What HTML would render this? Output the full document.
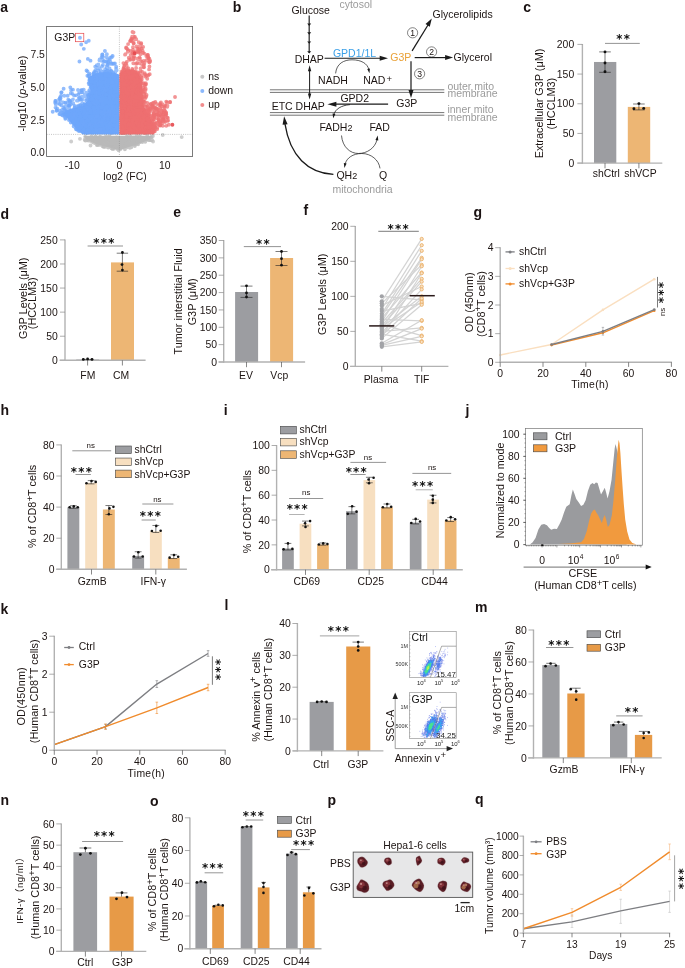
<!DOCTYPE html>
<html><head><meta charset="utf-8"><title>Figure</title>
<style>
html,body{margin:0;padding:0;background:#fff;}
svg{display:block;fill:#1c1412;font-family:"Liberation Sans",sans-serif;}
</style></head><body>
<svg width="685" height="968" viewBox="0 0 685 968">
<rect width="685" height="968" fill="#fff"/>
<text x="0.3" y="12" font-size="14" font-weight="bold" fill="#1a1212">a</text>
<polygon points="83.48,135.68 152.9,135.68 147.63,140.6 137.08,144.46 129.17,146.92 119.33,150.26 108.08,147.28 95.78,144.11 86.47,139.72" fill="#B9B9B9" stroke="none" stroke-width="0.5"/>
<path d="M95.55 136.46h0M100.12 136.75h0M109.56 136.44h0M127.06 136.15h0M130.5 136.58h0M136.37 136.29h0M139.54 136.08h0M147.24 135.9h0M151.67 136.74h0M152.84 136.07h0M150.09 137.8h0M149.74 140.14h0M148.4 140.08h0M145.24 141.78h0M142.26 142.05h0M140.5 142h0M138.13 144.33h0M136.19 143.86h0M134.84 145.97h0M132.12 145.57h0M131.27 147.23h0M129.94 147.8h0M126.67 147.39h0M124.9 149.18h0M124.37 148.09h0M120.52 148.95h0M118.69 150.23h0M117.3 149.1h0M113.64 148.87h0M112.27 148.63h0M111.42 148.33h0M108.12 147.56h0M106.46 145.68h0M104.94 146.89h0M102.83 146.41h0M99.62 144.92h0M96.88 144.96h0M94.73 143.07h0M93.22 142.42h0M91.67 141.28h0M88.99 140.64h0M87.37 140.27h0M85.33 140.62h0M85.25 136.85h0" fill="none" stroke="#B9B9B9" stroke-width="3.9" stroke-linecap="round" stroke-opacity="0.8"/>
<path d="M98.59 141.27h0M116.5 137.46h0M105.58 140.07h0M91.57 136.54h0M119.94 138.34h0M132.92 140.01h0M120.27 147.57h0M136.3 139.51h0M106.58 136.63h0M100.69 139.98h0M96.13 139.51h0M116.16 145.73h0M137.09 143.18h0M140.11 141.05h0M135.13 138.68h0M141.45 138.34h0M106.18 144.21h0M129.32 143.89h0M112.63 148.92h0M95.41 139.88h0M97.69 144.76h0M111.49 138.12h0M106.44 142.89h0M120.21 143.84h0M113.12 138.87h0M140.88 138.72h0M135.16 144.32h0M119.17 144.31h0M98.3 140.24h0M118.35 144.4h0M126.45 143.58h0M132.65 142.8h0M151.94 139.99h0M89.69 137.98h0M84.7 139.71h0M148.45 138.46h0M130.14 138.29h0M143.46 138.56h0M118.96 141.15h0M103.72 146.74h0M121.93 142.63h0M104.72 145.31h0M87.19 140.08h0M139.32 140.15h0M142.42 139.98h0M133.25 137.51h0M132.3 142.41h0M141.07 137.43h0M114.18 141.15h0M150.74 140.11h0M119.83 139.68h0M91.57 136.94h0M103.21 140.65h0M101.51 143.5h0M105.92 136.47h0M121.7 138.97h0M151.36 137.75h0M112.51 143.42h0M109.48 143.59h0M128.27 142.11h0" fill="none" stroke="#B9B9B9" stroke-width="3.9" stroke-linecap="round" stroke-opacity="0.75"/>
<path d="M71.18 141.48h0M162.72 134.97h0M181.7 137.08h0M90.51 145.52h0M153.06 141.48h0M147.79 138.84h0M79.96 138.84h0" fill="none" stroke="#B9B9B9" stroke-width="3.9" stroke-linecap="round" stroke-opacity="0.7"/>
<polygon points="119.33,134.45 82.6,134.45 76.45,129.17 71.18,123.02 66.78,117.75 61.51,114.24 66.78,110.72 75.57,107.56 82.6,105.45 87.87,100.18 90.51,91.39 88.75,82.6 88.22,77.33 94.9,73.46 105.45,71.7 114.24,72.41 119.33,74.69" fill="#6EA6FB" stroke="none" stroke-width="0.5"/>
<polygon points="119.31,134.45 153.94,134.45 156.05,130.4 153.06,123.02 147.79,114.24 143.74,105.45 142.69,91.39 141.63,79.09 136.71,71.18 129.33,68.89 122.3,70.65 119.31,73.46" fill="#EE6F70" stroke="none" stroke-width="0.5"/>
<path d="M79.08 131.16h0M77.87 130.08h0M76.72 129.27h0M75.49 127.63h0M73.63 126.29h0M70.82 122.47h0M71.26 120.14h0M68.97 119.97h0M65.32 118.82h0M65.4 116.4h0M62.26 115.23h0M62.99 112.55h0M66.8 111.79h0M69.96 110.97h0M71.45 110.4h0M73.96 108.97h0M74.71 106.06h0M76.74 106.41h0M78.99 107.23h0M82.79 105.86h0M84.76 104.27h0M86.08 100.34h0M88.83 100.97h0M88.54 98.09h0M89.7 94.39h0M90.61 92.79h0M89.15 90.64h0M90.8 88.25h0M90.4 88.52h0M89.17 84.42h0M88.69 83.19h0M89.34 80.34h0M88.68 75.98h0M89.32 75.25h0M93.46 74.13h0M95.12 71.9h0M96.13 72.28h0M100.73 73.2h0M103.37 71.47h0M105.5 71.59h0M107.54 70.66h0M111.1 71.09h0M113.57 73.63h0M112.69 72.28h0M117.74 94.58h0M117.74 104.27h0" fill="none" stroke="#6EA6FB" stroke-width="3.9" stroke-linecap="round" stroke-opacity="0.8"/>
<path d="M124.63 133h0M130.17 133h0M154.83 131.27h0M155.06 129.09h0M154.54 126.64h0M153.22 124.71h0M153.28 124.26h0M152.54 120.55h0M150.15 118.71h0M148.71 115.91h0M146.38 113.52h0M148.27 110.84h0M145.78 110.26h0M145.92 106.74h0M143.01 104.64h0M143.25 102.93h0M144.84 101.88h0M144.41 96.89h0M141.54 96.75h0M144.13 93.65h0M142.97 89.79h0M142.13 90.29h0M143.31 87.6h0M143.57 83.2h0M140.59 80.44h0M141.71 79.67h0M141.82 77.82h0M139.65 75.98h0M137.81 73.32h0M135.24 72.08h0M133.4 71.76h0M132.26 69.03h0M128.14 68.1h0M127.43 70.11h0M123.4 68.69h0M122.38 70.92h0" fill="none" stroke="#EE6F70" stroke-width="3.9" stroke-linecap="round" stroke-opacity="0.8"/>
<path d="M112.17 124.36h0M102.26 54.46h0M107.17 119.31h0M77.9 127.31h0M77.35 125.47h0M80.39 118.47h0M70.36 113.18h0M116.05 102.48h0M100.33 77.82h0M113.36 103.88h0M84.59 130.37h0M81.64 92.35h0M65.53 117.72h0M107.25 115.27h0M77.2 116.05h0M66.47 113.64h0M89.63 78.58h0M111.21 132.92h0M86.1 110.1h0M94.05 107.17h0M108.83 106.38h0M108.43 75.96h0M77.92 112.42h0M91.31 78.63h0M106.31 105.47h0M107.01 120.83h0M117.04 99.71h0M77.87 122.93h0M70.55 115.68h0M60.5 100.77h0M70.22 101.04h0M74.94 107.52h0M105.46 96.83h0M89.47 104.31h0M64.28 108.92h0M115.75 77.48h0M66.46 111.6h0M81.23 119.18h0M111.17 89.67h0M95.38 126.52h0M94.17 82.28h0M87.58 127.8h0M85.59 117.9h0M115.09 131.91h0M78.89 126.06h0M107.37 65h0M108.79 119.9h0M100.87 125.49h0M90.27 114.01h0M108.26 61.51h0M89.47 103.31h0M80.99 99.66h0M96.56 88.52h0M55.13 102.64h0M68.94 114.51h0M101.43 115.67h0M78.24 129.89h0M106.74 67.74h0M85.67 130.36h0M64.37 116.55h0M102.91 64.88h0M71.53 118.79h0M86.35 127.35h0M70.74 93.38h0M97.92 125.34h0M104.78 61.29h0M95.09 81.37h0M89.8 99.45h0M94.67 84.2h0M91.25 81.41h0M102.09 55.81h0M70.14 104.31h0M91.8 106.32h0M63.34 102.41h0M87.03 125.35h0M68.42 105.45h0M68.22 99.74h0M66.92 103.05h0M59.85 104.23h0M104.6 84.84h0M90.27 80.6h0M82.54 128.76h0M114.95 63.52h0M93.25 93.45h0M106.64 66.18h0M111.59 116.11h0M102.19 90.03h0M102.48 108.9h0M100.01 73.68h0M82.03 116.56h0M70.9 104.54h0M69 112.9h0M102.25 78.67h0M112.78 103.61h0M96.98 132.2h0M108.35 109.1h0M82.11 111.32h0M112.99 63.71h0M98.76 103.87h0M101.64 57.24h0M77.3 118.95h0M111.72 57.26h0M113.22 129.35h0M106.55 103.89h0M94.78 75.43h0M59.98 114.01h0M72.03 110.59h0M86.45 121.72h0M82.06 115.29h0M99.55 95.99h0M109.82 59.3h0M66.78 114.4h0M85.65 117.24h0M107.84 73.23h0M99.21 92.74h0M104.98 109.06h0M94.55 81.03h0M79.33 124.92h0M112.36 92.98h0M111.24 71.02h0M88.26 113.77h0" fill="none" stroke="#6EA6FB" stroke-width="3.9" stroke-linecap="round" stroke-opacity="0.72"/>
<path d="M137.43 48.41h0M154.41 107.8h0M143.11 110.98h0M127.28 79.46h0M132.94 52.08h0M156.49 118.09h0M128.79 57.75h0M137.5 51.85h0M140.34 132.28h0M130.83 97.27h0M131.35 72h0M141.09 112.76h0M146.23 96.7h0M128.07 93.8h0M158.4 124.61h0M149.95 108.52h0M132.47 105.8h0M160.07 103.56h0M143.87 64.38h0M125.85 75.16h0M133.55 75.57h0M155.07 126.85h0M154.02 111.46h0M145.69 131.35h0M153.25 116.61h0M141.67 128.65h0M142.08 75.26h0M138.72 59.53h0M147.57 54.85h0M140.74 54.15h0M160.2 114.64h0M144.64 89.59h0M153.23 115.57h0M144.59 62.49h0M127.23 117.09h0M139.94 58.36h0M133.3 63.24h0M142.58 97.2h0M139.24 126.7h0M123.78 116.5h0M133.55 42.97h0M132.72 111.27h0M128.62 124.21h0M129.4 122.9h0M166.14 112.47h0M130.89 102.82h0M134.28 56.39h0M145.77 83.12h0M142.09 129.93h0M122.34 94.41h0M145.43 123.55h0M138.03 119.92h0M144.91 85.89h0M131.56 76.74h0M148.94 116.38h0M146.39 60.19h0M136.95 62.98h0M153.03 112.08h0M157.47 122.34h0M123.41 63.1h0M130.51 125.97h0M154.2 112.56h0M152.62 103.19h0M160.1 125.22h0M139.57 115.96h0M149.35 58.81h0M142.24 64.93h0M153.38 127.22h0M126.91 114.72h0M121.61 71.88h0M144.96 74.44h0M121.14 101.91h0M121.8 105.51h0M123.43 111.04h0M164.2 106.56h0M152.71 104.48h0M153.83 115.43h0M136.64 106.53h0M123.92 69.9h0M143.1 101.21h0M142.05 71.74h0M149.59 62.29h0M136.52 76.07h0M139.96 102.01h0M166.25 114.43h0M142.28 92.07h0M163.07 114.86h0M149.84 60.41h0M125.2 88.74h0M131.04 108.63h0M132.74 94.13h0M144.45 53.6h0M158.92 112.83h0M125.34 114.34h0M132.68 91.36h0M145.02 92.35h0M130.63 50.98h0M139.26 89.83h0M126.27 96.74h0M128.8 93.14h0M122.6 132.95h0M145.51 90.11h0M133.75 36.52h0M130.04 41.16h0M149.11 120.83h0M168.84 124.8h0M126.97 129.8h0M140.79 78.07h0M132.12 36.6h0M138.71 124.07h0M160.7 104.52h0M128.23 109.11h0M150.83 109.41h0M137.29 58.71h0M132.97 47.18h0M121.53 105.29h0M122.72 126.6h0M168.17 120.43h0M127.97 77.96h0M167.91 117.95h0M143.79 67.08h0M145.07 96.28h0M132.12 38.43h0M141.74 48.45h0M129.39 82.39h0M131.58 81.02h0M133.94 53.1h0M135.55 123.41h0M130.3 76.75h0M131.94 90.53h0M130.01 110.68h0M130.85 40.71h0M134.76 53.55h0M156.72 114.85h0" fill="none" stroke="#EE6F70" stroke-width="3.9" stroke-linecap="round" stroke-opacity="0.72"/>
<path d="M101.38 85.34h0M75.46 120.94h0M112.95 90.96h0M107.83 81.97h0M77.8 100.67h0M100.2 118.86h0M74.53 110.22h0M102.59 56.87h0M115.81 92.46h0M88.19 95.95h0M116.68 70.21h0M106.88 54.31h0M99.18 67.86h0M92.68 99.16h0M99.42 60.29h0M61.63 92.36h0M92.19 122.52h0M90.95 113.12h0M107.46 128.8h0M81.02 120.76h0M79.4 129.1h0M117.58 117.86h0M106.75 121.41h0M87.34 130.46h0M94.86 81.76h0M104.24 128.74h0M106.37 124.43h0M55.84 104.5h0M97.84 74.29h0M113.87 102.83h0M115.6 75.44h0M92.35 130.31h0M71.1 90.13h0M89.22 120.77h0M90.78 105.22h0M99.92 89.67h0M93.56 90.34h0M76.6 122.58h0M89.9 92.18h0M110.41 87.96h0M101.55 60.81h0M116.15 112.47h0M97.64 102.43h0M107.15 94.34h0M102.07 114.2h0M104.78 110h0M91.8 92.71h0M90.9 86.14h0M110.51 101.69h0M100.75 75.89h0M89.81 83.4h0M104.92 121.57h0M91.12 99.58h0M113.6 78.43h0M108.25 130.53h0M81.41 126.58h0M86.03 127.38h0M87.33 108.08h0M76.93 100.66h0M115.41 107.37h0M79.74 97.92h0M110.97 131h0M82.3 103.11h0M75.99 95.36h0M117.4 119.64h0M98.58 119.19h0M111.51 86.39h0M72.51 93.83h0M94.69 101.35h0M80.43 116.49h0M73.45 120.96h0M97.16 67.99h0M89.68 73.68h0M63.82 114.18h0M87.67 119.4h0M106.19 56.94h0M103.85 78.34h0M112.54 99.63h0M91.59 130.6h0M94.04 72.31h0M114.29 122h0M112.21 118.81h0M92.89 130.64h0M115.53 71.78h0M100.45 70.02h0M110.67 91.6h0M116.95 75.7h0M61.09 95.65h0M96.91 79.87h0M99.63 59.45h0M108.05 62.33h0M108.13 117.91h0M76.61 111.14h0M116.09 68.92h0M86.52 70.5h0M62.14 109.83h0M112.26 100.07h0M69.66 101.76h0M110.48 61.92h0M88.98 74.04h0M78.69 105.81h0M109.09 78.19h0M60.71 97.97h0M100.33 75.02h0M112.87 115.45h0M109.76 62.69h0M55.53 107.62h0M96.58 109.24h0M108.81 80.74h0M113.11 112.09h0M95.22 66.59h0M90.78 110.66h0M81.96 108.01h0M104.23 75.35h0M109.3 101.7h0M105.21 69.09h0M102.47 58.91h0M79.27 113.2h0M115.31 86.64h0M98.7 112.47h0M94.56 89.01h0" fill="none" stroke="#6EA6FB" stroke-width="3.9" stroke-linecap="round" stroke-opacity="0.72"/>
<path d="M146.81 126.64h0M156.47 114.25h0M148.55 130.82h0M148.43 57.97h0M139.01 74.36h0M136.61 46.51h0M133.13 84.86h0M136.05 122.25h0M149.41 66.46h0M148.65 109.68h0M144.24 110.25h0M126.69 61.98h0M131.34 38.8h0M130.87 103.71h0M126.62 65.54h0M139.27 49.71h0M121.44 133.12h0M125.15 105.29h0M145.64 76.65h0M152.67 127.36h0M133.62 57.59h0M122.3 111.09h0M135.89 51.49h0M129.42 112.12h0M130.24 116.24h0M139.55 88.48h0M122.98 90.07h0M162.39 104.11h0M136.06 91.52h0M143.33 130.86h0M122.92 77.18h0M163.45 119.27h0M142.43 61.36h0M146.94 75.33h0M143.1 100.12h0M135.87 77.55h0M138.52 52.47h0M137.28 79.3h0M166.89 120.3h0M135.93 90.5h0M145.23 98.22h0M138.28 122.29h0M130.45 101.39h0M125.21 99.55h0M140.96 44.25h0M126.58 119.97h0M125.7 86.42h0M145.66 88.77h0M124.96 73.99h0M143.14 120.1h0M157.07 109.31h0M126.06 116.73h0M129.56 129.87h0M132.89 70.38h0M136.08 104.3h0M167.34 120.84h0M139.78 107.32h0M148.68 113.98h0M133.78 52.24h0M126.49 113.74h0M148.95 62.05h0M140.17 47.29h0M128.54 83.48h0M130.12 115.53h0M140.77 80.85h0M124.74 66.02h0M139.17 80.04h0M140.53 68.49h0M121.93 79.19h0M134.73 83.3h0M122.62 89.44h0M165.05 111.07h0M135.15 113.2h0M136.28 109.96h0M138.63 88.44h0M123.96 66.83h0M139.49 57.33h0M138.57 46.42h0M143.45 90.26h0M136.16 63.92h0M148.8 127.59h0M138.96 111.09h0M145.42 123.71h0M129.23 59.82h0M131.95 73.14h0M151.41 120.16h0M130.85 106.98h0M161.87 121.32h0M127.81 51.74h0M137.43 108.54h0M141.41 101.42h0M123.8 74.63h0M133.91 79.6h0M151.97 105.99h0M128.12 110.35h0M156.91 109.96h0M136.55 110.9h0M143.83 60.86h0M121.35 80.85h0M123.94 83.49h0M130.1 127.82h0M128.45 50.65h0M122.37 111.46h0M137.29 124.15h0M133.65 59.24h0M132.61 53.26h0M164.58 120.68h0M158.94 115.98h0M137.68 81.84h0M129.08 101.81h0M143.83 91.32h0M131.52 122.13h0M160.37 120.09h0M126.54 131.32h0M129.44 101.81h0M138.08 125.67h0M160.99 102.48h0M146.45 56.14h0M142.58 50.81h0M128.38 107.42h0M126.58 68.48h0M131.79 130.63h0M129.87 59.48h0M123.08 84.19h0M149.07 69.4h0M165.14 105.35h0M137.01 75.12h0M140.49 71.7h0M151.66 126.46h0M133.08 52.78h0M163.57 112.05h0M123.4 102.96h0M136.87 131.05h0M158.67 119.09h0" fill="none" stroke="#EE6F70" stroke-width="3.9" stroke-linecap="round" stroke-opacity="0.72"/>
<path d="M94.65 112.85h0M100.04 84.14h0M93.56 107.43h0M94.61 96.42h0M93.54 73.59h0M84.46 111.07h0M88.08 94.85h0M106.64 71.43h0M107.19 89.62h0M107.55 125.22h0M107.86 118.96h0M105.97 94.63h0M84.79 117.36h0M63.38 107.67h0M87.55 71.35h0M65.24 110.79h0M107.99 59.34h0M109.6 68.4h0M105.26 102.56h0M77.54 110.33h0M80.2 105.04h0M91.34 127.75h0M116.94 110.27h0M97 78.88h0M102.9 82.98h0M85.98 125.82h0M83.76 89.78h0M80.65 90.72h0M82.28 92.17h0M107.37 106.87h0M97.93 97.3h0M103.8 61.54h0M102.72 98.17h0M98 110.2h0M57.17 108.56h0M110.45 63.79h0M109.6 97.45h0M73.46 122.98h0M109.46 72.95h0M77.98 89.95h0M91.67 81.86h0M74.09 95.6h0M90.44 78.4h0M105.51 75.77h0M105.93 100.44h0M114.56 88.36h0M109.85 57.75h0M90.19 117.56h0M97.54 107.24h0M115.6 85.88h0M98.33 64.55h0M108.12 75.95h0M91.55 78h0M74.75 120.89h0M105.72 132.29h0M95.38 70.18h0M101.09 87.13h0M102.53 92.6h0M109.94 100.91h0M108.73 70.49h0M55.72 100.99h0M76.05 129.36h0M102.01 66.52h0M89.57 116.52h0M91.29 80.81h0M96.84 65.3h0M114.99 79.06h0M110.55 91.26h0M61.24 92.56h0M64.3 95.79h0M110.43 93.03h0M85.45 116.77h0M98.52 70.66h0M87.39 75.81h0M59.1 99.33h0M92.42 116.19h0M92.67 132.52h0M93.91 108.63h0M75.91 118.37h0M114.91 85.66h0M101.45 107.56h0M86.03 115.8h0M102.6 104.08h0M94.36 121.26h0M59.63 110.73h0M97.47 113.04h0M107.62 128.76h0M102.18 120.17h0M92.1 87.57h0M104.75 123.32h0M116.26 95.48h0M104.95 72.53h0M85.72 126.38h0M99.92 84.02h0M105.35 107.89h0M107.44 85.19h0M96.15 120.48h0M92.39 120.48h0M106.57 86.21h0M108.67 102.67h0M99.32 88.12h0M106.23 61.75h0M116.05 81.59h0M111.62 101.93h0M79.32 92.86h0M86.64 132.98h0M107.76 65.16h0M115.22 89.15h0M60.18 97.21h0M114.15 125.2h0M58.55 103.06h0M116.06 81.54h0M94.81 82.69h0M97.72 126.3h0M98.17 97.59h0M102.57 124.98h0M102.49 54.73h0M111.72 63.71h0M79.18 113.19h0" fill="none" stroke="#6EA6FB" stroke-width="3.9" stroke-linecap="round" stroke-opacity="0.72"/>
<path d="M135.11 109.87h0M148.45 75.28h0M153.74 114.17h0M140.15 130.18h0M129.09 90.91h0M127.98 84.92h0M129.1 107.43h0M135.96 71.46h0M136.56 128.22h0M137.14 77.06h0M134.07 72.57h0M131.22 124.68h0M128.59 109.33h0M139.26 125.57h0M135.49 96.48h0M138.8 127.84h0M133.21 39.76h0M141.79 114.46h0M136.43 97.96h0M138.19 72.43h0M138.6 51.49h0M154.78 123.95h0M141.81 83.52h0M141.33 90.77h0M163.66 112.51h0M128.55 100.67h0M146.23 123.63h0M158.5 115.8h0M156.53 103.93h0M134.82 39.5h0M131.68 55.35h0M121.07 96.39h0M134.82 38.67h0M148.98 114.42h0M132.26 96.41h0M137.65 90.23h0M163.38 114.56h0M122.44 111.46h0M146.44 75.6h0M152.78 106.03h0M141.15 84.53h0M132.35 120.52h0M137.57 132.53h0M143.87 101.8h0M143.91 67.28h0M141.29 61.29h0M143.1 52.7h0M130.85 59.58h0M167.46 105.83h0M121.55 120.11h0M138.88 49.25h0M138.88 123.69h0M126.3 48.27h0M144.75 132.96h0M126.41 89.72h0M131.49 58.19h0M166.9 104.58h0M161.99 117.86h0M121.36 116.74h0M124.49 65.42h0M133.22 124.38h0M126.16 92.54h0M131.01 78.89h0M153.11 104.26h0M124.32 106.03h0M144.72 73.2h0M153.77 102.74h0M128.07 124.71h0M140.75 112.46h0M152.98 107.76h0M125.64 131.5h0M133.07 126.9h0M154.9 126.87h0M130.36 114.39h0M160.73 122.75h0M121.01 118.88h0M123.64 87.91h0M162.89 114.84h0M127.08 98.49h0M138.74 42.21h0M163.91 118.56h0M139.5 63.33h0M128.38 94.08h0M147.22 78.81h0M167.28 106.86h0M167.1 117.44h0M122.45 101.61h0M142.7 121.58h0M136.11 67.97h0M125.69 77.52h0M154 127.06h0M133.54 74.44h0M132.58 122.41h0M137.53 110.68h0M165.93 113.13h0M126.2 116.25h0M148.09 130.44h0M148.15 127.64h0M167.15 102.52h0M125.43 54.19h0M134.07 105.15h0M129.82 77.03h0M155.85 108.21h0M133.47 58.72h0M134.03 130.31h0M136.28 39.16h0M128.1 44.11h0M169.97 102.29h0M125.96 63.38h0M164.17 113.96h0M130.51 124.29h0M132.2 39.25h0M139.43 85.64h0M133.46 113.26h0M140.17 110.11h0M130.71 54.86h0M139.39 97.62h0M154.49 117.36h0M122.38 77.06h0M144.18 104.72h0M126.86 81.23h0M132.58 77.26h0M124.33 69.25h0M133.03 49.96h0M131.65 41.1h0M143.83 64.86h0M126.96 132.32h0M122.13 80.3h0M148.08 56.39h0M128.24 114.04h0M158.37 119.48h0M132.38 93.22h0M125.05 54.65h0M143.12 46.91h0M145.04 84.48h0" fill="none" stroke="#EE6F70" stroke-width="3.9" stroke-linecap="round" stroke-opacity="0.72"/>
<path d="M158.14 109.88h0M154.46 110.18h0M151.45 115.64h0M152.62 108.24h0M150.03 117.07h0M160.16 107.5h0M146.96 132.37h0M147.33 119.12h0M149.5 108.4h0M154.37 115.7h0M165.3 115.66h0M144.66 112.09h0M153.65 119.34h0M162.28 123.09h0M146.87 110.71h0M157.36 127.55h0M157 108.83h0M149.98 110.49h0M155.96 123.82h0M160.82 122.21h0M159.4 124.77h0M161.81 110.38h0M164.36 110.37h0M152.3 123.39h0M147.12 110.07h0M150.21 104.42h0M153.34 116.06h0M157.15 114.09h0M154.03 108.64h0M147.86 114.51h0M158.6 122.52h0M161.37 112.43h0M162.61 121.51h0M163.8 121.14h0M160.47 111.57h0M149.4 111.35h0M146.82 131.59h0M147.59 113.48h0M151.42 115.96h0M150.04 105h0M147.9 106.1h0M159.82 111.29h0M160.54 113.67h0M148.48 131.42h0M159.73 114.98h0" fill="none" stroke="#EE6F70" stroke-width="3.9" stroke-linecap="round" stroke-opacity="0.72"/>
<path d="M149.39 127.44h0M148.54 124.73h0M161.93 110.33h0M159.08 120.42h0M148.57 120.95h0M158.42 110.62h0M153.72 119.46h0M149.2 112.13h0M159.7 121.92h0M148.84 112.74h0M150.09 108.1h0M162 112.7h0M160.37 105.02h0M155.74 107.91h0M163.85 117.3h0M146.94 118.66h0M152.37 124.99h0M161.58 106.55h0M152.91 117.96h0M159.19 110.05h0M154.91 124.87h0M152.57 116.85h0M165.12 122.04h0M154.44 122.59h0M154.67 122.06h0M161.47 116.56h0M153.06 106.18h0M145.41 112.05h0M147.28 106.56h0M147.93 119.42h0M148.05 108.59h0M153.77 113.56h0M146.88 111.19h0M157.75 112.07h0M160.25 125.53h0" fill="none" stroke="#EE6F70" stroke-width="3.9" stroke-linecap="round" stroke-opacity="0.72"/>
<path d="M61.12 114.12h0M82.36 99.43h0M88.43 94.91h0M80 99.49h0M68.82 110.88h0M80.64 105.78h0M87.11 99.15h0M82.55 97.7h0M62.27 112.97h0M80.38 97.19h0M82.34 97.4h0M67.53 111.31h0M72.96 99.37h0M66.31 111.41h0M84.6 94.69h0M84.3 104.38h0M66.11 109.96h0M84.29 96.47h0M81.78 96.78h0M68.25 110.43h0M65.1 106.39h0M79.63 98.78h0M72.25 102.87h0M78.33 94.35h0M69.3 108.41h0M61.99 112.34h0M69.34 100.42h0M86.35 96.17h0M65.76 108.76h0M73.22 103.26h0M59.39 114.09h0M60.76 112.98h0M69.01 105.67h0M72.07 102.5h0M61.4 105.28h0M78.83 97.85h0M86.19 92.64h0M56.87 110.29h0M66 109.58h0M68.54 106.06h0" fill="none" stroke="#6EA6FB" stroke-width="3.9" stroke-linecap="round" stroke-opacity="0.72"/>
<path d="M79.96 37.79h0M88.75 40.77h0M86.12 42.18h0M81.2 44.46h0M83.83 48.86h0M104.92 50.97h0M79.44 61.51h0M87.87 58.88h0M90.51 60.63h0M112.48 55.89h0M112.64 55.89h0M113.87 63.62h0M116.15 66.78h0M63.62 88.75h0M70.3 87.35h0M72.93 89.63h0M55.36 101.05h0M59.75 98.42h0M52.72 111.78h0M56.59 110.72h0M81.72 89.98h0M67.66 95.78h0M65.38 102.81h0M69.42 105.45h0" fill="none" stroke="#6EA6FB" stroke-width="3.9" stroke-linecap="round" stroke-opacity="0.75"/>
<path d="M132.5 31.99h0M133.55 32.34h0M134.96 36.91h0M130.74 40.42h0M141.28 43.23h0M133.73 43.59h0M126.17 47.45h0M127.57 49.21h0M140.23 51.32h0M147.79 54.83h0M150.07 61.16h0M148.31 58h0M175.03 97.01h0M170.11 101.93h0M166.24 101.58h0M155.34 101.93h0M150.77 104.04h0M147.26 102.99h0M159.21 105.1h0M164.48 107.56h0M165.89 113.88h0M162.72 119.51h0M166.24 125.83h0M162.72 125.83h0M157.1 129.17h0M149.72 74.17h0M146.03 84.36h0M146.56 94.9h0" fill="none" stroke="#EE6F70" stroke-width="3.9" stroke-linecap="round" stroke-opacity="0.75"/>
<path d="M172.39 124.78h0M134.6 53.25h0" fill="none" stroke="#E5484C" stroke-width="3.9" stroke-linecap="round" stroke-opacity="0.9"/>
<line x1="119.4" y1="26.4" x2="119.4" y2="156.4" stroke="#888" stroke-width="0.5" stroke-dasharray="1 1.2"/>
<line x1="46.6" y1="134.4" x2="192.6" y2="134.4" stroke="#888" stroke-width="0.5" stroke-dasharray="1 1.2"/>
<rect x="46.6" y="26.4" width="146" height="130" fill="none" stroke="#5a5a5a" stroke-width="0.8"/>
<text x="54.3" y="41.2" font-size="10.4">G3P</text>
<rect x="75.4" y="33.3" width="8.4" height="8.4" fill="none" stroke="#E5484C" stroke-width="0.7"/>
<text x="44.9" y="58.25" font-size="10.4" text-anchor="end">7.5</text>
<text x="44.9" y="91.05" font-size="10.4" text-anchor="end">5.0</text>
<text x="44.9" y="123.75" font-size="10.4" text-anchor="end">2.5</text>
<text x="44.9" y="156.25" font-size="10.4" text-anchor="end">0.0</text>
<text x="72.3" y="168.5" font-size="10.4" text-anchor="middle">-10</text>
<text x="119.4" y="168.5" font-size="10.4" text-anchor="middle">0</text>
<text x="164.8" y="168.5" font-size="10.4" text-anchor="middle">10</text>
<text x="125" y="179.6" font-size="10.4" text-anchor="middle">log2 (FC)</text>
<text x="26.3" y="93.6" font-size="10.85" text-anchor="middle" transform="rotate(-90 26.3 93.6)">-log10 (<tspan font-style="italic">p</tspan>-value)</text>
<circle cx="202.3" cy="76.8" r="2" fill="#B9B9B9" opacity="0.8"/>
<text x="208.2" y="80.1" font-size="10.4">ns</text>
<circle cx="202.3" cy="90.9" r="2" fill="#6EA6FB" opacity="0.8"/>
<text x="208.2" y="94.2" font-size="10.4">down</text>
<circle cx="202.3" cy="105.1" r="2" fill="#EE6F70" opacity="0.8"/>
<text x="208.2" y="108.4" font-size="10.4">up</text>
<text x="232.7" y="12" font-size="14" font-weight="bold" fill="#1a1212">b</text>
<text x="310.7" y="13.6" font-size="10.5" text-anchor="middle">Glucose</text>
<text x="355.8" y="8.3" font-size="10.5" text-anchor="middle" fill="#9b9b9b">cytosol</text>
<text x="309.3" y="62.8" font-size="10.5" text-anchor="middle">DHAP</text>
<text x="354.5" y="56.5" font-size="10.5" text-anchor="middle" fill="#3BA0E8">GPD1/1L</text>
<text x="400.8" y="60.7" font-size="10.5" text-anchor="middle" fill="#E9A137">G3P</text>
<text x="462.6" y="17.5" font-size="10.5" text-anchor="middle">Glycerolipids</text>
<text x="472.8" y="60.7" font-size="10.5" text-anchor="middle">Glycerol</text>
<text x="333" y="84.3" font-size="10.5" text-anchor="middle">NADH</text>
<text x="374.3" y="84.3" font-size="10.5" text-anchor="middle">NAD</text>
<text x="389.3" y="81.6" font-size="9.5" text-anchor="middle">+</text>
<text x="298.2" y="109.7" font-size="10.5" text-anchor="middle">ETC DHAP</text>
<text x="354.7" y="102" font-size="10.5" text-anchor="middle">GPD2</text>
<text x="406.8" y="107.3" font-size="10.5" text-anchor="middle">G3P</text>
<text x="319.4" y="130.9" font-size="10.5">FADH<tspan font-size="9">2</tspan></text>
<text x="379.6" y="130.9" font-size="10.5" text-anchor="middle">FAD</text>
<text x="336.4" y="178.7" font-size="10.5">QH<tspan font-size="9">2</tspan></text>
<text x="383.2" y="178.7" font-size="10.5" text-anchor="middle">Q</text>
<text x="362.6" y="192.9" font-size="10.5" text-anchor="middle" fill="#9b9b9b">mitochondria</text>
<text x="447.4" y="89.8" font-size="10.5" fill="#9b9b9b">outer mito</text>
<text x="447.4" y="97.4" font-size="10.5" fill="#9b9b9b">membrane</text>
<text x="447.4" y="113.2" font-size="10.5" fill="#9b9b9b">inner mito</text>
<text x="447.4" y="120.8" font-size="10.5" fill="#9b9b9b">membrane</text>
<line x1="269.9" y1="89.8" x2="444.3" y2="89.8" stroke="#3a3a3a" stroke-width="0.7"/>
<line x1="269.9" y1="92.4" x2="444.3" y2="92.4" stroke="#3a3a3a" stroke-width="0.7"/>
<line x1="269.9" y1="112.6" x2="444.3" y2="112.6" stroke="#3a3a3a" stroke-width="0.7"/>
<line x1="269.9" y1="115.2" x2="444.3" y2="115.2" stroke="#3a3a3a" stroke-width="0.7"/>
<line x1="309.2" y1="15.6" x2="309.2" y2="52.4" stroke="#333" stroke-width="1.3"/>
<polygon points="309.2,25.9 307.2,23.5 311.2,23.5" fill="#1a1a1a" stroke="none" stroke-width="0.5"/>
<polygon points="309.2,34.7 307.2,32.3 311.2,32.3" fill="#1a1a1a" stroke="none" stroke-width="0.5"/>
<polygon points="309.2,43.8 307.2,41.4 311.2,41.4" fill="#1a1a1a" stroke="none" stroke-width="0.5"/>
<polygon points="309.2,53.6 307.2,51.2 311.2,51.2" fill="#1a1a1a" stroke="none" stroke-width="0.5"/>
<line x1="324.6" y1="58.2" x2="381" y2="58.2" stroke="#1a1a1a" stroke-width="1.1"/>
<polygon points="388,58.2 379.7,60.69 379.7,55.71" fill="#1a1a1a" stroke="none" stroke-width="0.5"/>
<path d="M335.6 73.4 C336.5 63.5,344 59.8,352 59.8 C361 59.8,367.5 63.5,368.8 69.5" fill="none" stroke="#1a1a1a" stroke-width="0.7"/>
<polygon points="369.4,73.2 367.24,68.91 369.96,68.43" fill="#1a1a1a" stroke="none" stroke-width="0.5"/>
<line x1="412.1" y1="50.8" x2="428.6" y2="24" stroke="#1a1a1a" stroke-width="1.25"/>
<polygon points="431.8,18.6 429.72,26.71 425.5,24.11" fill="#1a1a1a" stroke="none" stroke-width="0.5"/>
<line x1="414.7" y1="57.6" x2="446" y2="57.6" stroke="#1a1a1a" stroke-width="1.2"/>
<polygon points="453.1,57.6 445.1,60.08 445.1,55.12" fill="#1a1a1a" stroke="none" stroke-width="0.5"/>
<line x1="411" y1="61.3" x2="411" y2="91" stroke="#1a1a1a" stroke-width="1.2"/>
<polygon points="411,97.9 408.52,89.9 413.48,89.9" fill="#1a1a1a" stroke="none" stroke-width="0.5"/>
<circle cx="412.6" cy="32.8" r="5.1" fill="#fff" stroke="#333" stroke-width="0.6"/>
<text x="412.6" y="35.9" font-size="8.6" text-anchor="middle">1</text>
<circle cx="431.6" cy="51.9" r="5.1" fill="#fff" stroke="#333" stroke-width="0.6"/>
<text x="431.6" y="55" font-size="8.6" text-anchor="middle">2</text>
<circle cx="419.6" cy="73.8" r="5.1" fill="#fff" stroke="#333" stroke-width="0.6"/>
<text x="419.6" y="76.9" font-size="8.6" text-anchor="middle">3</text>
<line x1="309.6" y1="70" x2="309.6" y2="95" stroke="#1a1a1a" stroke-width="1"/>
<polygon points="309.6,65.3 311.28,71.3 307.92,71.3" fill="#1a1a1a" stroke="none" stroke-width="0.5"/>
<polygon points="309.6,99.4 307.92,93.4 311.28,93.4" fill="#1a1a1a" stroke="none" stroke-width="0.5"/>
<line x1="335" y1="104.2" x2="388.1" y2="104.2" stroke="#1a1a1a" stroke-width="1.2"/>
<polygon points="327.4,104.2 336.4,101.68 336.4,106.72" fill="#1a1a1a" stroke="none" stroke-width="0.5"/>
<path d="M350 104.6 C341 105.5,335.5 109,333.8 114.5" fill="none" stroke="#1a1a1a" stroke-width="0.8"/>
<polygon points="333.2,118.2 332.55,113.41 335.45,113.93" fill="#1a1a1a" stroke="none" stroke-width="0.5"/>
<path d="M341.5 135.5 C342.5 147,350 153.5,358.5 153.5 C367 153.5,375 148,376.9 140" fill="none" stroke="#1a1a1a" stroke-width="0.7"/>
<polygon points="377.7,135.6 378.28,140.58 375.45,140.08" fill="#1a1a1a" stroke="none" stroke-width="0.5"/>
<path d="M380 168.4 C379 160,371 153.5,361.8 153.5 C353 153.5,346.5 158,345.2 164" fill="none" stroke="#1a1a1a" stroke-width="0.7"/>
<polygon points="344.4,167.9 343.82,162.92 346.65,163.42" fill="#1a1a1a" stroke="none" stroke-width="0.5"/>
<path d="M333.4 174.3 C308 173,290 156,285 124" fill="none" stroke="#1a1a1a" stroke-width="1.35"/>
<polygon points="284.1,116.3 287.62,124.13 282.58,124.75" fill="#1a1a1a" stroke="none" stroke-width="0.5"/>
<text x="523.3" y="12" font-size="14" font-weight="bold" fill="#1a1212">c</text>
<rect x="594" y="61.97" width="22.3" height="101.13" fill="#9C9DA1"/>
<rect x="627.8" y="106.9" width="22.4" height="56.2" fill="#EDB674"/>
<line x1="582.4" y1="163.8" x2="582.4" y2="44" stroke="#b2b2b2" stroke-width="1.4"/>
<line x1="577.4" y1="44.4" x2="582.4" y2="44.4" stroke="#8a8a8a" stroke-width="0.7"/>
<text x="574.2" y="48.14" font-size="10.4" text-anchor="end">200</text>
<line x1="577.4" y1="74.07" x2="582.4" y2="74.07" stroke="#8a8a8a" stroke-width="0.7"/>
<text x="574.2" y="77.82" font-size="10.4" text-anchor="end">150</text>
<line x1="577.4" y1="103.75" x2="582.4" y2="103.75" stroke="#8a8a8a" stroke-width="0.7"/>
<text x="574.2" y="107.49" font-size="10.4" text-anchor="end">100</text>
<line x1="577.4" y1="133.43" x2="582.4" y2="133.43" stroke="#8a8a8a" stroke-width="0.7"/>
<text x="574.2" y="137.17" font-size="10.4" text-anchor="end">50</text>
<line x1="577.4" y1="163.1" x2="582.4" y2="163.1" stroke="#8a8a8a" stroke-width="0.7"/>
<text x="574.2" y="166.84" font-size="10.4" text-anchor="end">0</text>
<line x1="577.4" y1="163.1" x2="662.3" y2="163.1" stroke="#b2b2b2" stroke-width="1.4"/>
<line x1="605" y1="163.1" x2="605" y2="168.3" stroke="#555" stroke-width="0.7"/>
<line x1="638.9" y1="163.1" x2="638.9" y2="168.3" stroke="#555" stroke-width="0.7"/>
<line x1="605" y1="51.9" x2="605" y2="72.3" stroke="#222" stroke-width="0.6"/>
<line x1="599.2" y1="51.9" x2="610.8" y2="51.9" stroke="#222" stroke-width="0.6"/>
<line x1="599.2" y1="72.3" x2="610.8" y2="72.3" stroke="#222" stroke-width="0.6"/>
<line x1="638.9" y1="104" x2="638.9" y2="109.9" stroke="#222" stroke-width="0.6"/>
<line x1="633.1" y1="104" x2="644.7" y2="104" stroke="#222" stroke-width="0.6"/>
<line x1="633.1" y1="109.9" x2="644.7" y2="109.9" stroke="#222" stroke-width="0.6"/>
<circle cx="605" cy="51.9" r="1.45" fill="#111"/>
<circle cx="605" cy="63" r="1.45" fill="#111"/>
<circle cx="605" cy="71.8" r="1.45" fill="#111"/>
<circle cx="633.9" cy="108.8" r="1.45" fill="#111"/>
<circle cx="638.9" cy="103.6" r="1.45" fill="#111"/>
<circle cx="643.7" cy="108.4" r="1.45" fill="#111"/>
<line x1="605" y1="43.4" x2="639.8" y2="43.4" stroke="#666" stroke-width="0.7"/>
<text x="623.65" y="42.99" font-size="11.8" text-anchor="middle" font-family="DejaVu Sans, Liberation Sans, sans-serif" font-weight="bold" fill="#111" letter-spacing="1.3">**</text>
<text x="606.3" y="177.4" font-size="10.4" text-anchor="middle">shCtrl</text>
<text x="640.4" y="177.4" font-size="10.4" text-anchor="middle">shVCP</text>
<text x="543.4" y="103.5" font-size="10.85" text-anchor="middle" transform="rotate(-90 543.4 103.5)">Extracellular G3P (μM)</text>
<text x="555.4" y="103.7" font-size="10.85" text-anchor="middle" transform="rotate(-90 555.4 103.7)">(HCCLM3)</text>
<text x="0.5" y="219.3" font-size="14" font-weight="bold" fill="#1a1212">d</text>
<rect x="76.2" y="359.53" width="23" height="0.77" fill="#9C9DA1"/>
<rect x="111" y="262.4" width="23" height="97.9" fill="#EDB674"/>
<line x1="65" y1="361" x2="65" y2="239.5" stroke="#b2b2b2" stroke-width="1.4"/>
<line x1="60" y1="239.9" x2="65" y2="239.9" stroke="#8a8a8a" stroke-width="0.7"/>
<text x="57.7" y="243.64" font-size="10.4" text-anchor="end">250</text>
<line x1="60" y1="263.98" x2="65" y2="263.98" stroke="#8a8a8a" stroke-width="0.7"/>
<text x="57.7" y="267.72" font-size="10.4" text-anchor="end">200</text>
<line x1="60" y1="288.06" x2="65" y2="288.06" stroke="#8a8a8a" stroke-width="0.7"/>
<text x="57.7" y="291.8" font-size="10.4" text-anchor="end">150</text>
<line x1="60" y1="312.14" x2="65" y2="312.14" stroke="#8a8a8a" stroke-width="0.7"/>
<text x="57.7" y="315.88" font-size="10.4" text-anchor="end">100</text>
<line x1="60" y1="336.22" x2="65" y2="336.22" stroke="#8a8a8a" stroke-width="0.7"/>
<text x="57.7" y="339.96" font-size="10.4" text-anchor="end">50</text>
<line x1="60" y1="360.3" x2="65" y2="360.3" stroke="#8a8a8a" stroke-width="0.7"/>
<text x="57.7" y="364.04" font-size="10.4" text-anchor="end">0</text>
<line x1="59.6" y1="360.3" x2="145.6" y2="360.3" stroke="#b2b2b2" stroke-width="1.4"/>
<line x1="87.6" y1="360.3" x2="87.6" y2="365.5" stroke="#555" stroke-width="0.7"/>
<line x1="122.4" y1="360.3" x2="122.4" y2="365.5" stroke="#555" stroke-width="0.7"/>
<line x1="122.4" y1="253.2" x2="122.4" y2="271.2" stroke="#222" stroke-width="0.6"/>
<line x1="116.7" y1="253.2" x2="128.1" y2="253.2" stroke="#222" stroke-width="0.6"/>
<line x1="116.7" y1="271.2" x2="128.1" y2="271.2" stroke="#222" stroke-width="0.6"/>
<line x1="82" y1="359.4" x2="93.4" y2="359.4" stroke="#222" stroke-width="0.6"/>
<circle cx="122.4" cy="252.5" r="1.4" fill="#111"/>
<circle cx="122" cy="264.6" r="1.4" fill="#111"/>
<circle cx="122.4" cy="270.1" r="1.4" fill="#111"/>
<circle cx="83.3" cy="359.4" r="1.4" fill="#111"/>
<circle cx="87.6" cy="359" r="1.4" fill="#111"/>
<circle cx="92" cy="359.4" r="1.4" fill="#111"/>
<line x1="87.6" y1="246" x2="123" y2="246" stroke="#666" stroke-width="0.7"/>
<text x="104.45" y="246.69" font-size="11.8" text-anchor="middle" font-family="DejaVu Sans, Liberation Sans, sans-serif" font-weight="bold" fill="#111" letter-spacing="1.3">***</text>
<text x="87.8" y="378.5" font-size="10.4" text-anchor="middle">FM</text>
<text x="121.2" y="378.5" font-size="10.4" text-anchor="middle">CM</text>
<text x="26.6" y="298.2" font-size="10.85" text-anchor="middle" transform="rotate(-90 26.6 298.2)">G3P Levels (μM)</text>
<text x="36.2" y="303.3" font-size="10.85" text-anchor="middle" transform="rotate(-90 36.2 303.3)">(HCCLM3)</text>
<text x="173.2" y="217.1" font-size="14" font-weight="bold" fill="#1a1212">e</text>
<rect x="235.1" y="292" width="23" height="70" fill="#9C9DA1"/>
<rect x="270.1" y="258" width="23" height="104" fill="#EDB674"/>
<line x1="223.7" y1="362.7" x2="223.7" y2="240.1" stroke="#b2b2b2" stroke-width="1.4"/>
<line x1="218.7" y1="240.5" x2="223.7" y2="240.5" stroke="#8a8a8a" stroke-width="0.7"/>
<text x="217" y="244.24" font-size="10.4" text-anchor="end">350</text>
<line x1="218.7" y1="257.86" x2="223.7" y2="257.86" stroke="#8a8a8a" stroke-width="0.7"/>
<text x="217" y="261.6" font-size="10.4" text-anchor="end">300</text>
<line x1="218.7" y1="275.21" x2="223.7" y2="275.21" stroke="#8a8a8a" stroke-width="0.7"/>
<text x="217" y="278.96" font-size="10.4" text-anchor="end">250</text>
<line x1="218.7" y1="292.57" x2="223.7" y2="292.57" stroke="#8a8a8a" stroke-width="0.7"/>
<text x="217" y="296.32" font-size="10.4" text-anchor="end">200</text>
<line x1="218.7" y1="309.93" x2="223.7" y2="309.93" stroke="#8a8a8a" stroke-width="0.7"/>
<text x="217" y="313.67" font-size="10.4" text-anchor="end">150</text>
<line x1="218.7" y1="327.29" x2="223.7" y2="327.29" stroke="#8a8a8a" stroke-width="0.7"/>
<text x="217" y="331.03" font-size="10.4" text-anchor="end">100</text>
<line x1="218.7" y1="344.64" x2="223.7" y2="344.64" stroke="#8a8a8a" stroke-width="0.7"/>
<text x="217" y="348.39" font-size="10.4" text-anchor="end">50</text>
<line x1="218.7" y1="362" x2="223.7" y2="362" stroke="#8a8a8a" stroke-width="0.7"/>
<text x="217" y="365.74" font-size="10.4" text-anchor="end">0</text>
<line x1="218.6" y1="362" x2="305.1" y2="362" stroke="#b2b2b2" stroke-width="1.4"/>
<line x1="246.5" y1="362" x2="246.5" y2="367.2" stroke="#555" stroke-width="0.7"/>
<line x1="281.5" y1="362" x2="281.5" y2="367.2" stroke="#555" stroke-width="0.7"/>
<line x1="246.5" y1="286.1" x2="246.5" y2="297.4" stroke="#222" stroke-width="0.6"/>
<line x1="240.5" y1="286.1" x2="252.5" y2="286.1" stroke="#222" stroke-width="0.6"/>
<line x1="240.5" y1="297.4" x2="252.5" y2="297.4" stroke="#222" stroke-width="0.6"/>
<line x1="281.5" y1="251.5" x2="281.5" y2="265.5" stroke="#222" stroke-width="0.6"/>
<line x1="275.5" y1="251.5" x2="287.5" y2="251.5" stroke="#222" stroke-width="0.6"/>
<line x1="275.5" y1="265.5" x2="287.5" y2="265.5" stroke="#222" stroke-width="0.6"/>
<circle cx="246.5" cy="285.8" r="1.4" fill="#111"/>
<circle cx="246.5" cy="293" r="1.4" fill="#111"/>
<circle cx="246.5" cy="297" r="1.4" fill="#111"/>
<circle cx="281.5" cy="251.5" r="1.4" fill="#111"/>
<circle cx="281.5" cy="258.7" r="1.4" fill="#111"/>
<circle cx="281.5" cy="265.2" r="1.4" fill="#111"/>
<line x1="243.8" y1="246.6" x2="281" y2="246.6" stroke="#666" stroke-width="0.7"/>
<text x="263.55" y="247.79" font-size="11.8" text-anchor="middle" font-family="DejaVu Sans, Liberation Sans, sans-serif" font-weight="bold" fill="#111" letter-spacing="1.3">**</text>
<text x="246" y="378.5" font-size="10.4" text-anchor="middle">EV</text>
<text x="279.3" y="378.5" font-size="10.4" text-anchor="middle">Vcp</text>
<text x="182.3" y="301.3" font-size="10.85" text-anchor="middle" transform="rotate(-90 182.3 301.3)">Tumor interstitial Fluid</text>
<text x="196" y="301.8" font-size="10.85" text-anchor="middle" transform="rotate(-90 196 301.8)">G3P (μM)</text>
<text x="303.4" y="214.9" font-size="14" font-weight="bold" fill="#1a1212">f</text>
<line x1="381.8" y1="296.35" x2="421.7" y2="299.85" stroke="#D3D3D3" stroke-width="1.25"/>
<line x1="381.8" y1="301.25" x2="421.7" y2="238.91" stroke="#D3D3D3" stroke-width="1.25"/>
<line x1="381.8" y1="303.36" x2="421.7" y2="264.83" stroke="#D3D3D3" stroke-width="1.25"/>
<line x1="381.8" y1="305.46" x2="421.7" y2="286.54" stroke="#D3D3D3" stroke-width="1.25"/>
<line x1="381.8" y1="308.96" x2="421.7" y2="245.21" stroke="#D3D3D3" stroke-width="1.25"/>
<line x1="381.8" y1="311.06" x2="421.7" y2="303.36" stroke="#D3D3D3" stroke-width="1.25"/>
<line x1="381.8" y1="313.86" x2="421.7" y2="250.82" stroke="#D3D3D3" stroke-width="1.25"/>
<line x1="381.8" y1="315.96" x2="421.7" y2="257.82" stroke="#D3D3D3" stroke-width="1.25"/>
<line x1="381.8" y1="318.07" x2="421.7" y2="272.53" stroke="#D3D3D3" stroke-width="1.25"/>
<line x1="381.8" y1="319.47" x2="421.7" y2="320.87" stroke="#D3D3D3" stroke-width="1.25"/>
<line x1="381.8" y1="321.57" x2="421.7" y2="259.22" stroke="#D3D3D3" stroke-width="1.25"/>
<line x1="381.8" y1="322.97" x2="421.7" y2="278.84" stroke="#D3D3D3" stroke-width="1.25"/>
<line x1="381.8" y1="324.37" x2="421.7" y2="335.58" stroke="#D3D3D3" stroke-width="1.25"/>
<line x1="381.8" y1="325.77" x2="421.7" y2="281.64" stroke="#D3D3D3" stroke-width="1.25"/>
<line x1="381.8" y1="327.17" x2="421.7" y2="296.35" stroke="#D3D3D3" stroke-width="1.25"/>
<line x1="381.8" y1="328.57" x2="421.7" y2="301.95" stroke="#D3D3D3" stroke-width="1.25"/>
<line x1="381.8" y1="329.97" x2="421.7" y2="266.23" stroke="#D3D3D3" stroke-width="1.25"/>
<line x1="381.8" y1="331.38" x2="421.7" y2="327.87" stroke="#D3D3D3" stroke-width="1.25"/>
<line x1="381.8" y1="332.78" x2="421.7" y2="289.35" stroke="#D3D3D3" stroke-width="1.25"/>
<line x1="381.8" y1="334.18" x2="421.7" y2="341.18" stroke="#D3D3D3" stroke-width="1.25"/>
<line x1="381.8" y1="335.58" x2="421.7" y2="298.45" stroke="#D3D3D3" stroke-width="1.25"/>
<line x1="381.8" y1="336.98" x2="421.7" y2="273.23" stroke="#D3D3D3" stroke-width="1.25"/>
<line x1="381.8" y1="338.38" x2="421.7" y2="304.76" stroke="#D3D3D3" stroke-width="1.25"/>
<line x1="381.8" y1="343.28" x2="421.7" y2="320.17" stroke="#D3D3D3" stroke-width="1.25"/>
<line x1="381.8" y1="344.68" x2="421.7" y2="328.57" stroke="#D3D3D3" stroke-width="1.25"/>
<line x1="381.8" y1="345.38" x2="421.7" y2="336.28" stroke="#D3D3D3" stroke-width="1.25"/>
<line x1="381.8" y1="346.79" x2="421.7" y2="341.88" stroke="#D3D3D3" stroke-width="1.25"/>
<circle cx="381.8" cy="296.35" r="2.1" fill="#A2A3A7"/>
<circle cx="381.8" cy="301.25" r="2.1" fill="#A2A3A7"/>
<circle cx="381.8" cy="303.36" r="2.1" fill="#A2A3A7"/>
<circle cx="381.8" cy="305.46" r="2.1" fill="#A2A3A7"/>
<circle cx="381.8" cy="308.96" r="2.1" fill="#A2A3A7"/>
<circle cx="381.8" cy="311.06" r="2.1" fill="#A2A3A7"/>
<circle cx="381.8" cy="313.86" r="2.1" fill="#A2A3A7"/>
<circle cx="381.8" cy="315.96" r="2.1" fill="#A2A3A7"/>
<circle cx="381.8" cy="318.07" r="2.1" fill="#A2A3A7"/>
<circle cx="381.8" cy="319.47" r="2.1" fill="#A2A3A7"/>
<circle cx="381.8" cy="321.57" r="2.1" fill="#A2A3A7"/>
<circle cx="381.8" cy="322.97" r="2.1" fill="#A2A3A7"/>
<circle cx="381.8" cy="324.37" r="2.1" fill="#A2A3A7"/>
<circle cx="381.8" cy="325.77" r="2.1" fill="#A2A3A7"/>
<circle cx="381.8" cy="327.17" r="2.1" fill="#A2A3A7"/>
<circle cx="381.8" cy="328.57" r="2.1" fill="#A2A3A7"/>
<circle cx="381.8" cy="329.97" r="2.1" fill="#A2A3A7"/>
<circle cx="381.8" cy="331.38" r="2.1" fill="#A2A3A7"/>
<circle cx="381.8" cy="332.78" r="2.1" fill="#A2A3A7"/>
<circle cx="381.8" cy="334.18" r="2.1" fill="#A2A3A7"/>
<circle cx="381.8" cy="335.58" r="2.1" fill="#A2A3A7"/>
<circle cx="381.8" cy="336.98" r="2.1" fill="#A2A3A7"/>
<circle cx="381.8" cy="338.38" r="2.1" fill="#A2A3A7"/>
<circle cx="381.8" cy="343.28" r="2.1" fill="#A2A3A7"/>
<circle cx="381.8" cy="344.68" r="2.1" fill="#A2A3A7"/>
<circle cx="381.8" cy="345.38" r="2.1" fill="#A2A3A7"/>
<circle cx="381.8" cy="346.79" r="2.1" fill="#A2A3A7"/>
<circle cx="421.7" cy="299.85" r="1.6" fill="#F9E2C4" stroke="#EDB674" stroke-width="1"/>
<circle cx="421.7" cy="238.91" r="1.6" fill="#F9E2C4" stroke="#EDB674" stroke-width="1"/>
<circle cx="421.7" cy="264.83" r="1.6" fill="#F9E2C4" stroke="#EDB674" stroke-width="1"/>
<circle cx="421.7" cy="286.54" r="1.6" fill="#F9E2C4" stroke="#EDB674" stroke-width="1"/>
<circle cx="421.7" cy="245.21" r="1.6" fill="#F9E2C4" stroke="#EDB674" stroke-width="1"/>
<circle cx="421.7" cy="303.36" r="1.6" fill="#F9E2C4" stroke="#EDB674" stroke-width="1"/>
<circle cx="421.7" cy="250.82" r="1.6" fill="#F9E2C4" stroke="#EDB674" stroke-width="1"/>
<circle cx="421.7" cy="257.82" r="1.6" fill="#F9E2C4" stroke="#EDB674" stroke-width="1"/>
<circle cx="421.7" cy="272.53" r="1.6" fill="#F9E2C4" stroke="#EDB674" stroke-width="1"/>
<circle cx="421.7" cy="320.87" r="1.6" fill="#F9E2C4" stroke="#EDB674" stroke-width="1"/>
<circle cx="421.7" cy="259.22" r="1.6" fill="#F9E2C4" stroke="#EDB674" stroke-width="1"/>
<circle cx="421.7" cy="278.84" r="1.6" fill="#F9E2C4" stroke="#EDB674" stroke-width="1"/>
<circle cx="421.7" cy="335.58" r="1.6" fill="#F9E2C4" stroke="#EDB674" stroke-width="1"/>
<circle cx="421.7" cy="281.64" r="1.6" fill="#F9E2C4" stroke="#EDB674" stroke-width="1"/>
<circle cx="421.7" cy="296.35" r="1.6" fill="#F9E2C4" stroke="#EDB674" stroke-width="1"/>
<circle cx="421.7" cy="301.95" r="1.6" fill="#F9E2C4" stroke="#EDB674" stroke-width="1"/>
<circle cx="421.7" cy="266.23" r="1.6" fill="#F9E2C4" stroke="#EDB674" stroke-width="1"/>
<circle cx="421.7" cy="327.87" r="1.6" fill="#F9E2C4" stroke="#EDB674" stroke-width="1"/>
<circle cx="421.7" cy="289.35" r="1.6" fill="#F9E2C4" stroke="#EDB674" stroke-width="1"/>
<circle cx="421.7" cy="341.18" r="1.6" fill="#F9E2C4" stroke="#EDB674" stroke-width="1"/>
<circle cx="421.7" cy="298.45" r="1.6" fill="#F9E2C4" stroke="#EDB674" stroke-width="1"/>
<circle cx="421.7" cy="273.23" r="1.6" fill="#F9E2C4" stroke="#EDB674" stroke-width="1"/>
<circle cx="421.7" cy="304.76" r="1.6" fill="#F9E2C4" stroke="#EDB674" stroke-width="1"/>
<circle cx="421.7" cy="320.17" r="1.6" fill="#F9E2C4" stroke="#EDB674" stroke-width="1"/>
<circle cx="421.7" cy="328.57" r="1.6" fill="#F9E2C4" stroke="#EDB674" stroke-width="1"/>
<circle cx="421.7" cy="336.28" r="1.6" fill="#F9E2C4" stroke="#EDB674" stroke-width="1"/>
<circle cx="421.7" cy="341.88" r="1.6" fill="#F9E2C4" stroke="#EDB674" stroke-width="1"/>
<line x1="355.3" y1="367.1" x2="355.3" y2="225.9" stroke="#b2b2b2" stroke-width="1.4"/>
<line x1="350.3" y1="226.3" x2="355.3" y2="226.3" stroke="#8a8a8a" stroke-width="0.7"/>
<text x="348.6" y="230.04" font-size="10.4" text-anchor="end">200</text>
<line x1="350.3" y1="261.32" x2="355.3" y2="261.32" stroke="#8a8a8a" stroke-width="0.7"/>
<text x="348.6" y="265.07" font-size="10.4" text-anchor="end">150</text>
<line x1="350.3" y1="296.35" x2="355.3" y2="296.35" stroke="#8a8a8a" stroke-width="0.7"/>
<text x="348.6" y="300.09" font-size="10.4" text-anchor="end">100</text>
<line x1="350.3" y1="331.38" x2="355.3" y2="331.38" stroke="#8a8a8a" stroke-width="0.7"/>
<text x="348.6" y="335.12" font-size="10.4" text-anchor="end">50</text>
<line x1="350.3" y1="366.4" x2="355.3" y2="366.4" stroke="#8a8a8a" stroke-width="0.7"/>
<text x="348.6" y="370.14" font-size="10.4" text-anchor="end">0</text>
<line x1="350.1" y1="366.4" x2="448.4" y2="366.4" stroke="#b2b2b2" stroke-width="1.4"/>
<line x1="381.8" y1="366.4" x2="381.8" y2="371.6" stroke="#555" stroke-width="0.7"/>
<line x1="421.7" y1="366.4" x2="421.7" y2="371.6" stroke="#555" stroke-width="0.7"/>
<line x1="369.1" y1="325.9" x2="394.3" y2="325.9" stroke="#2a1a1a" stroke-width="1.5"/>
<line x1="409.6" y1="295.7" x2="434.8" y2="295.7" stroke="#2a1a1a" stroke-width="1.5"/>
<line x1="378.3" y1="231.3" x2="418.8" y2="231.3" stroke="#444" stroke-width="0.7"/>
<text x="398.65" y="233.39" font-size="11.8" text-anchor="middle" font-family="DejaVu Sans, Liberation Sans, sans-serif" font-weight="bold" fill="#111" letter-spacing="1.3">***</text>
<text x="381" y="382.8" font-size="10.4" text-anchor="middle">Plasma</text>
<text x="421.7" y="382.8" font-size="10.4" text-anchor="middle">TIF</text>
<text x="325.8" y="294.2" font-size="10.85" text-anchor="middle" transform="rotate(-90 325.8 294.2)">G3P Levels (μM)</text>
<text x="473.6" y="217.1" font-size="14" font-weight="bold" fill="#1a1212">g</text>
<path d="M500.2 354.99 L551.56 344.54 L602.92 309.87 L654.28 279.22" fill="none" stroke="#FADFC0" stroke-width="1.4" stroke-linejoin="round"/>
<circle cx="500.2" cy="354.99" r="1.3" fill="#FADFC0"/>
<circle cx="551.56" cy="344.54" r="1.3" fill="#FADFC0"/>
<circle cx="602.92" cy="309.87" r="1.3" fill="#FADFC0"/>
<circle cx="654.28" cy="279.22" r="1.3" fill="#FADFC0"/>
<path d="M551.56 345.11 L602.92 332.79 L654.28 310.73" fill="none" stroke="#F08B2C" stroke-width="1.4" stroke-linejoin="round"/>
<circle cx="551.56" cy="345.11" r="1.3" fill="#F08B2C"/>
<circle cx="602.92" cy="332.79" r="1.3" fill="#F08B2C"/>
<circle cx="654.28" cy="310.73" r="1.3" fill="#F08B2C"/>
<path d="M551.56 344.54 L602.92 331.36 L654.28 309.58" fill="none" stroke="#7D7E82" stroke-width="1.4" stroke-linejoin="round"/>
<circle cx="551.56" cy="344.54" r="1.3" fill="#7D7E82"/>
<circle cx="602.92" cy="331.36" r="1.3" fill="#7D7E82"/>
<circle cx="654.28" cy="309.58" r="1.3" fill="#7D7E82"/>
<line x1="602.92" y1="327.35" x2="602.92" y2="335.08" stroke="#7D7E82" stroke-width="0.5"/>
<line x1="601.72" y1="327.35" x2="604.12" y2="327.35" stroke="#7D7E82" stroke-width="0.5"/>
<line x1="601.72" y1="335.08" x2="604.12" y2="335.08" stroke="#7D7E82" stroke-width="0.5"/>
<line x1="500.2" y1="363" x2="500.2" y2="247.3" stroke="#b2b2b2" stroke-width="1.4"/>
<line x1="495.2" y1="247.7" x2="500.2" y2="247.7" stroke="#8a8a8a" stroke-width="0.7"/>
<text x="493.5" y="251.44" font-size="10.4" text-anchor="end">4</text>
<line x1="495.2" y1="276.35" x2="500.2" y2="276.35" stroke="#8a8a8a" stroke-width="0.7"/>
<text x="493.5" y="280.09" font-size="10.4" text-anchor="end">3</text>
<line x1="495.2" y1="305" x2="500.2" y2="305" stroke="#8a8a8a" stroke-width="0.7"/>
<text x="493.5" y="308.74" font-size="10.4" text-anchor="end">2</text>
<line x1="495.2" y1="333.65" x2="500.2" y2="333.65" stroke="#8a8a8a" stroke-width="0.7"/>
<text x="493.5" y="337.39" font-size="10.4" text-anchor="end">1</text>
<line x1="495.2" y1="362.3" x2="500.2" y2="362.3" stroke="#8a8a8a" stroke-width="0.7"/>
<text x="493.5" y="366.04" font-size="10.4" text-anchor="end">0</text>
<line x1="499.5" y1="362.3" x2="671.9" y2="362.3" stroke="#b2b2b2" stroke-width="1.4"/>
<line x1="500.2" y1="362.3" x2="500.2" y2="366.9" stroke="#555" stroke-width="0.7"/>
<text x="500.2" y="376.8" font-size="10.4" text-anchor="middle">0</text>
<line x1="543" y1="362.3" x2="543" y2="366.9" stroke="#555" stroke-width="0.7"/>
<text x="543" y="376.8" font-size="10.4" text-anchor="middle">20</text>
<line x1="585.8" y1="362.3" x2="585.8" y2="366.9" stroke="#555" stroke-width="0.7"/>
<text x="585.8" y="376.8" font-size="10.4" text-anchor="middle">40</text>
<line x1="628.6" y1="362.3" x2="628.6" y2="366.9" stroke="#555" stroke-width="0.7"/>
<text x="628.6" y="376.8" font-size="10.4" text-anchor="middle">60</text>
<line x1="671.4" y1="362.3" x2="671.4" y2="366.9" stroke="#555" stroke-width="0.7"/>
<text x="671.4" y="376.8" font-size="10.4" text-anchor="middle">80</text>
<text x="590" y="388.2" font-size="10.4" text-anchor="middle" letter-spacing="0.3">Time(h)</text>
<line x1="505.5" y1="251.9" x2="514.7" y2="251.9" stroke="#7D7E82" stroke-width="1.3"/>
<circle cx="510.1" cy="251.9" r="1.5" fill="#7D7E82"/>
<text x="519.1" y="254.9" font-size="10.4">shCtrl</text>
<line x1="505.5" y1="268.5" x2="514.7" y2="268.5" stroke="#FADFC0" stroke-width="1.3"/>
<circle cx="510.1" cy="268.5" r="1.5" fill="#FADFC0"/>
<text x="519.1" y="271.5" font-size="10.4">shVcp</text>
<line x1="505.5" y1="283.9" x2="514.7" y2="283.9" stroke="#F08B2C" stroke-width="1.3"/>
<circle cx="510.1" cy="283.9" r="1.5" fill="#F08B2C"/>
<text x="519.1" y="286.9" font-size="10.4">shVcp+G3P</text>
<line x1="657.5" y1="276.9" x2="657.5" y2="307.5" stroke="#444" stroke-width="0.7"/>
<g transform="translate(661.6 292.6) rotate(90)"><text x="0.65" y="6.2" font-size="11.8" text-anchor="middle" letter-spacing="1.3" font-family="DejaVu Sans, Liberation Sans, sans-serif" font-weight="bold" fill="#111">***</text></g>
<text x="664.6" y="311.9" font-size="7.9" text-anchor="middle" transform="rotate(-90 664.6 311.9)">ns</text>
<text x="472.9" y="302.3" font-size="10.85" text-anchor="middle" transform="rotate(-90 472.9 302.3)">OD (450nm)</text>
<text x="484.6" y="304" font-size="10.85" text-anchor="middle" transform="rotate(-90 484.6 304)">(CD8<tspan font-size="9.77" dy="-3.25">+</tspan><tspan dy="3.25">T cells)</tspan></text>
<text x="0.5" y="415.3" font-size="14" font-weight="bold" fill="#1a1212">h</text>
<rect x="67.4" y="507.3" width="11.9" height="62" fill="#9C9DA1"/>
<rect x="85.2" y="482.8" width="11.9" height="86.5" fill="#F7DFC0"/>
<rect x="102.9" y="509.5" width="11.9" height="59.8" fill="#EDB674"/>
<rect x="132.2" y="555.9" width="11.9" height="13.4" fill="#9C9DA1"/>
<rect x="149.9" y="531.4" width="11.9" height="37.9" fill="#F7DFC0"/>
<rect x="167.8" y="558.1" width="11.9" height="11.2" fill="#EDB674"/>
<line x1="73.35" y1="505.76" x2="73.35" y2="508.39" stroke="#222" stroke-width="0.6"/>
<line x1="69.95" y1="505.76" x2="76.75" y2="505.76" stroke="#222" stroke-width="0.6"/>
<line x1="69.95" y1="508.39" x2="76.75" y2="508.39" stroke="#222" stroke-width="0.6"/>
<circle cx="69.63" cy="507.29" r="1.3" fill="#111"/>
<circle cx="73.79" cy="506.42" r="1.3" fill="#111"/>
<circle cx="77.73" cy="507.29" r="1.3" fill="#111"/>
<line x1="91.15" y1="480.58" x2="91.15" y2="483.86" stroke="#222" stroke-width="0.6"/>
<line x1="87.75" y1="480.58" x2="94.55" y2="480.58" stroke="#222" stroke-width="0.6"/>
<line x1="87.75" y1="483.86" x2="94.55" y2="483.86" stroke="#222" stroke-width="0.6"/>
<circle cx="86.49" cy="483.21" r="1.3" fill="#111"/>
<circle cx="91.53" cy="481.02" r="1.3" fill="#111"/>
<circle cx="95.69" cy="481.89" r="1.3" fill="#111"/>
<line x1="108.85" y1="505.54" x2="108.85" y2="514.52" stroke="#222" stroke-width="0.6"/>
<line x1="105.45" y1="505.54" x2="112.25" y2="505.54" stroke="#222" stroke-width="0.6"/>
<line x1="105.45" y1="514.52" x2="112.25" y2="514.52" stroke="#222" stroke-width="0.6"/>
<circle cx="108.82" cy="514.3" r="1.3" fill="#111"/>
<circle cx="109.48" cy="508.39" r="1.3" fill="#111"/>
<circle cx="113.42" cy="506.85" r="1.3" fill="#111"/>
<line x1="138.15" y1="551.74" x2="138.15" y2="558.09" stroke="#222" stroke-width="0.6"/>
<line x1="134.75" y1="551.74" x2="141.55" y2="551.74" stroke="#222" stroke-width="0.6"/>
<line x1="134.75" y1="558.09" x2="141.55" y2="558.09" stroke="#222" stroke-width="0.6"/>
<circle cx="133.94" cy="556.56" r="1.3" fill="#111"/>
<circle cx="138.32" cy="552.18" r="1.3" fill="#111"/>
<circle cx="142.7" cy="556.56" r="1.3" fill="#111"/>
<line x1="155.85" y1="525.47" x2="155.85" y2="532.47" stroke="#222" stroke-width="0.6"/>
<line x1="152.45" y1="525.47" x2="159.25" y2="525.47" stroke="#222" stroke-width="0.6"/>
<line x1="152.45" y1="532.47" x2="159.25" y2="532.47" stroke="#222" stroke-width="0.6"/>
<circle cx="151.89" cy="530.94" r="1.3" fill="#111"/>
<circle cx="156.27" cy="525.9" r="1.3" fill="#111"/>
<circle cx="160.65" cy="530.72" r="1.3" fill="#111"/>
<line x1="173.75" y1="554.81" x2="173.75" y2="558.53" stroke="#222" stroke-width="0.6"/>
<line x1="170.35" y1="554.81" x2="177.15" y2="554.81" stroke="#222" stroke-width="0.6"/>
<line x1="170.35" y1="558.53" x2="177.15" y2="558.53" stroke="#222" stroke-width="0.6"/>
<circle cx="169.63" cy="557.65" r="1.3" fill="#111"/>
<circle cx="174.01" cy="555.03" r="1.3" fill="#111"/>
<circle cx="178.17" cy="556.78" r="1.3" fill="#111"/>
<line x1="61.3" y1="570" x2="61.3" y2="444.5" stroke="#b2b2b2" stroke-width="1.4"/>
<line x1="56.3" y1="444.9" x2="61.3" y2="444.9" stroke="#8a8a8a" stroke-width="0.7"/>
<text x="54.6" y="448.64" font-size="10.4" text-anchor="end">80</text>
<line x1="56.3" y1="476" x2="61.3" y2="476" stroke="#8a8a8a" stroke-width="0.7"/>
<text x="54.6" y="479.74" font-size="10.4" text-anchor="end">60</text>
<line x1="56.3" y1="507.1" x2="61.3" y2="507.1" stroke="#8a8a8a" stroke-width="0.7"/>
<text x="54.6" y="510.84" font-size="10.4" text-anchor="end">40</text>
<line x1="56.3" y1="538.2" x2="61.3" y2="538.2" stroke="#8a8a8a" stroke-width="0.7"/>
<text x="54.6" y="541.94" font-size="10.4" text-anchor="end">20</text>
<line x1="56.3" y1="569.3" x2="61.3" y2="569.3" stroke="#8a8a8a" stroke-width="0.7"/>
<text x="54.6" y="573.04" font-size="10.4" text-anchor="end">0</text>
<line x1="56.3" y1="569.3" x2="186.9" y2="569.3" stroke="#b2b2b2" stroke-width="1.4"/>
<line x1="91.5" y1="569.3" x2="91.5" y2="574.5" stroke="#555" stroke-width="0.7"/>
<line x1="155.8" y1="569.3" x2="155.8" y2="574.5" stroke="#555" stroke-width="0.7"/>
<rect x="115.4" y="446" width="15.9" height="7.6" fill="#9C9DA1" stroke="#444" stroke-width="0.6"/>
<text x="134.6" y="452.6" font-size="10.4">shCtrl</text>
<rect x="115.4" y="458.05" width="15.9" height="7.6" fill="#F7DFC0" stroke="#444" stroke-width="0.6"/>
<text x="134.6" y="464.6" font-size="10.4">shVcp</text>
<rect x="115.4" y="470.1" width="15.9" height="7.6" fill="#EDB674" stroke="#444" stroke-width="0.6"/>
<text x="134.6" y="477.7" font-size="10.4">shVcp+G3P</text>
<line x1="72.3" y1="450.8" x2="111.2" y2="450.8" stroke="#8a8a8a" stroke-width="0.9"/>
<text x="90.7" y="447.5" font-size="7.9" text-anchor="middle">ns</text>
<line x1="75.5" y1="474.5" x2="90.9" y2="474.5" stroke="#8a8a8a" stroke-width="0.9"/>
<text x="81.95" y="475.8" font-size="11.8" text-anchor="middle" font-family="DejaVu Sans, Liberation Sans, sans-serif" font-weight="bold" fill="#111" letter-spacing="1.3">***</text>
<line x1="142.3" y1="504" x2="173.4" y2="504" stroke="#8a8a8a" stroke-width="0.9"/>
<text x="157.4" y="501.8" font-size="7.9" text-anchor="middle">ns</text>
<line x1="141.6" y1="520" x2="155.8" y2="520" stroke="#8a8a8a" stroke-width="0.9"/>
<text x="151.05" y="520.1" font-size="11.8" text-anchor="middle" font-family="DejaVu Sans, Liberation Sans, sans-serif" font-weight="bold" fill="#111" letter-spacing="1.3">***</text>
<text x="92.2" y="584.6" font-size="10.4" text-anchor="middle">GzmB</text>
<text x="153.3" y="584.6" font-size="10.4" text-anchor="middle">IFN-γ</text>
<text x="36.5" y="506.4" font-size="10.85" text-anchor="middle" transform="rotate(-90 36.5 506.4)">% of CD8<tspan font-size="9.77" dy="-3.25">+</tspan><tspan dy="3.25">T cells</tspan></text>
<text x="223.8" y="415.3" font-size="14" font-weight="bold" fill="#1a1212">i</text>
<rect x="282.1" y="548.5" width="11.7" height="21.2" fill="#9C9DA1"/>
<rect x="299.6" y="523.7" width="11.7" height="46" fill="#F7DFC0"/>
<rect x="317.1" y="544.5" width="11.7" height="25.2" fill="#EDB674"/>
<rect x="346" y="511.2" width="11.7" height="58.5" fill="#9C9DA1"/>
<rect x="363.5" y="480.1" width="11.7" height="89.6" fill="#F7DFC0"/>
<rect x="381.1" y="507.3" width="11.7" height="62.4" fill="#EDB674"/>
<rect x="409.8" y="522.6" width="11.7" height="47.1" fill="#9C9DA1"/>
<rect x="427.2" y="499.6" width="11.7" height="70.1" fill="#F7DFC0"/>
<rect x="444.8" y="520.4" width="11.7" height="49.3" fill="#EDB674"/>
<line x1="287.95" y1="543.42" x2="287.95" y2="549.99" stroke="#222" stroke-width="0.6"/>
<line x1="284.55" y1="543.42" x2="291.35" y2="543.42" stroke="#222" stroke-width="0.6"/>
<line x1="284.55" y1="549.99" x2="291.35" y2="549.99" stroke="#222" stroke-width="0.6"/>
<circle cx="283.61" cy="549.33" r="1.3" fill="#111"/>
<circle cx="287.99" cy="543.42" r="1.3" fill="#111"/>
<circle cx="292.37" cy="548.89" r="1.3" fill="#111"/>
<line x1="305.45" y1="521.09" x2="305.45" y2="525.9" stroke="#222" stroke-width="0.6"/>
<line x1="302.05" y1="521.09" x2="308.85" y2="521.09" stroke="#222" stroke-width="0.6"/>
<line x1="302.05" y1="525.9" x2="308.85" y2="525.9" stroke="#222" stroke-width="0.6"/>
<circle cx="305.51" cy="527" r="1.3" fill="#111"/>
<circle cx="305.07" cy="523.28" r="1.3" fill="#111"/>
<circle cx="310.1" cy="521.09" r="1.3" fill="#111"/>
<line x1="322.95" y1="542.98" x2="322.95" y2="545.17" stroke="#222" stroke-width="0.6"/>
<line x1="319.55" y1="542.98" x2="326.35" y2="542.98" stroke="#222" stroke-width="0.6"/>
<line x1="319.55" y1="545.17" x2="326.35" y2="545.17" stroke="#222" stroke-width="0.6"/>
<circle cx="318.86" cy="544.51" r="1.3" fill="#111"/>
<circle cx="323.24" cy="543.42" r="1.3" fill="#111"/>
<circle cx="327.4" cy="544.08" r="1.3" fill="#111"/>
<line x1="351.85" y1="506.63" x2="351.85" y2="513.86" stroke="#222" stroke-width="0.6"/>
<line x1="348.45" y1="506.63" x2="355.25" y2="506.63" stroke="#222" stroke-width="0.6"/>
<line x1="348.45" y1="513.86" x2="355.25" y2="513.86" stroke="#222" stroke-width="0.6"/>
<circle cx="347.77" cy="513.86" r="1.3" fill="#111"/>
<circle cx="352.14" cy="506.2" r="1.3" fill="#111"/>
<circle cx="356.52" cy="511.67" r="1.3" fill="#111"/>
<line x1="369.35" y1="477.29" x2="369.35" y2="482.77" stroke="#222" stroke-width="0.6"/>
<line x1="365.95" y1="477.29" x2="372.75" y2="477.29" stroke="#222" stroke-width="0.6"/>
<line x1="365.95" y1="482.77" x2="372.75" y2="482.77" stroke="#222" stroke-width="0.6"/>
<circle cx="369" cy="483.21" r="1.3" fill="#111"/>
<circle cx="368.57" cy="479.48" r="1.3" fill="#111"/>
<circle cx="373.6" cy="477.73" r="1.3" fill="#111"/>
<line x1="386.95" y1="504.01" x2="386.95" y2="507.95" stroke="#222" stroke-width="0.6"/>
<line x1="383.55" y1="504.01" x2="390.35" y2="504.01" stroke="#222" stroke-width="0.6"/>
<line x1="383.55" y1="507.95" x2="390.35" y2="507.95" stroke="#222" stroke-width="0.6"/>
<circle cx="382.84" cy="507.29" r="1.3" fill="#111"/>
<circle cx="387.22" cy="504.01" r="1.3" fill="#111"/>
<circle cx="391.16" cy="506.85" r="1.3" fill="#111"/>
<line x1="415.65" y1="519.33" x2="415.65" y2="523.93" stroke="#222" stroke-width="0.6"/>
<line x1="412.25" y1="519.33" x2="419.05" y2="519.33" stroke="#222" stroke-width="0.6"/>
<line x1="412.25" y1="523.93" x2="419.05" y2="523.93" stroke="#222" stroke-width="0.6"/>
<circle cx="411.31" cy="523.06" r="1.3" fill="#111"/>
<circle cx="415.69" cy="518.9" r="1.3" fill="#111"/>
<circle cx="420.07" cy="521.52" r="1.3" fill="#111"/>
<line x1="433.05" y1="495.25" x2="433.05" y2="502.91" stroke="#222" stroke-width="0.6"/>
<line x1="429.65" y1="495.25" x2="436.45" y2="495.25" stroke="#222" stroke-width="0.6"/>
<line x1="429.65" y1="502.91" x2="436.45" y2="502.91" stroke="#222" stroke-width="0.6"/>
<circle cx="432.77" cy="495.69" r="1.3" fill="#111"/>
<circle cx="432.77" cy="499.63" r="1.3" fill="#111"/>
<circle cx="432.77" cy="502.91" r="1.3" fill="#111"/>
<line x1="450.65" y1="517.58" x2="450.65" y2="521.52" stroke="#222" stroke-width="0.6"/>
<line x1="447.25" y1="517.58" x2="454.05" y2="517.58" stroke="#222" stroke-width="0.6"/>
<line x1="447.25" y1="521.52" x2="454.05" y2="521.52" stroke="#222" stroke-width="0.6"/>
<circle cx="446.34" cy="520.43" r="1.3" fill="#111"/>
<circle cx="450.72" cy="517.14" r="1.3" fill="#111"/>
<circle cx="455.1" cy="519.33" r="1.3" fill="#111"/>
<line x1="276.6" y1="570.4" x2="276.6" y2="445.1" stroke="#b2b2b2" stroke-width="1.4"/>
<line x1="271.6" y1="445.5" x2="276.6" y2="445.5" stroke="#8a8a8a" stroke-width="0.7"/>
<text x="269.9" y="449.24" font-size="10.4" text-anchor="end">100</text>
<line x1="271.6" y1="470.34" x2="276.6" y2="470.34" stroke="#8a8a8a" stroke-width="0.7"/>
<text x="269.9" y="474.08" font-size="10.4" text-anchor="end">80</text>
<line x1="271.6" y1="495.18" x2="276.6" y2="495.18" stroke="#8a8a8a" stroke-width="0.7"/>
<text x="269.9" y="498.92" font-size="10.4" text-anchor="end">60</text>
<line x1="271.6" y1="520.02" x2="276.6" y2="520.02" stroke="#8a8a8a" stroke-width="0.7"/>
<text x="269.9" y="523.76" font-size="10.4" text-anchor="end">40</text>
<line x1="271.6" y1="544.86" x2="276.6" y2="544.86" stroke="#8a8a8a" stroke-width="0.7"/>
<text x="269.9" y="548.6" font-size="10.4" text-anchor="end">20</text>
<line x1="271.6" y1="569.7" x2="276.6" y2="569.7" stroke="#8a8a8a" stroke-width="0.7"/>
<text x="269.9" y="573.44" font-size="10.4" text-anchor="end">0</text>
<line x1="271.1" y1="569.7" x2="462.8" y2="569.7" stroke="#b2b2b2" stroke-width="1.4"/>
<line x1="305.5" y1="569.7" x2="305.5" y2="574.9" stroke="#555" stroke-width="0.7"/>
<line x1="369.2" y1="569.7" x2="369.2" y2="574.9" stroke="#555" stroke-width="0.7"/>
<line x1="433.2" y1="569.7" x2="433.2" y2="574.9" stroke="#555" stroke-width="0.7"/>
<rect x="280.5" y="426.3" width="15.8" height="7.6" fill="#9C9DA1" stroke="#444" stroke-width="0.6"/>
<text x="299.6" y="432.8" font-size="10.4">shCtrl</text>
<rect x="280.5" y="438.3" width="15.8" height="7.6" fill="#F7DFC0" stroke="#444" stroke-width="0.6"/>
<text x="299.6" y="444.9" font-size="10.4">shVcp</text>
<rect x="280.5" y="450.8" width="15.8" height="7.6" fill="#EDB674" stroke="#444" stroke-width="0.6"/>
<text x="299.6" y="458" font-size="10.4">shVcp+G3P</text>
<line x1="289.1" y1="498.5" x2="323.2" y2="498.5" stroke="#8a8a8a" stroke-width="0.9"/>
<text x="306.2" y="495.2" font-size="7.9" text-anchor="middle">ns</text>
<line x1="289.1" y1="514.5" x2="304.6" y2="514.5" stroke="#aaa" stroke-width="0.9"/>
<text x="297.85" y="512.8" font-size="11.8" text-anchor="middle" font-family="DejaVu Sans, Liberation Sans, sans-serif" font-weight="bold" fill="#111" letter-spacing="1.3">***</text>
<line x1="350.4" y1="462.4" x2="386.1" y2="462.4" stroke="#8a8a8a" stroke-width="0.9"/>
<text x="368" y="459.6" font-size="7.9" text-anchor="middle">ns</text>
<line x1="350.4" y1="474.5" x2="365.7" y2="474.5" stroke="#8a8a8a" stroke-width="0.9"/>
<text x="356.85" y="475.8" font-size="11.8" text-anchor="middle" font-family="DejaVu Sans, Liberation Sans, sans-serif" font-weight="bold" fill="#111" letter-spacing="1.3">***</text>
<line x1="412.4" y1="473.4" x2="451.2" y2="473.4" stroke="#8a8a8a" stroke-width="0.9"/>
<text x="432.1" y="470" font-size="7.9" text-anchor="middle">ns</text>
<line x1="415.7" y1="489.8" x2="432.8" y2="489.8" stroke="#aaa" stroke-width="0.9"/>
<text x="423.15" y="489.8" font-size="11.8" text-anchor="middle" font-family="DejaVu Sans, Liberation Sans, sans-serif" font-weight="bold" fill="#111" letter-spacing="1.3">***</text>
<text x="306.7" y="584.6" font-size="10.4" text-anchor="middle">CD69</text>
<text x="370.8" y="584.6" font-size="10.4" text-anchor="middle">CD25</text>
<text x="434.5" y="584.6" font-size="10.4" text-anchor="middle">CD44</text>
<text x="250.7" y="511.7" font-size="10.85" text-anchor="middle" transform="rotate(-90 250.7 511.7)">% of CD8<tspan font-size="9.77" dy="-3.25">+</tspan><tspan dy="3.25">T cells</tspan></text>
<text x="465.4" y="415.3" font-size="14" font-weight="bold" fill="#1a1212">j</text>
<polygon points="529.85,544.61 532.7,542.33 535.55,538.06 538.39,529.52 541.24,524.68 544.08,524.11 546.93,525.25 549.21,528.1 551.2,529.8 554.05,528.66 556.89,528.95 559.74,523.83 561.73,519.56 564.01,512.44 566.29,506.75 569.7,504.18 571.41,495.36 572.84,489.38 574.54,493.94 576.25,499.06 578.81,502.48 581.09,505.89 583.37,504.75 585.64,500.2 587.92,491.09 590.2,484.83 592.48,483.12 594.18,484.26 595.89,482.55 597.6,483.12 599.31,488.81 601.02,494.51 603.01,491.09 604.72,487.67 606.14,492.51 607.56,498.49 609.56,491.09 611.55,479.7 613.26,462.62 614.68,448.39 615.53,444.12 616.96,449.81 618.66,456.93 623.79,513.86 626.64,544.61" fill="#9A9B9E" stroke="none" stroke-width="0.5"/>
<polygon points="558.32,544.04 569.7,543.47 581.09,542.33 583.94,538.91 586.78,530.94 589.06,520.98 591.05,513.86 593.05,510.45 594.75,509.59 596.46,512.72 598.17,515.29 600.16,519.56 601.87,522.97 603.29,518.13 604.72,515 606.14,519.56 607.85,526.96 609.56,524.68 611.83,515.29 613.54,499.63 615.25,479.7 616.67,459.78 617.81,446.97 618.66,439.85 619.52,443.27 620.37,452.66 621.51,471.16 622.65,488.24 623.79,503.9 625.21,519.56 627.2,531.51 629.48,539.48 632.33,542.9 636.6,544.61" fill="#F19A3E" stroke="none" stroke-width="0.5"/>
<rect x="525.6" y="428.5" width="116.7" height="116.7" fill="none" stroke="#777" stroke-width="0.7"/>
<path d="M526.44 545.2v1.2M528.14 545.2v1.2M529.85 545.2v1.2M531.56 545.2v1.2M533.27 545.2v1.2M534.98 545.2v1.2M536.68 545.2v1.2M538.39 545.2v1.2M540.1 545.2v1.2M541.81 545.2v1.2M543.52 545.2v1.2M545.22 545.2v1.2M546.93 545.2v1.2M548.64 545.2v1.2M550.35 545.2v1.2M552.06 545.2v1.2M553.76 545.2v1.2M555.47 545.2v1.2M564.58 545.2v1.2M568.57 545.2v1.2M571.41 545.2v1.2M573.69 545.2v1.2M575.4 545.2v1.2M576.82 545.2v1.2M578.24 545.2v1.2M586.21 545.2v1.2M590.2 545.2v1.2M593.05 545.2v1.2M595.04 545.2v1.2M596.75 545.2v1.2M598.17 545.2v1.2M599.31 545.2v1.2M607.28 545.2v1.2M611.26 545.2v1.2M614.11 545.2v1.2M616.39 545.2v1.2M617.81 545.2v1.2M619.23 545.2v1.2M620.37 545.2v1.2M628.34 545.2v1.2M632.33 545.2v1.2M635.18 545.2v1.2M637.45 545.2v1.2M639.16 545.2v1.2M542.09 545.2v2.2M556.89 545.2v2.2M579.67 545.2v2.2M600.45 545.2v2.2M621.51 545.2v2.2M640.87 545.2v2.2" fill="none" stroke="#222" stroke-width="0.45"/>
<path d="M541.2 545.2h2.2" fill="none" stroke="#111" stroke-width="1.8"/>
<line x1="523.2" y1="434.2" x2="525.6" y2="434.2" stroke="#333" stroke-width="0.7"/>
<text x="519.6" y="437.9" font-size="10.4" text-anchor="end">100</text>
<line x1="523.2" y1="456.4" x2="525.6" y2="456.4" stroke="#333" stroke-width="0.7"/>
<text x="519.6" y="460.1" font-size="10.4" text-anchor="end">80</text>
<line x1="523.2" y1="478.3" x2="525.6" y2="478.3" stroke="#333" stroke-width="0.7"/>
<text x="519.6" y="482" font-size="10.4" text-anchor="end">60</text>
<line x1="523.2" y1="500.2" x2="525.6" y2="500.2" stroke="#333" stroke-width="0.7"/>
<text x="519.6" y="503.9" font-size="10.4" text-anchor="end">40</text>
<line x1="523.2" y1="522.4" x2="525.6" y2="522.4" stroke="#333" stroke-width="0.7"/>
<text x="519.6" y="526.1" font-size="10.4" text-anchor="end">20</text>
<line x1="523.2" y1="544.6" x2="525.6" y2="544.6" stroke="#333" stroke-width="0.7"/>
<text x="519.6" y="548.3" font-size="10.4" text-anchor="end">0</text>
<path d="M525.6 544.6h-1.2M525.6 540.18h-1.2M525.6 535.77h-1.2M525.6 531.35h-1.2M525.6 526.94h-1.2M525.6 522.52h-1.2M525.6 518.1h-1.2M525.6 513.69h-1.2M525.6 509.27h-1.2M525.6 504.86h-1.2M525.6 500.44h-1.2M525.6 496.02h-1.2M525.6 491.61h-1.2M525.6 487.19h-1.2M525.6 482.78h-1.2M525.6 478.36h-1.2M525.6 473.94h-1.2M525.6 469.53h-1.2M525.6 465.11h-1.2M525.6 460.7h-1.2M525.6 456.28h-1.2M525.6 451.86h-1.2M525.6 447.45h-1.2M525.6 443.03h-1.2M525.6 438.62h-1.2M525.6 434.2h-1.2" fill="none" stroke="#333" stroke-width="0.4"/>
<line x1="523.6" y1="567.1" x2="646" y2="567.1" stroke="#333" stroke-width="0.7"/>
<polygon points="651.7,567.1 645.7,569.62 645.7,564.58" fill="#111" stroke="none" stroke-width="0.5"/>
<text x="542.1" y="563.7" font-size="10.4" text-anchor="middle">0</text>
<text x="573.6" y="563.7" font-size="10.4" text-anchor="middle">10</text>
<text x="581.6" y="558.8" font-size="6.5" text-anchor="middle">4</text>
<text x="609.6" y="563.7" font-size="10.4" text-anchor="middle">10</text>
<text x="617.6" y="558.8" font-size="6.5" text-anchor="middle">6</text>
<text x="582.8" y="576.5" font-size="10.8" text-anchor="middle">CFSE</text>
<text x="585.4" y="589.3" font-size="10.7" text-anchor="middle">(Human CD8<tspan font-size="9.63" dy="-3.21">+</tspan><tspan dy="3.21">T cells)</tspan></text>
<rect x="533.4" y="432.8" width="13.6" height="7" fill="#9A9B9E" stroke="#444" stroke-width="0.6"/>
<rect x="533.4" y="444.8" width="13.6" height="7" fill="#F19A3E" stroke="#444" stroke-width="0.6"/>
<text x="554.9" y="439.9" font-size="10.6">Ctrl</text>
<text x="554.9" y="451.8" font-size="10.6">G3P</text>
<text x="504.2" y="490.4" font-size="10.7" text-anchor="middle" transform="rotate(-90 504.2 490.4)">Normalized to mode</text>
<text x="0.5" y="613.6" font-size="14" font-weight="bold" fill="#1a1212">k</text>
<path d="M54.3 744.69 L105.56 726.64 L156.83 684.08 L208.09 653.49" fill="none" stroke="#7D7E82" stroke-width="1.4" stroke-linejoin="round"/>
<line x1="105.56" y1="724.36" x2="105.56" y2="728.92" stroke="#7D7E82" stroke-width="0.6"/>
<line x1="104.26" y1="724.36" x2="106.86" y2="724.36" stroke="#7D7E82" stroke-width="0.6"/>
<line x1="104.26" y1="728.92" x2="106.86" y2="728.92" stroke="#7D7E82" stroke-width="0.6"/>
<line x1="156.83" y1="680.66" x2="156.83" y2="687.5" stroke="#7D7E82" stroke-width="0.6"/>
<line x1="155.53" y1="680.66" x2="158.13" y2="680.66" stroke="#7D7E82" stroke-width="0.6"/>
<line x1="155.53" y1="687.5" x2="158.13" y2="687.5" stroke="#7D7E82" stroke-width="0.6"/>
<line x1="208.09" y1="650.64" x2="208.09" y2="656.34" stroke="#7D7E82" stroke-width="0.6"/>
<line x1="206.79" y1="650.64" x2="209.39" y2="650.64" stroke="#7D7E82" stroke-width="0.6"/>
<line x1="206.79" y1="656.34" x2="209.39" y2="656.34" stroke="#7D7E82" stroke-width="0.6"/>
<path d="M54.3 744.69 L105.56 726.64 L156.83 707.83 L208.09 687.5" fill="none" stroke="#F08B2C" stroke-width="1.4" stroke-linejoin="round"/>
<line x1="105.56" y1="723.98" x2="105.56" y2="729.3" stroke="#F08B2C" stroke-width="0.6"/>
<line x1="104.26" y1="723.98" x2="106.86" y2="723.98" stroke="#F08B2C" stroke-width="0.6"/>
<line x1="104.26" y1="729.3" x2="106.86" y2="729.3" stroke="#F08B2C" stroke-width="0.6"/>
<line x1="156.83" y1="702.13" x2="156.83" y2="713.53" stroke="#F08B2C" stroke-width="0.6"/>
<line x1="155.53" y1="702.13" x2="158.13" y2="702.13" stroke="#F08B2C" stroke-width="0.6"/>
<line x1="155.53" y1="713.53" x2="158.13" y2="713.53" stroke="#F08B2C" stroke-width="0.6"/>
<line x1="208.09" y1="684.27" x2="208.09" y2="690.73" stroke="#F08B2C" stroke-width="0.6"/>
<line x1="206.79" y1="684.27" x2="209.39" y2="684.27" stroke="#F08B2C" stroke-width="0.6"/>
<line x1="206.79" y1="690.73" x2="209.39" y2="690.73" stroke="#F08B2C" stroke-width="0.6"/>
<line x1="54.3" y1="750.9" x2="54.3" y2="635.8" stroke="#b2b2b2" stroke-width="1.4"/>
<line x1="49.3" y1="636.2" x2="54.3" y2="636.2" stroke="#8a8a8a" stroke-width="0.7"/>
<text x="47.6" y="639.94" font-size="10.4" text-anchor="end">3</text>
<line x1="49.3" y1="674.2" x2="54.3" y2="674.2" stroke="#8a8a8a" stroke-width="0.7"/>
<text x="47.6" y="677.94" font-size="10.4" text-anchor="end">2</text>
<line x1="49.3" y1="712.2" x2="54.3" y2="712.2" stroke="#8a8a8a" stroke-width="0.7"/>
<text x="47.6" y="715.94" font-size="10.4" text-anchor="end">1</text>
<line x1="49.3" y1="750.2" x2="54.3" y2="750.2" stroke="#8a8a8a" stroke-width="0.7"/>
<text x="47.6" y="753.94" font-size="10.4" text-anchor="end">0</text>
<line x1="53.6" y1="750.2" x2="225.68" y2="750.2" stroke="#b2b2b2" stroke-width="1.4"/>
<line x1="54.3" y1="750.2" x2="54.3" y2="754.8" stroke="#555" stroke-width="0.7"/>
<text x="54.3" y="764.7" font-size="10.4" text-anchor="middle">0</text>
<line x1="97.02" y1="750.2" x2="97.02" y2="754.8" stroke="#555" stroke-width="0.7"/>
<text x="97.02" y="764.7" font-size="10.4" text-anchor="middle">20</text>
<line x1="139.74" y1="750.2" x2="139.74" y2="754.8" stroke="#555" stroke-width="0.7"/>
<text x="139.74" y="764.7" font-size="10.4" text-anchor="middle">40</text>
<line x1="182.46" y1="750.2" x2="182.46" y2="754.8" stroke="#555" stroke-width="0.7"/>
<text x="182.46" y="764.7" font-size="10.4" text-anchor="middle">60</text>
<line x1="225.18" y1="750.2" x2="225.18" y2="754.8" stroke="#555" stroke-width="0.7"/>
<text x="225.18" y="764.7" font-size="10.4" text-anchor="middle">80</text>
<text x="146.3" y="777.2" font-size="10.4" text-anchor="middle" letter-spacing="0.3">Time(h)</text>
<line x1="64.2" y1="647.5" x2="73.8" y2="647.5" stroke="#7D7E82" stroke-width="1.3"/>
<circle cx="69" cy="647.5" r="1.4" fill="#7D7E82"/>
<text x="78.8" y="650.4" font-size="10.4">Ctrl</text>
<line x1="64.2" y1="664.6" x2="73.8" y2="664.6" stroke="#F08B2C" stroke-width="1.3"/>
<circle cx="69" cy="664.6" r="1.4" fill="#F08B2C"/>
<text x="78.8" y="668.4" font-size="10.4">G3P</text>
<line x1="212.4" y1="656.3" x2="212.4" y2="684.8" stroke="#444" stroke-width="0.7"/>
<g transform="translate(218.1 669.5) rotate(90)"><text x="0.65" y="6.2" font-size="11.8" text-anchor="middle" letter-spacing="1.3" font-family="DejaVu Sans, Liberation Sans, sans-serif" font-weight="bold" fill="#111">***</text></g>
<text x="25.2" y="696.3" font-size="10.85" text-anchor="middle" transform="rotate(-90 25.2 696.3)" letter-spacing="0.2">OD(450nm)</text>
<text x="37.6" y="691.3" font-size="10.85" text-anchor="middle" transform="rotate(-90 37.6 691.3)">(Human CD8<tspan font-size="9.77" dy="-3.25">+</tspan><tspan dy="3.25">T cells)</tspan></text>
<text x="224.5" y="609.9" font-size="14" font-weight="bold" fill="#1a1212">l</text>
<rect x="309.6" y="701.9" width="24.1" height="49" fill="#9C9DA1"/>
<rect x="346.2" y="646.5" width="24.1" height="104.4" fill="#E79A47"/>
<line x1="297.4" y1="751.6" x2="297.4" y2="623.1" stroke="#b2b2b2" stroke-width="1.4"/>
<line x1="292.4" y1="623.5" x2="297.4" y2="623.5" stroke="#8a8a8a" stroke-width="0.7"/>
<text x="290.7" y="627.24" font-size="10.4" text-anchor="end">40</text>
<line x1="292.4" y1="655.35" x2="297.4" y2="655.35" stroke="#8a8a8a" stroke-width="0.7"/>
<text x="290.7" y="659.09" font-size="10.4" text-anchor="end">30</text>
<line x1="292.4" y1="687.2" x2="297.4" y2="687.2" stroke="#8a8a8a" stroke-width="0.7"/>
<text x="290.7" y="690.94" font-size="10.4" text-anchor="end">20</text>
<line x1="292.4" y1="719.05" x2="297.4" y2="719.05" stroke="#8a8a8a" stroke-width="0.7"/>
<text x="290.7" y="722.79" font-size="10.4" text-anchor="end">10</text>
<line x1="292.4" y1="750.9" x2="297.4" y2="750.9" stroke="#8a8a8a" stroke-width="0.7"/>
<text x="290.7" y="754.64" font-size="10.4" text-anchor="end">0</text>
<line x1="292.6" y1="750.9" x2="383.4" y2="750.9" stroke="#b2b2b2" stroke-width="1.4"/>
<line x1="321.7" y1="750.9" x2="321.7" y2="756.1" stroke="#555" stroke-width="0.7"/>
<line x1="358.2" y1="750.9" x2="358.2" y2="756.1" stroke="#555" stroke-width="0.7"/>
<line x1="358.2" y1="642.1" x2="358.2" y2="646.5" stroke="#222" stroke-width="0.6"/>
<line x1="352.5" y1="642.1" x2="363.9" y2="642.1" stroke="#222" stroke-width="0.6"/>
<line x1="316" y1="701.7" x2="327.4" y2="701.7" stroke="#222" stroke-width="0.6"/>
<circle cx="317.1" cy="701.9" r="1.35" fill="#111"/>
<circle cx="321.7" cy="701.5" r="1.35" fill="#111"/>
<circle cx="326.5" cy="701.9" r="1.35" fill="#111"/>
<circle cx="358.2" cy="642.1" r="1.35" fill="#111"/>
<circle cx="358.2" cy="646.5" r="1.35" fill="#111"/>
<circle cx="358.2" cy="650.4" r="1.35" fill="#111"/>
<line x1="319.9" y1="635.9" x2="359.3" y2="635.9" stroke="#999" stroke-width="0.9"/>
<text x="338.95" y="635.1" font-size="11.8" text-anchor="middle" font-family="DejaVu Sans, Liberation Sans, sans-serif" font-weight="bold" fill="#111" letter-spacing="1.3">***</text>
<text x="321.1" y="768" font-size="10.4" text-anchor="middle">Ctrl</text>
<text x="357.9" y="768" font-size="10.4" text-anchor="middle">G3P</text>
<text x="259.6" y="696.8" font-size="10.85" text-anchor="middle" transform="rotate(-90 259.6 696.8)">% Annexin v<tspan font-size="9.77" dy="-3.25">+</tspan><tspan dy="3.25"> cells</tspan></text>
<text x="272.2" y="689.7" font-size="10.85" text-anchor="middle" transform="rotate(-90 272.2 689.7)">(Human CD8<tspan font-size="9.77" dy="-3.25">+</tspan><tspan dy="3.25">T cells)</tspan></text>
<path d="M430.56 668.49h0M426.87 674.88h0M426.71 669.44h0M434.25 655.9h0M429.19 668.92h0M431.48 660.71h0M428.08 663.35h0M426.05 669.98h0M421.08 675.25h0M426.88 668.83h0M425.8 666.37h0M428.18 668.72h0M428.83 662.41h0M423.09 668.8h0M422.44 669.3h0M428.46 665.61h0M430.4 665.51h0M430.87 661.06h0M425.04 671.28h0M424.82 674.32h0M427.47 674.01h0M421.21 672.29h0M429.61 653.62h0M426.16 669.36h0M429.61 655.58h0M430.04 660.45h0M426.3 668.41h0M427.95 662.87h0M428.39 668.82h0M429.42 654.02h0M434.51 659.01h0M427.03 671.39h0M429.52 672.46h0M428.27 666.46h0M426.92 669.29h0M425.85 668.36h0M431.01 653.05h0M428.21 669.27h0M427.09 669.19h0M430.8 666.71h0M425.92 670.56h0M435.06 655.97h0M429.11 676.4h0M429.37 662.48h0M424.85 675.83h0M423.47 672.43h0M423.01 675.9h0M430.69 660.48h0M429.74 668.32h0M431.47 660.11h0M427.46 668.89h0M425.65 675.9h0M432.63 659.31h0M426.78 669.3h0M424.09 672.32h0M425.21 669.84h0M423.77 669.42h0M429.19 665.79h0M420.21 673.39h0M429.98 669.03h0M424.82 672.3h0M427.4 672.24h0M426.91 674.77h0M428.72 670.77h0M427.68 667.59h0M428.37 670.27h0M427.51 665.81h0M431.08 666.23h0M426.74 668.57h0M428.23 671.25h0M428.01 663.71h0M428.31 665.16h0M427.89 673.94h0M429.27 662.07h0M429.16 667.93h0M425.77 672.01h0M426.85 662.12h0M430.37 666.54h0M427.15 663.57h0M427.44 665.18h0M430.89 664.86h0M427.29 665.93h0M427.69 672.56h0M426.07 674.23h0M429.1 664.46h0M435.65 652.63h0M431.09 652.39h0M429.43 663.63h0M424.38 666.66h0M424.15 671.14h0M428.91 670.21h0M428.84 667.99h0M425.02 672.11h0M427.84 667.03h0M430.39 659.08h0M432.16 654.95h0M429.93 660.49h0M433.43 657.5h0M430.6 666.09h0M424.12 671.17h0M424.74 671.96h0M431.51 669.96h0M427.72 671.02h0M433.47 663.96h0M431.47 656.96h0M427.97 667.55h0M421.07 675.59h0M430.82 663.34h0M429.75 669.99h0M425.81 674.92h0M427.92 667.88h0M429.86 665h0M429.32 666.52h0M433.53 655.24h0M432.28 662.02h0M428.34 670.96h0M427.41 674.55h0M424.57 672.78h0M430.52 666.65h0M432.47 662.94h0M425.62 668.49h0M430.27 664.72h0M426.77 675h0M426.89 665.87h0M426.99 663.99h0M425.97 674.01h0M426.05 672.85h0M431.81 662.3h0M430.12 661.92h0M430.53 657.93h0M429.75 669.53h0M434.44 660.69h0M421.34 673.48h0M426.64 664.21h0M425.27 667.71h0M432.79 661.87h0M429.78 664.43h0M427.6 667.44h0M429.66 665.75h0M428.67 664.66h0M434.48 656.02h0M434.79 660.19h0M422.18 672.17h0M431.25 659.56h0M427.79 667.24h0M426.26 666.11h0M426.84 668.25h0M423.72 666.03h0M431.18 663.01h0M429.24 668.36h0M430.51 669.22h0M426.26 666.97h0M427.22 673.01h0M427.6 672.69h0M432.27 661.95h0M430.88 661.29h0M426.9 667.54h0M423.25 670.55h0M424.31 670.63h0M428.81 664.77h0M434 660.02h0M430.19 660.73h0M430.28 666.66h0M431.59 666.43h0M428.3 670.45h0M421 671.73h0M429.32 672.19h0M425.14 672.02h0M428.52 667.91h0M425.17 674.39h0M430.91 665.88h0M428.44 674.23h0M438.37 657.85h0M427.66 663.41h0M428.54 663.25h0M422.6 667.45h0M426.04 672.69h0M431.35 668.42h0M420.33 673.36h0M428.35 664.56h0M430.2 666.79h0M432.5 665.4h0M429.23 657.82h0M431.43 670.17h0M428.47 671.48h0M427.06 667.99h0M434.86 658.72h0M428.88 670.37h0M422.56 675.82h0M430.91 662.22h0M425.48 675.24h0M431.36 667.02h0M430.51 661.59h0M426.23 671h0M429.93 670.77h0M435.45 658.97h0M428.75 665.34h0M430.21 661.87h0M425.72 665.01h0M429.28 672h0M422.07 673.3h0M430.51 670.53h0M431.91 658.33h0M426.3 670.98h0M425.14 674.03h0M424.38 668.63h0M425.71 671.51h0M423.27 672.56h0M434.28 663.84h0M426.33 669.47h0M429.16 664.56h0M428.06 674.27h0M423.4 674.06h0M424.31 671.5h0M428.29 670.04h0M433.73 659.3h0M425.84 666.67h0M426.1 667.56h0M429.47 669.49h0M428.26 666.5h0M425.59 672.83h0M426.67 666.47h0M428.01 672.04h0M430.83 664.56h0M429.76 665.7h0M426.04 664.72h0M429.89 666.86h0M427.34 662.36h0M425.96 670.77h0M427.05 671.74h0M423.58 676.03h0M430.02 667.19h0M427.71 667.47h0M426.56 661.79h0M430.38 661.71h0M423.29 675.68h0M425.56 669.42h0M428.7 662.49h0M422.19 675.5h0M433.44 656.97h0M424.28 671.06h0M424.25 674.93h0M431.43 666.26h0M432.09 660.85h0M424.37 671.49h0M428.71 664.99h0M426.71 664.44h0M431.35 662.48h0M428.86 668.08h0M428.47 675.38h0M426.51 668.73h0M428.77 661.57h0M431.2 658.21h0M426.15 667.57h0M426.6 660.88h0M428.69 662.82h0M426.07 666.66h0M429.06 666.69h0M430.42 664.48h0M431.76 664.86h0M424.64 669.46h0M428.72 671.35h0M426.31 666.81h0M434.36 663.88h0M425.73 668.34h0M426.95 674.24h0M425.43 671.41h0M430.17 663.6h0M427.38 666.78h0M426.29 672.26h0M429.56 667.53h0M427.06 671.52h0M429.65 665.01h0M431.62 665.22h0M428.76 666.79h0M425.55 674.54h0M427.14 668.33h0M426.45 673.82h0M436.82 651.9h0M429.06 667.83h0M426.31 671.9h0M424.76 671.7h0M429.15 666.71h0M426.21 668.02h0M426.86 665.34h0M429.8 662.72h0M429.42 668.69h0M427.4 663.27h0M427.88 669.93h0M420.23 672.88h0M427.69 668.42h0M429.49 665.32h0M428.85 667.37h0M433.2 659.57h0M428.99 664.16h0M431.19 660.6h0M426.5 661.38h0M428.6 666.33h0M428.88 672.1h0M429.02 665.27h0M429.75 673.04h0M431.54 663.77h0M427.97 674.06h0M429.27 664.17h0M424.73 667.24h0M428.07 662.84h0M429.85 662.19h0M426.72 672.32h0M426.62 665.65h0M428.86 669.01h0M424.78 668.43h0M425.5 668.71h0M426.27 671.75h0M427.46 668.15h0M426.64 668.93h0M431.97 668.7h0M421.06 674.86h0M428.96 662.41h0M430.29 658.79h0M427.99 671.84h0M431.65 662.54h0M429.19 664.97h0M426.25 670.65h0M433.25 660.48h0M428.63 668.16h0M432.73 663.72h0M427.44 668.78h0M433.73 668.17h0M431.04 667.57h0M421.66 676.05h0M425.76 671.93h0M429.22 667.17h0M427.91 666.18h0M436.8 651.75h0M433.72 665.5h0M432.06 662.32h0M432.37 667.57h0M422.91 674.07h0M424.79 665.28h0M427.6 673.96h0M426.86 671.09h0M428.07 662.56h0M427.72 665.72h0M424.1 674.74h0M427.11 668h0M427.66 673.05h0M432.59 661.13h0M425.8 667.7h0M423.46 672.27h0M430.29 667.46h0M430.79 662.16h0M427.12 670.61h0M429.45 667.74h0M431.36 657.99h0M430.74 652.81h0M424.39 674.34h0M433.18 654.2h0M430.79 660.64h0M426.64 666.14h0M435 653.48h0M430.17 673.91h0M429.31 667.21h0M426.06 668.2h0M433.78 658.06h0M429.36 670.04h0M427.57 675.15h0M426.46 667.38h0M431.04 664.12h0M427.32 670.38h0M433.57 662.99h0M420.64 671.1h0M433.9 654.71h0M427.47 671.04h0M428.54 671.64h0M423.76 675.77h0M429.2 670.54h0M430.17 658.1h0M428.6 670.04h0M427.91 667.56h0M432.26 663.43h0M425.91 671.66h0M430.4 664.05h0M426.43 666.11h0M433.05 656.59h0M428.77 666.26h0M428.47 667.72h0M426.08 673.66h0M432.47 660.67h0M431.13 663.8h0M431.36 669.39h0M426.57 672.69h0M431.73 661.69h0M422.77 673.77h0M431.15 657.17h0M429.01 668.42h0M425.1 665.85h0M425.12 672.71h0M428.58 667.56h0M420.81 675.07h0M429.8 661.44h0M420.75 673.75h0M427.41 663.47h0M425.86 675.24h0M429.97 666.54h0M418.89 673.59h0M424.38 674.05h0M427.53 673.02h0M427.25 664.77h0M429.5 664.25h0M428.51 672.09h0M427.7 659.21h0M427.11 669.08h0M423.42 674.76h0M425.58 673.26h0M422.39 669.7h0M433.35 661.13h0M426.97 674.12h0M431.52 653.66h0M425.78 670.18h0M429.2 664.16h0M428.31 670.71h0M433.82 652.64h0M428.36 671.45h0M428.61 669.14h0M433.06 670.5h0M430.62 664.22h0M429.1 667.53h0M428.16 662.15h0M427.96 667.64h0M430.92 673.51h0M430.85 663.69h0M425.69 673.13h0M426.9 669.84h0M433.23 668.78h0M435.31 660.88h0M437.44 661.64h0M423.6 671.11h0M429.13 666.88h0M426.99 667.21h0M433.3 665.09h0M428.3 666.36h0M431.22 660h0M427.48 670.55h0M428.62 669.12h0M429.75 666.31h0M430.37 664.54h0M435.62 646.56h0M430.17 663.11h0M428.09 668.69h0M427.54 675.25h0M426.51 665.21h0M424.7 676.05h0M425.16 675.84h0M428 665.34h0M428.22 665.2h0M433.07 655.6h0M430.46 666.11h0M428.88 667.65h0M430.94 661.33h0M428.44 665.47h0M434.64 655.2h0M425.26 659.94h0M424.45 670.11h0M427.34 667.33h0M424.23 674.49h0M432.53 663.66h0M428.27 672.34h0M427.21 672.5h0M427.22 674.43h0M434.8 652.75h0M429.25 658.79h0M430.86 674.41h0M428.72 668.86h0M427.75 674.09h0M430.98 673.66h0M425.18 675.32h0M431.65 660.04h0M431.8 662.24h0M428.56 660.33h0M435.04 656.85h0M427.48 671.45h0M425.62 668.65h0M428.88 671.39h0M426.59 673.52h0M421.28 674.14h0M425.96 670.87h0M430.28 667.67h0M426.05 670.33h0M431.19 663.44h0M428.28 668.54h0M427.79 660.7h0M429.88 661.56h0M426.51 668.94h0M429.02 662.83h0M428.68 669.52h0M427.7 663.05h0M428.87 666.78h0M427.95 668.56h0M427.99 665.48h0M429.31 669.83h0M424.52 674.77h0M422.89 673.6h0M427.01 670.84h0M432.41 658.03h0M431.92 662.46h0M422.61 664.81h0M428.5 667.23h0M424.97 674.81h0M430.55 657.48h0M428.04 672.09h0M430.66 666.93h0M433.19 660.83h0M435.95 653.49h0M423.59 676.15h0M430.64 664.3h0M425.14 672.94h0M432.3 658.43h0M425.7 672.16h0M429.68 673.96h0M432.25 663.48h0M424.69 671.83h0M424.86 664.42h0M428.9 660.28h0M428.93 667.65h0M426.16 673.4h0M433.64 665.18h0M432.53 667.07h0M429.12 664.82h0M429.76 661.99h0M429.61 667.57h0M432.09 660.88h0M428 666.64h0M426.51 673.72h0M430.29 666.45h0M430.37 670.19h0M427.92 670.04h0M430.55 667.65h0M425.3 672.18h0M426.12 668.81h0M423.76 671.15h0M433.06 664.48h0M426.31 674.99h0M422.92 674.69h0M427.22 670.15h0M425.93 663.38h0M424.02 676.53h0M431.07 671.47h0M425.94 669.22h0M426.95 657.89h0M426.16 672.08h0M425.8 668.42h0M425.16 667.78h0M432.39 662.52h0M428.46 662.84h0M425.24 675.43h0M429.17 667.55h0M425.99 666.31h0M429.46 674.19h0M429.44 661.25h0M433.71 655.66h0M426.46 667.33h0M432.91 658.41h0M426.05 667.74h0M424.28 676.42h0M430.81 669.36h0M424.45 673.54h0M432.55 662.39h0M428.5 673.67h0M431.08 665.76h0M430.82 666.67h0M426.28 670.52h0M432.1 661.38h0M431.17 666.71h0M429.44 666.88h0M428.96 661.96h0M427.47 670.1h0M429.1 669.68h0M429.14 664.84h0M430.72 660.73h0M426.33 672.88h0M429.69 663.85h0M423.67 674.48h0M429.92 667.17h0M433.24 656.51h0M423.4 667.55h0M433.63 660.62h0M426.71 667.35h0M428.25 674.39h0M432.68 664.28h0M429.69 669.98h0M425.73 667.2h0M424.96 669.75h0M427.49 665.69h0M423.33 675.9h0M427.62 669.69h0M432.44 664.67h0M432.24 666.84h0M428.53 660.85h0M427.74 669.53h0M429.28 663.9h0M437.06 660.25h0M425.68 667.48h0M426.84 667.76h0M425.87 670.72h0M432.79 663.05h0M428.62 665.05h0M429.34 665.34h0M426.93 665.73h0M425.21 671.41h0M427.83 668.07h0M429.79 671.31h0" fill="none" stroke="#5568E4" stroke-width="0.8" stroke-linecap="round" stroke-opacity="0.6"/>
<path d="M428.53 667.6h0M426.01 671.76h0M428.86 665.99h0M427.53 666.07h0M427.54 665.8h0M426.13 669.45h0M429.68 667.89h0M427.54 666.25h0M429.52 668.05h0M430.11 665.2h0M424.96 672.53h0M426 670.64h0M428.53 667.03h0M427.94 669.85h0M426.1 670.88h0M426.57 666.76h0M424.52 670.86h0M425.63 672.42h0M428.14 668.76h0M427.31 665.93h0M433.52 660.81h0M424.6 672.84h0M427.22 670.19h0M429.27 665.38h0M430.77 664.83h0M426.54 671.28h0M429.36 663.75h0M430.48 663.17h0M431.36 661.26h0M429.18 660.68h0M431.55 662.08h0M428.49 670.28h0M428.42 669.63h0M431.24 664.55h0M434.26 659.35h0M434.07 657.71h0M428.79 667.58h0M426.42 667.45h0M426.86 666.69h0M427.04 669.04h0M425.55 669.75h0M428.2 667.52h0M431.63 662.48h0M429.4 663.68h0M425.84 668.61h0M427.04 672.16h0M427.42 668.75h0M428.69 671.33h0M429.25 668.92h0M429.06 668.73h0M424.34 671.37h0M429.94 663.09h0M429.61 667.37h0M429.78 665.18h0M424.66 672.7h0M428.84 668.23h0M429.52 666.01h0M426.38 671.31h0M428.98 663.35h0M427.89 670.99h0M431.8 661.45h0M426.86 667.41h0M426.79 668.06h0M429.15 667.83h0M430.51 666.83h0M424.35 671.62h0M432.11 662.77h0M426.13 672.25h0M425.73 672.58h0M429.81 667.23h0M424.45 671.41h0M428.78 665.36h0M429.55 661.33h0M423.36 669.17h0M431.96 663.94h0M428.5 666.05h0M422.13 675.86h0M429.19 671.39h0M429.15 663.81h0M429.57 666.49h0M427.95 665.28h0M428.29 670.46h0M429.04 664.83h0M433.44 657.7h0M428.25 670.27h0M429.54 664.46h0M433.08 660.89h0M428.92 668.3h0M429.07 664.96h0M428.9 664.53h0M428.32 669.38h0M424.99 673.14h0M426.85 672.54h0M429.01 671.53h0M430.4 661h0M427.92 667.09h0M428.82 668.41h0M433.75 662.9h0M430.35 659.35h0M426.81 669.9h0M427.54 669.41h0M428.83 664.94h0M429.64 671.86h0M432.07 666.29h0M428.5 671.2h0M433.14 661.56h0M427.11 671.51h0M425.06 670.62h0M428.62 668.32h0M427.46 668.8h0M428.53 664.87h0M429.85 666.6h0M430.08 665.5h0M425.6 672.09h0M427.99 670.23h0M424.54 675.55h0M425.47 675.2h0M427.01 670.2h0M432.03 664.99h0M426.11 672.28h0M423.72 676.2h0M427.4 671.29h0M427.93 668.49h0M425.31 672.55h0M425.73 672.74h0M425.04 674.9h0M433.47 664.78h0M432.78 662.28h0M431.63 665.45h0M428.43 668.35h0M423.52 675.69h0M428.38 662.01h0M428.64 666.56h0M427.67 669.68h0M426.75 667.2h0M425.7 667.23h0M431.15 661.51h0M428.8 663.62h0M433.11 660.66h0M429.03 666.6h0M427.96 665.89h0M427.49 668.42h0M430.68 667.24h0M430.79 663.15h0M429.03 665.07h0M425.1 669.06h0M423.97 672.67h0M427.69 668.14h0M430.34 666.77h0M429.29 664.96h0M426.73 669.77h0M428.22 664.8h0M424.65 674.24h0M431.71 664.16h0M427 664.25h0M428.57 669.04h0M432.53 664.38h0M426.52 672.19h0M424.53 674.51h0M428.21 670.11h0M426.28 666.22h0M428.22 668.7h0M430.2 661.3h0M425.53 671.31h0M429.83 663.41h0M428.75 667.85h0M427.63 672.11h0M426.85 675.97h0M425.54 670.28h0M425.08 670.45h0M425.23 671.26h0M425.38 672.86h0M427.98 666.29h0M427.4 666.71h0M428.09 666.84h0M425.86 672.71h0M426.87 668.31h0M428.56 668.5h0M424.85 672.95h0M429.32 665.3h0M432.54 666.04h0M425.83 673.56h0M428.96 670.4h0M427.54 664.71h0M430.28 663.36h0M427.39 669.31h0M427.43 666.56h0M428.84 670.43h0M425.15 672h0M428.48 664.14h0M427.94 669.05h0M425.73 671.69h0M425.85 671.76h0M428.6 666.81h0M428.96 667.17h0M428.36 663.99h0M430.15 668.44h0M427.18 668.87h0M427.14 667.55h0M429.15 665.61h0M428.54 669.17h0M428.81 662h0M426.62 669.99h0M425.87 674.45h0M433.4 659.39h0M428.29 661.42h0M425.48 669.12h0M429.49 664.57h0M428.22 669.04h0M431.56 665.69h0M432 662.66h0M426.08 675.77h0M426.35 666.7h0M428.05 667.14h0M428.96 668.97h0M425.95 674.18h0M429.14 662.19h0M430.12 661.6h0M427.58 671.74h0M425.74 666.99h0M427.48 671.17h0M426.28 670.06h0M428.01 667.96h0M425.43 670.41h0M430.41 666.82h0M429.02 663.19h0M429.2 660.93h0M431.96 664.85h0M428 659.82h0M426.92 667.15h0M430.53 667.13h0M430.85 667.19h0M423.47 674.7h0M427.7 670.67h0M429.55 662.26h0M427.13 672.52h0M425.91 674.03h0M426.18 671.47h0M432.02 658.94h0M427.11 667.33h0M431.02 666.5h0M427.76 664.47h0M430.65 667.35h0M425.82 672.04h0M425.35 671.65h0M424.28 671.48h0M428.95 665.89h0M425.14 670.48h0M428.08 667.22h0M427.14 665.61h0M425.9 670.95h0M426.77 669.43h0M426.25 671.22h0M430.54 660.47h0M424.87 675.3h0M427.06 672.41h0M432.23 664.49h0M426.27 666.36h0M432.49 661.63h0M430.83 662.51h0M427.3 669.52h0M425.32 676.53h0M425.96 670.3h0M427.73 665.9h0M428.96 664.15h0M434.48 658.56h0M429.85 665.22h0M427.54 667.43h0M423.34 675.89h0M425.75 671.08h0M425.93 666.49h0M424.59 672.92h0M428.17 670.48h0M433.45 656.41h0M429.4 665.15h0M430.71 667.85h0M429.1 667.54h0M427.39 667.38h0M430.11 663.2h0M429.79 660.93h0M431.03 666.99h0M427.15 670.85h0M431.68 661.82h0M425.96 671.21h0M428 666.24h0M427.33 669.82h0M427.46 674.28h0M426.78 670.49h0M429.99 668.32h0M429.73 670.78h0M432.85 660.37h0M423.62 673.02h0M427.88 669.17h0M430.89 665.89h0M429.1 665.99h0M426.43 665.03h0M428.66 662.03h0M423.12 675.87h0M425.67 669.07h0M427.7 668.91h0M429.84 665.47h0M427.11 670.2h0M430.42 662.3h0M425.17 667.3h0M431.15 667.88h0M429.35 664.59h0M432.21 663.3h0M429.51 661.38h0M426.5 673.35h0" fill="none" stroke="#4A7BEA" stroke-width="0.8" stroke-linecap="round" stroke-opacity="1"/>
<path d="M429.28 666.46h0M426.49 672.91h0M432.09 662.37h0M432.45 659.99h0M429.87 668.32h0M427.58 663.76h0M425.91 672.94h0M428.86 670.35h0M431.65 663.48h0M427.36 668.86h0M428.97 665.29h0M429.37 665.91h0M429.36 665.53h0M424.28 669.1h0M424.66 671.58h0M427.81 665.18h0M427.57 670.02h0M430.01 666.24h0M430.12 667.21h0M428.19 670.3h0M425.56 672.09h0M429.23 666.91h0M427.03 668.55h0M424.08 670.89h0M426.44 674.91h0M423.8 673.04h0M425.21 673.1h0M427.05 668.6h0M425.85 672.08h0M426.09 672.67h0M429.45 662.84h0M427.87 667.11h0M426.17 668.71h0M428.08 667.78h0M432.11 665.01h0M427.32 671.93h0M426.21 670.43h0M426.59 671.98h0M429.8 664.06h0M427.6 666.97h0M426.32 668.45h0M426.04 667.38h0M432.65 661.3h0M426.64 669.67h0M427.41 669.44h0M430.03 668.11h0M425.52 668.69h0M428.75 667.38h0M427.4 671.04h0M426.96 668.29h0M426.66 667.76h0M428.87 670.08h0M430.38 664.47h0M428.42 667.76h0M426.29 671.87h0M426.3 670.06h0M429.77 662.67h0M428.16 667.86h0M429.31 664.73h0M429.1 666.6h0M427.18 668.35h0M427.34 671.79h0M427.69 671.27h0M430.09 662.43h0M425.6 670.63h0M428.38 670.23h0M425.83 670.03h0M425.52 673.31h0M430.04 667.25h0M428.38 667.14h0M430.54 669.39h0M431.29 663.32h0M427.32 668.97h0M427.79 668.23h0M428.15 666.13h0M430.05 661.58h0M429.71 666.23h0M430.72 665.53h0M428.7 667.07h0M431.45 663.91h0M428.81 668.33h0M426.53 671.96h0M425.92 675.1h0M427.91 670.35h0M428.24 666.22h0M430.85 665.97h0M428.41 671.52h0M427.88 666.29h0M428 668.9h0M428.48 665.27h0M427.94 669.31h0M430.26 667.9h0M430.17 665.66h0M425.91 670.35h0M426.43 671.18h0M430.57 666.65h0M428.89 664.41h0M429.93 669.03h0M428.8 667.68h0M424.76 671.62h0M427.14 669.28h0M428.82 666.14h0M427.65 674.31h0M427.24 665.91h0M431.48 662.89h0M427.89 668.41h0M426.87 665.25h0M429.91 664.81h0M428.67 665.46h0M428.59 670.51h0M428.5 663.46h0M427.16 668.28h0M426.14 669.08h0M426.14 672.13h0M428.21 668.99h0M428.81 665.21h0M432.83 661.92h0M425.6 672.69h0M427.96 669.16h0M428.02 671.68h0M429.43 669.99h0M428.68 671.13h0M429.59 666.95h0M428.97 666.94h0M426.42 670.93h0M426.81 670.08h0M428.22 669.39h0M428.29 666.85h0M426.26 673.8h0M426.63 670.04h0M428.73 666.48h0M428.31 667.68h0M425.82 674.13h0M428.46 668.87h0M427.84 667.45h0M430.41 663.43h0M430.18 664.99h0M430.24 665.83h0M428.22 665.55h0M428.92 669.25h0M427.55 668.19h0M428.96 668.23h0M426.74 670.52h0M426.78 669.05h0M428.72 665.34h0M428.46 667.95h0M429.2 666.67h0M428.57 665.27h0M425.13 675.9h0M430.26 662.57h0M428.88 668.21h0M426.79 670.43h0M427.89 669.5h0M429.62 668.43h0M426.08 670.45h0M426.12 672.4h0M427.69 668.19h0M428.13 665.65h0M427.75 673.28h0M427.23 667.47h0M429.78 664.72h0M426.93 671h0M430.33 664.94h0M429.43 668.89h0M426.6 670.53h0M427.91 665.99h0M429.44 665.97h0M429.85 664.98h0M429.93 661.13h0M427.06 668.85h0M428.67 668.15h0M427.38 671.59h0M429.92 664.44h0M426.56 672.44h0M427.92 666.14h0M426.59 669.81h0M426.26 672.48h0M430.1 664.57h0M427.01 670.01h0M429.68 668.76h0M427.88 669.44h0M428.65 669.34h0M427.34 670.61h0M428.08 669.25h0M425.88 672.26h0M430.38 664.73h0M428.79 672.23h0M428.58 666.36h0M426.76 668.59h0M431.58 663.62h0M429.42 662.92h0M423.35 672.81h0M425.37 672.24h0M424.8 670.89h0M428.22 666.04h0M429.59 667.49h0M426.34 670.28h0M428.59 663.41h0M426.25 669.02h0M427.11 668.43h0M427.85 667.2h0M429.07 664.01h0M428.4 668.63h0M426.02 670.58h0M427.39 668.29h0M428.49 665.3h0M426.19 673.08h0M426.09 670.4h0M428.5 669.41h0M429.3 665.68h0M427.96 667.07h0M431.46 663.17h0M427.45 671.11h0M425.17 671.93h0M428.28 670.94h0M431 661.87h0M428.37 670.19h0M428.55 670.42h0M427.35 671.48h0M428.26 671.31h0M427.59 667.36h0M426.02 666.66h0M428.66 668.12h0M430.64 660.16h0M430.95 664.8h0M428.8 665.62h0M427.51 667.13h0M427.39 666.62h0M427.29 669.65h0M425.49 670.27h0M428.14 668.37h0M429.38 666.12h0M430.51 662.76h0M429.14 663.38h0M429.67 666.23h0M430.33 661.86h0M430.76 662.11h0M425.9 668.59h0M428.93 664.88h0M429.47 665.4h0M429.29 665.51h0M426.57 669.96h0M428.41 668.18h0M427.66 670.8h0M423.74 673.81h0M429.36 665.95h0M432.11 662h0M425.52 670.66h0M427.98 667.88h0M428.68 665.44h0M426.26 669.9h0M427.21 667.7h0M428.46 668.74h0M426.76 668.08h0M429.5 666.68h0M426.29 670.61h0M424.58 672.63h0M425 671.02h0M428.67 670.93h0M429.37 664.19h0M428.7 666.7h0M426.36 666.84h0M426.66 668.09h0M427.15 669.47h0M429.76 667.38h0M428.28 664.78h0M427.86 669.64h0M425.59 667.8h0M428.5 665.39h0M426.28 667.4h0M427.22 672.28h0M427.61 669.79h0M430.48 662.92h0M427.74 667.86h0M429.55 665.58h0M430.04 667.35h0M429.85 666.99h0M426.38 670.66h0M428.26 665.56h0M425.62 672.62h0M427.51 669.83h0M430.03 662.74h0M425.97 671.41h0M426.54 669.72h0M430.23 664.68h0M428.33 666.72h0M429.38 664.91h0M430.63 662.57h0M428.46 668.6h0M429.68 660.48h0M427.58 666.04h0M424.99 673.12h0M427.77 664.62h0M428.93 670.21h0M429.6 663.88h0M429.03 665.98h0M426.29 669.57h0M429.29 663.75h0M427.24 668.33h0M425.38 672.81h0M429.92 661.63h0M428.89 668.84h0M428.61 666.61h0M429.12 666.31h0M427.06 667.94h0M425.63 668.78h0M427.92 667.56h0M425.48 669.42h0M425.4 669.02h0M427.76 665.65h0" fill="none" stroke="#37A9F2" stroke-width="0.9" stroke-linecap="round" stroke-opacity="1"/>
<path d="M428.28 666.12h0M428.89 666.89h0M428.58 666.29h0M426.29 672.01h0M426.44 668.93h0M427.01 670.35h0M428.73 666.93h0M429.22 666.96h0M427.6 668.73h0M427.52 668.51h0M427.92 668.38h0M427.52 669.1h0M428.65 666.18h0M427.97 666.74h0M428.08 670.2h0M428.48 668.68h0M424.69 671.35h0M427.74 668.1h0M426.11 672.82h0M428.14 666.65h0M428.84 667.08h0M427.68 667.78h0M428.31 666.67h0M426.67 668.73h0M428.72 668.21h0M427.16 668.92h0M426.53 670.62h0M428.63 666.4h0M429.1 667.21h0M426.73 669.68h0M428.35 666.79h0M426.89 670.19h0M428.91 667.59h0M427.27 669.89h0M426.81 666.39h0M428.58 666.62h0M427.35 671.79h0M428.48 667.32h0M430.77 663.71h0M426.96 670.07h0M430.28 665.01h0M429.42 665h0M428.68 665.66h0M428.1 668.62h0M428.12 668.51h0M427.92 668.47h0M430.27 664.11h0M428.19 665.52h0M427.86 669.51h0M426.12 671.19h0M428.24 669.08h0M425.94 671.42h0M427.99 668.11h0M427.02 671.66h0M429.3 667.09h0M428.83 667.11h0M427.5 668.56h0M426.99 670.59h0M427.38 670.8h0M428.07 666.92h0M427.19 667.33h0M426.53 669.95h0M426.2 670.74h0M427.32 668.37h0M426.42 669.47h0M426.3 672.18h0M428.16 669.29h0M426.51 670.26h0M429.32 667.19h0M429.33 666.42h0M426.85 671h0M428.49 663.86h0M429.46 668.04h0M427 670.34h0M430.1 664.39h0M428.54 668h0M428.14 668.67h0M428.25 668.61h0M427.01 669.76h0M426.81 667.19h0M428.62 666.17h0M426.55 668.9h0M427.3 668.04h0M429.43 667.26h0M427.08 668.8h0M427.64 668.28h0M427.28 666.56h0M428.41 667.03h0M426.5 668.8h0M429.41 666.59h0M428.61 667.67h0M428.84 666.47h0M428.15 666.19h0M427.34 665.81h0M429.94 666.22h0M428.61 665.52h0M428 668.75h0M427.34 669.85h0M428.73 668.59h0M427.19 668.84h0M429.1 667.2h0M426.87 668.32h0M425.8 670.2h0M427.46 667.61h0M427.15 667.68h0M427.97 668.78h0M427.52 670.53h0M427.54 667.76h0M427.58 668.72h0M426.8 669.57h0M427.13 667.04h0M430.8 663.43h0M430.41 666.23h0M428.64 666.6h0M428.16 668.43h0M428.86 664.98h0M429.48 664.43h0M427.69 670.5h0M427.86 669.27h0M427.06 670.9h0M428.15 669.33h0M426.05 670.97h0M427.13 670.06h0M426.79 669.94h0M427.69 667.98h0M428.26 667.83h0M426.97 671.52h0M426.44 670.03h0M429.22 664.47h0M428.2 668.55h0M427.24 669.33h0M427.55 668.59h0M427.38 670.69h0M428.3 668.19h0M427.63 667.84h0M428.63 665.59h0M428.46 665.94h0M427.29 669.52h0M430.69 663.71h0M428.3 667.95h0M428.8 665.65h0M425.53 671.53h0M427.49 667.96h0M428.5 668.97h0M427.36 668.42h0M428.66 668.32h0M429.97 664.89h0M427.44 668.49h0M426.53 670.13h0M429.17 666.39h0M427.69 667.15h0M427.5 668.01h0M429.41 665.09h0M427.84 668.26h0M427.99 668.09h0M427.58 669.2h0M428.5 668.17h0M428.83 667.19h0M427.48 669.05h0M425.34 672.19h0M426.23 668.22h0M429.6 666.02h0M429.41 668.37h0M426.5 671.14h0M427.79 667.69h0M430 665.41h0M427.89 666.86h0M428.23 667.58h0M427.66 666.66h0M427.58 670.35h0M427.98 667.89h0M426.41 667.41h0M428.51 664.83h0M427.07 670.62h0M429.92 665.7h0M427.01 668.84h0M428.68 666.88h0M426.97 671.94h0M426.31 671.95h0M428.67 667.61h0M428.52 668.08h0M427.75 667.23h0M428.14 669.63h0M426.52 671.98h0M426.42 668.76h0M427.38 669.88h0M425.78 673.77h0M428.91 665.5h0M427.64 668.76h0M428.23 666.03h0M427.68 669.09h0M426.68 671.1h0M428.34 668.39h0M426.84 670.26h0M428.35 667.3h0M427.56 670.46h0M427.94 668.29h0M428.39 668.12h0M427.67 667.68h0M428.73 666.37h0M428.18 667.88h0M426.89 670.37h0M427.47 667.04h0M427.65 668.6h0M428.46 666.59h0M428.4 668.05h0M426.39 670.22h0M428.09 668.8h0" fill="none" stroke="#4BE391" stroke-width="1" stroke-linecap="round" stroke-opacity="1"/>
<path d="M428.47 667.08h0M427.86 668.04h0M428.36 668.09h0M427.85 668.04h0M428.51 666.9h0M427.77 668.05h0M428.31 667.25h0M426.96 669.08h0M428 667.73h0M428.25 667.72h0M428.79 667.08h0M427.57 668.73h0M427.9 668.63h0M427.62 669.08h0M427.61 669.29h0M428.06 667.06h0M427.88 667.94h0M427.61 669.25h0M427.93 668.65h0M428.5 667.86h0M428 668.41h0M427.98 667.84h0M428.36 667.28h0M427.88 668.33h0M427.76 669.02h0M428.27 666.7h0M427.96 667.89h0M427.91 668.58h0M428.64 666.85h0M428.23 668.37h0M427.74 668.18h0" fill="none" stroke="#B8F25A" stroke-width="0.9" stroke-linecap="round" stroke-opacity="1"/>
<path d="M438.74 668.53h0M439 663.78h0M437.58 668.33h0M441.72 665.64h0M436.57 663.54h0M443.44 653.42h0M439.35 664.59h0M434.67 662.15h0M440.8 665.24h0M439.54 657.49h0M438.6 666.53h0M444.67 650.93h0M438.14 662.02h0M436.61 666.18h0M436.76 663.39h0M435.38 665.77h0M442.72 657.23h0M437.68 664.93h0M440.94 659.17h0M432.34 665.08h0M434.95 676.5h0M436.66 664.68h0M435.06 676.18h0M435.77 671.68h0M437.31 664.22h0M436.11 671.77h0M433.8 672.52h0M440.29 665.8h0M437.64 667h0M435.55 658.43h0M435.42 669.87h0M438.14 669.41h0M438.25 667.94h0M440.39 657.95h0M442.12 662.9h0M441.08 658.03h0M432.87 674.51h0M438.89 664.92h0M438.93 663.02h0M436.98 671.14h0M440.89 657.93h0M440.22 664.34h0M438.3 666.85h0M439.81 657.24h0M436.91 663.91h0M432.2 669.68h0M443.98 663.89h0M440.57 667.38h0M440.57 657h0M440.19 657.83h0M437.55 665.55h0M442.34 660.06h0M438.66 665.4h0M438 661.14h0M439.64 658.54h0M441.48 661.98h0M437.65 656.12h0M436.23 668.3h0M436.36 668.84h0M438.57 664.57h0M445.08 649.38h0M437.44 662.92h0M437.68 665.24h0M438.05 658.9h0M436.16 664.49h0M435.58 675.39h0M438.84 665.34h0M445.68 654.36h0M439.1 664.67h0M436.96 666.94h0M436.01 674.49h0M440.81 664.08h0M441.82 651.58h0M438.71 662.66h0M441.48 655.72h0M447.41 654.75h0M447.72 652.19h0M439.77 661.51h0M435.53 672.85h0M432.74 673.48h0M443.72 656.72h0M439.97 672.56h0M433.79 670.11h0M445.5 655.63h0M439.39 665.58h0M436.17 674.47h0M439.18 667.96h0M436.2 667.49h0M441.83 659.69h0M434.98 665.15h0M442.13 662.84h0M438.22 657.84h0M439.41 663.43h0M442.4 653.83h0M440.98 666.76h0M434.13 671.42h0M438.29 670.89h0M437.94 669.17h0M439.39 669.82h0M438.79 660.12h0M441 659.89h0M436.96 663.07h0M443.83 651.75h0M437.99 666.31h0M436.34 663.24h0M438.57 655.82h0M437.57 656.69h0M437.32 673.63h0M434.91 673.36h0M441.88 663.18h0M444.85 653.25h0M442.23 661.25h0M438.36 656.24h0M438.75 659.22h0M447.71 648.06h0M440.31 669.78h0M437.31 670.28h0M434.85 671.55h0M436.83 661.43h0M442.17 660.87h0M444.85 654.36h0M441.28 661.89h0M435.69 668.59h0M440.21 654.2h0M438.94 668.06h0M436.16 663.68h0M435.79 667.3h0M434.4 671.38h0M439.54 658.76h0M437.94 662.12h0M439.43 665.7h0M439.29 661.26h0M439.94 666.51h0M435.02 665.27h0M441.74 659.9h0M437.32 664.26h0M444.48 656.34h0M439.66 661.38h0M443.73 660.66h0M438.6 668.59h0M440.55 660.05h0M437.09 672.14h0M441.93 659.99h0M437.45 666.02h0M438.72 665.35h0M438.78 663.13h0M442.68 660.09h0M441.42 663.92h0M439.04 676.55h0M435.68 669.16h0M441.78 661.66h0M436.3 661.34h0M435.59 665.28h0M440.26 657.75h0M437.3 661.37h0M436.81 659.67h0M439.69 666.49h0M436.93 662.99h0M438.55 669.46h0M441.06 659.83h0M440.44 659.11h0M438.51 663.68h0M439.58 667.57h0M440.29 671.59h0M440.3 658.62h0M445.56 655.88h0M437.32 660.97h0M439.03 663.2h0M434.51 666.62h0M436.67 669.8h0M439.95 665.71h0M436.74 672.21h0M437.44 669.36h0M441.88 663.6h0M439.67 660.04h0M436.48 661.65h0M439.75 664h0M438.46 661.76h0M439.98 662.17h0M437.94 660.86h0M440.72 658.79h0M435.43 671.14h0M444.5 657.65h0M436.52 665.14h0M439.06 666.58h0M442.47 655.4h0M440.71 666.51h0M438.41 660.48h0M439.77 666.06h0M437.89 666h0M437.89 668.69h0M444.62 655.58h0" fill="none" stroke="#5568E4" stroke-width="0.8" stroke-linecap="round" stroke-opacity="0.6"/>
<path d="M437.16 664.79h0M441.02 659.84h0M437.99 669.1h0M437.53 665.16h0M437.44 663.47h0M438.5 667.83h0M438.7 664.99h0M440.57 660.07h0M439 664.47h0M441.08 659.14h0M439.87 665.8h0M439.38 659.17h0M441.16 663.66h0M435.7 667.76h0M439.08 661.59h0M438.06 669.15h0M438.85 664.51h0M440.4 660.32h0M439.55 667.4h0M439.9 660.95h0M437.03 664.52h0M438.39 661.34h0M439.2 657.75h0M438.78 660.94h0M438.02 667.29h0M439.44 663.83h0M437.17 667.21h0M438.44 665.08h0M439.61 661.23h0M437.57 666.85h0M436.05 668.79h0M439.7 659.97h0M439.37 661.17h0M437.63 666.79h0M439.13 662.39h0M440.42 663.78h0M438.96 664.05h0M438.39 666.61h0M437.92 666.21h0M438.61 665.69h0M440.2 662.73h0M439.28 663.95h0M440.14 657.92h0M438.24 667.04h0M438.9 663.55h0M435.46 671.27h0M440.26 661.22h0M438.52 663.83h0M437.42 665.9h0M437.02 663.19h0M439.17 659.63h0M440.82 660.45h0" fill="none" stroke="#4A7BEA" stroke-width="0.8" stroke-linecap="round" stroke-opacity="1"/>
<rect x="409.5" y="631.5" width="46.7" height="45.9" fill="none" stroke="#888" stroke-width="0.6"/>
<path d="M430.4 677.4 L441.6 646.2 L456.2 646.2" fill="none" stroke="#666" stroke-width="0.55"/>
<text x="411.6" y="641.4" font-size="10.5" fill="#111">Ctrl</text>
<text x="455.8" y="677.1" font-size="7.9" text-anchor="end" fill="#222">15.47</text>
<text x="407.9" y="647.7" font-size="5.4" text-anchor="end" fill="#333">1M</text>
<text x="408.1" y="666.4" font-size="5.4" text-anchor="end" fill="#333">500K</text>
<path d="M409.5 634.5h1M409.5 638.2h1M409.5 641.9h1M409.5 645.6h1M409.5 649.3h1M409.5 653h1M409.5 656.7h1M409.5 660.4h1M409.5 664.1h1M409.5 667.8h1M409.5 671.5h1M409.5 675.2h1" fill="none" stroke="#777" stroke-width="0.4"/>
<text x="420.3" y="684.5" font-size="6" text-anchor="middle" fill="#222">10</text>
<text x="424.7" y="681.7" font-size="4" text-anchor="middle" fill="#222">4</text>
<text x="437.8" y="684.5" font-size="6" text-anchor="middle" fill="#222">10</text>
<text x="442.2" y="681.7" font-size="4" text-anchor="middle" fill="#222">5</text>
<text x="454.3" y="684.5" font-size="6" text-anchor="middle" fill="#222">10</text>
<text x="458.7" y="681.7" font-size="4" text-anchor="middle" fill="#222">6</text>
<path d="M424.67 732.84h0M427.48 719.4h0M425.16 724.83h0M434.52 719.11h0M433.64 716.69h0M431.32 723.26h0M428.96 731.25h0M426.27 734.17h0M432.99 721.64h0M434.65 731.17h0M429.62 725.21h0M430.06 724.6h0M428.85 728.39h0M436.83 712.79h0M432.88 725.73h0M436.24 712.59h0M434.68 732.88h0M425.64 735.5h0M438.05 724.13h0M422.38 730h0M431.55 721.27h0M430.72 729.24h0M432.13 725.02h0M432.51 730.39h0M435.32 716.25h0M431.16 729.95h0M429.81 721.96h0M431.87 730.33h0M429.76 726.5h0M431.35 724.76h0M426.33 724.23h0M436.43 714.8h0M430.48 733.02h0M431.75 724.17h0M439.12 721.58h0M436.1 724.16h0M434.81 710.84h0M431.05 730.47h0M425.14 737.25h0M437.03 718.7h0M428.13 720.41h0M439.02 711.17h0M434.21 721.62h0M422.42 736.11h0M431.64 736.24h0M427.79 731.46h0M431.37 728.48h0M432.9 723.16h0M419.82 731.34h0M431.91 725.37h0M434.2 717.93h0M429.94 730.68h0M423.8 735.44h0M428.49 733.17h0M438.74 713.12h0M434.72 718.87h0M430.59 723.89h0M424.35 725.56h0M424.27 732.85h0M434.8 721.33h0M437.77 720.23h0M432.34 729.31h0M436.55 713.22h0M433.63 718.82h0M426.32 737.02h0M428.62 731.77h0M430.17 729.6h0M434 716.82h0M428.12 732.23h0M433.77 722.16h0M427.43 721.51h0M430.57 735.08h0M427.99 723.04h0M424.89 730.47h0M430.52 734.19h0M432.76 728.84h0M427.85 723.38h0M434.23 732.94h0M426.04 730.26h0M434.72 717.97h0M434.23 727.78h0M424.33 731.85h0M431.06 732.91h0M426.05 725.23h0M431.06 735.3h0M431.31 718.13h0M437.25 709.39h0M426.88 734.15h0M437.43 721.55h0M432.9 718.77h0M425.67 728.47h0M429.17 726.07h0M428.55 723.21h0M427.16 728.78h0M424.37 733.11h0M424.93 731.86h0M432.75 722.45h0M428.02 735.7h0M435.12 725.79h0M429.72 727.3h0M429.01 731.01h0M432.7 723.04h0M431.37 728.52h0M431.66 725.84h0M428.47 732.75h0M425.8 732.07h0M436.27 727.32h0M433.82 719.44h0M432.6 728.46h0M437.86 718.1h0M430.68 727.66h0M429.13 728.14h0M427.63 731.73h0M429.9 722.34h0M429.37 721.17h0M430.62 729.12h0M425.98 732.49h0M436.66 708.71h0M427.31 730.38h0M430.84 725.95h0M435.64 720.36h0M428.74 728.56h0M422.99 734.22h0M430.3 731.98h0M433.06 726.23h0M433.25 719.64h0M435.91 711.4h0M427.9 729.99h0M433.91 718.34h0M429.59 731.67h0M433.95 718.4h0M432.6 729.05h0M436 720.53h0M429.16 731.68h0M427.65 721.85h0M434.67 718.15h0M435.12 730.89h0M429.54 724.45h0M431.94 727.22h0M433.12 720.63h0M426.55 731.32h0M425.85 730.63h0M429.58 725.82h0M429.01 724.97h0M427.75 731.88h0M432.47 729.77h0M428.56 732.54h0M427.59 725.1h0M433.39 721.45h0M431.75 719.01h0M436.27 714.9h0M428.65 734.59h0M426.56 727.23h0M430.1 731.85h0M430.74 723.03h0M433.37 731.65h0M437.71 715.44h0M427.41 727.58h0M433.56 730.56h0M431.5 722.78h0M427.5 734.67h0M428.18 732.16h0M435.56 722.31h0M430.42 724.9h0M435.73 726.55h0M428.64 722.19h0M436.06 715.98h0M440.16 702.2h0M429.82 726.52h0M430.57 723.04h0M421.84 734.15h0M429.22 726.5h0M434.04 732.33h0M435.75 721.98h0M430 729.89h0M429.69 727.41h0M434.46 721.8h0M432.06 724.3h0M424.74 735.15h0M431.09 723.24h0M429.3 731.81h0M426.45 731.71h0M432.61 719.88h0M436.31 717.12h0M435.88 721.93h0M425.84 734.41h0M433.41 728.2h0M434.52 728.21h0M429.09 729.68h0M433.29 726.56h0M429.2 725.9h0M426.53 726.95h0M436.32 718.51h0M432.73 723.61h0M428.04 729.84h0M431.37 719.95h0M432.15 733.1h0M436.15 716.03h0M432.83 722.82h0M434.03 716.16h0M432.18 726.15h0M434.52 716.27h0M430.35 724.13h0M427.32 729.91h0M433.12 726.56h0M427.33 730.21h0M430.42 729.27h0M429.97 720.23h0M429.54 722.79h0M430.68 720.43h0M425.92 732.69h0M428.3 725.58h0M431.77 724.94h0M431.67 725.92h0M431.7 719.61h0M430.74 726.16h0M426.85 730.59h0M429.71 729.27h0M432.9 724.5h0M430.36 731.54h0M431.13 723.01h0M432.6 727.17h0M433.7 724.04h0M433.75 726.67h0M438.43 711.9h0M425.92 728.56h0M436.36 719.96h0M433.02 730.23h0M429.2 726.1h0M431.5 725.97h0M431.87 726.28h0M430.63 730.64h0M428.82 731.67h0M426.63 725.74h0M433.4 724.3h0M422.66 731.44h0M426.95 729.62h0M431.09 725.45h0M437.06 716.17h0M430.42 728.07h0M427.82 732.2h0M432.24 724.3h0M431.97 719.29h0M431.4 724.04h0M431.58 726.44h0M430.46 728.28h0M433.06 727.48h0M431.17 727.26h0M439.91 709.63h0M434.8 723.91h0M429.47 733.61h0M434.03 721.68h0M435.49 720.55h0M432.83 717.66h0M430.82 722.78h0M434.77 718.13h0M427.22 734.92h0M430.11 733.85h0M424.76 726.19h0M432.02 729.82h0M430.31 723.37h0M434.03 722.51h0M437.21 717.4h0M430.07 722.96h0M432.33 724.63h0M431.81 726.54h0M428.62 734.63h0M431.65 726.5h0M429.83 726.53h0M433.35 725.32h0M430.61 728.65h0M429.51 731.68h0M427.91 724.77h0M432.17 717.61h0M428.02 724.33h0M421.92 733.31h0M426.61 726.03h0M434.4 729.42h0M430.47 729.16h0M433.01 722.75h0M433.91 728.53h0M431.38 727.1h0M428.19 724.16h0M431.87 724.15h0M434.28 722.64h0M431.04 713.96h0M428.08 729.38h0M429.22 732.3h0M430.89 726.85h0M423.84 735.94h0M429.58 726.17h0M428.76 730.07h0M427.56 726.94h0M434.12 714.58h0M434.06 722.54h0M432.32 719.27h0M428.88 733.2h0M426.17 722.09h0M429.05 728.48h0M429.79 722.5h0M440.58 709.77h0M435.21 717.96h0M430.2 730.26h0M431.99 727.63h0M427.41 731.59h0M429.1 725.4h0M430.87 729.81h0M435.93 713.36h0M430.61 719.64h0M430.22 729.53h0M430.15 721.38h0M432.88 722.42h0M436.76 718.57h0M431.49 722.22h0M429.6 723.62h0M424.18 729.74h0M424.11 733.43h0M430.73 726.98h0M426.66 734.89h0M434.07 724.51h0M431.01 727.06h0M431.8 729.61h0M426.79 736.66h0M428.67 718.04h0M426.03 728.24h0M424.71 737.34h0M430.58 733.04h0M426.72 728.53h0M431.46 727.17h0M434.29 721.39h0M424.55 735.16h0M428.31 726.6h0M432.14 721.05h0M429.68 726.35h0M427.45 724.46h0M435.55 711.98h0M424.57 729.22h0M427.34 725.44h0M434.41 725.35h0M431.5 721.84h0M433.99 717.79h0M430.73 726.65h0M430.3 729.81h0M423.11 732.52h0M432.54 717.71h0M430.45 728.93h0M426.67 728.15h0M428 726.62h0M431.3 722.26h0M431.72 728.75h0M422.84 734.86h0M435.71 722.81h0M429.38 724.98h0M435.47 718.8h0M429.57 717.77h0M428 726.09h0M428.85 734.03h0M431.76 721.06h0M433.12 729.31h0M432.35 721.89h0M432.45 723.07h0M425.89 734h0M432.95 725.07h0M425.41 733.3h0M425.58 728.58h0M434.95 719.57h0M429.56 715.53h0M432.5 733.41h0M422.49 733.62h0M434.94 726.43h0M430.4 721.14h0M433.26 723.09h0M432.37 724.96h0M435.77 722.06h0M437.12 718.43h0M426.09 725.37h0M428.9 721.2h0M434.72 710.24h0M421.16 736.45h0M432.55 724.03h0M433.26 722.33h0M430.31 732.19h0M425.29 729.29h0M434.57 720.9h0M427.44 732.12h0M435.84 720.52h0M430.13 734.4h0M431.57 723.65h0M427.4 723.91h0M431.49 727.63h0M428.35 732.47h0M425.12 725.09h0M430.29 730.83h0M426.27 736.46h0M428.8 722.79h0M432.05 728.81h0M430.58 720.55h0M434.48 719.95h0M434.55 726.97h0M433.72 721.84h0M435.07 720.64h0M434.19 717.83h0M434.3 721.51h0M430.69 725.85h0M428.9 724.6h0M433.21 721.27h0M428.59 732.76h0M429.75 728.34h0M438.5 725.41h0M428.6 733.62h0M433.81 722.01h0M434.13 716.06h0M429.79 728.37h0M429.3 736.31h0M428.4 734.91h0M432.36 717.54h0M429.8 727.17h0M436.39 715.23h0M429.24 717.42h0M426.17 723.48h0M437.1 720.74h0M432.8 721.54h0M429.6 731.23h0M428.77 731.71h0M429.01 727.45h0M434.62 723.63h0M434.4 720.84h0M432.82 713.88h0M431.41 725.97h0M429.16 715.92h0M428.77 728.8h0M436.54 727.25h0M431.26 724.56h0M434.29 724.4h0M434.13 729.08h0M430.1 735.47h0M435.14 722.58h0M434.78 715.76h0M432.61 723.75h0M427.27 729.41h0M430.45 732.19h0M434.01 727.04h0M433.39 728.17h0M429.39 726.07h0M426.64 736.69h0M436.07 714.92h0M429.08 733.65h0M424.15 734.08h0M435.01 719.28h0M434.17 720.09h0M430.85 727.16h0M432.26 729.42h0M422.67 732.76h0M430.37 732.72h0M423.91 727.42h0M437.01 706.5h0M431.55 728.07h0M431.49 723.61h0M427.42 737h0M427.51 732.49h0M432.13 720.83h0M424.15 737.41h0M434.22 722.94h0M427.09 734.81h0M434.11 725.36h0M432.34 723.72h0M430.98 728.7h0M432.69 720.96h0M433.96 729.85h0M428.87 725.69h0M429.93 720.5h0M429.72 734.28h0M432.67 726.86h0M431.33 720.34h0M431.4 722.51h0M432 725.05h0M427.6 725.43h0M431.72 724.25h0M429.93 721.65h0M430.9 724.68h0M428.94 728.74h0M426.94 726.45h0M428.15 729.31h0M431.81 722.99h0M436.3 717.55h0M432.19 724.35h0M427.49 735.87h0M432.16 716.92h0M436.04 718.19h0M430.66 723.9h0M429.08 725.26h0M430.87 726.36h0M428.2 724.55h0M432 719.47h0M433.29 724.2h0M435.78 730.03h0M432.11 725.83h0M430.83 728.15h0M428.59 735.09h0M428.57 728.09h0M435.07 722.16h0M427.24 727.94h0M433.67 723.63h0M427.26 734.46h0M432.12 718.59h0M427.13 728.9h0M427.71 721.59h0M431.48 727.53h0M432.81 727.53h0M431.42 721.68h0M425.49 731.65h0M431.9 722.88h0M429.06 724.53h0M436.1 719.59h0M430.45 720.17h0M440.22 710.16h0M429.85 734.22h0M428.65 726.25h0M429.71 731.67h0M432.17 724.42h0M427.85 726.57h0M430.92 724.3h0M431.59 728.14h0M434.27 714.57h0M431.93 719.19h0M434.69 721.39h0M431.44 726.21h0M427.8 730.9h0M435.29 720.79h0M435.04 710.55h0M429.68 729.32h0M429.84 725.31h0M429.37 728.8h0M434.25 717.83h0M429.33 731.4h0M429.67 730.59h0M429.93 734.11h0M432.08 720.62h0M429.52 721.99h0M432.02 725.05h0M432.9 718.88h0M426.47 732.64h0M433.49 730.19h0M433.27 727.65h0M427.87 724.32h0M433.28 723.75h0M425.67 728.27h0M443.78 709.98h0M433.04 723.98h0M434.86 720.7h0M423.43 734.37h0M436.23 722.23h0M435.74 720.13h0M432.94 727.24h0M436.46 716.71h0M437.14 719.31h0M431.4 731.97h0M426.55 730.22h0M431.75 714.11h0M432.31 728.31h0M431.07 723.28h0M429.27 732.73h0M432.15 722.68h0M424.79 731.03h0M430.68 726.19h0M432.5 720.51h0M430.71 719.1h0M427.71 728.08h0M427.68 725.88h0M426.73 727.01h0M429.99 724.5h0M430.66 726.53h0M428.25 721.6h0M430.67 724.91h0M426.93 733.33h0M433.31 723.41h0M435.78 713.07h0M435.54 727.2h0M427.25 729.19h0M428.18 728.55h0M431.06 726.49h0M426.1 729.91h0M427.92 725.31h0M429.27 731.76h0M428.31 725.8h0M424.5 734.38h0M427.78 736.22h0M433.6 721.73h0M430.6 723.69h0M431.41 725.2h0M429.85 725.4h0M428.38 733.37h0M429.41 722.63h0M430.07 727.64h0M428.43 721.33h0M423.73 733.82h0M424.86 733.06h0M430.65 719.6h0M437.5 712.8h0M432.67 721.72h0M434.11 721.05h0M434.4 721.63h0M433.43 722.62h0M433.97 719.21h0M432.88 731.09h0M430.33 729.66h0M435.38 712.1h0M428.53 727.26h0M429.61 732.79h0M430.52 727.62h0M427.03 737.58h0M424.46 728.86h0M425.17 729.21h0M431.59 714.35h0M429.31 723.33h0M425.62 730.15h0M431.8 717.34h0M429.52 730.48h0M431.3 729.25h0M425.1 729.31h0M434.77 724.47h0M430.45 721.97h0M435.9 719.49h0M430.71 729.04h0M430.98 726.5h0M434.6 722.93h0M431.21 725.69h0M430.35 722.44h0M431.44 723.6h0M431.22 725.84h0M435.67 718.3h0M428.32 724.7h0M429.47 722.75h0M432.78 717.59h0M428.72 730h0M429.06 733.09h0M430.24 723.42h0M433.38 731.4h0M435.34 719.32h0M434.99 725.83h0M429.14 728.39h0M428.08 726h0M432.41 733.65h0M429.3 724.3h0M429.07 727.22h0M429.47 728.88h0M422.66 733.78h0M429.74 727.23h0M427.27 733.55h0" fill="none" stroke="#5568E4" stroke-width="0.8" stroke-linecap="round" stroke-opacity="0.6"/>
<path d="M430.04 728.77h0M432.11 727.83h0M434.54 720.55h0M432.17 726.63h0M432.96 723.29h0M431.77 722.55h0M433.15 723.13h0M431.38 724.27h0M430.95 728.3h0M428.27 727.58h0M435.89 719.67h0M431.47 730.39h0M427.83 735.38h0M432.56 723.34h0M431.65 727.52h0M430.16 723.12h0M430.97 729.96h0M430.59 722.12h0M428.68 732.82h0M428.2 729.18h0M430.22 728.52h0M428.17 735.36h0M431.55 728.31h0M427.38 730.45h0M433.32 724.66h0M430.28 726.13h0M435.09 721.06h0M431.09 724.65h0M434.35 721.15h0M432.42 728.62h0M433.34 721.49h0M432.96 724.59h0M428.2 727.29h0M430.73 719.87h0M425.86 731.69h0M433.41 724.65h0M431.61 729.77h0M436.12 719.94h0M430.38 732.53h0M433.96 715.57h0M429.72 733.96h0M431.85 723.81h0M428.21 725.19h0M429.57 729.87h0M433.2 724.68h0M431.99 721.73h0M432.89 727.39h0M429.07 732.33h0M429.58 729.93h0M435.07 718.34h0M429 727.59h0M428.15 732.17h0M426.4 735.89h0M429.78 724.92h0M431.17 730.31h0M436.39 722.07h0M433.6 721.33h0M432.35 727.86h0M432.49 723.25h0M434.15 718.17h0M432.91 726.06h0M431.97 724.01h0M437.12 723.43h0M431.33 727.98h0M431.99 724.33h0M434.03 718.74h0M432.72 718.02h0M429.93 724.97h0M432.67 724.94h0M432.34 723.8h0M428.56 726.39h0M432.6 722.39h0M430.61 719.92h0M427.85 726.01h0M431.93 720.82h0M430.22 731.2h0M431.11 726.64h0M432.4 727.29h0M431.84 725.05h0M432.34 726.8h0M432.56 720.95h0M430.3 721.33h0M428.55 729.2h0M430.29 729.67h0M425.86 731.07h0M429.95 724.68h0M431.13 725.92h0M428.98 728.75h0M432.55 722.39h0M432.04 726.26h0M427.64 728.47h0M432.66 728.76h0M435.45 724.97h0M434.21 722.39h0M427.43 727.16h0M426.99 735.45h0M426.92 730.19h0M432.42 723.86h0M428.75 731.93h0M435 720.7h0M430.97 729.78h0M426.58 734.57h0M431.88 728.91h0M427.07 730.77h0M431.36 728.12h0M428.51 732.4h0M429.47 727.39h0M429.04 731.97h0M431.81 725.79h0M431.03 725.3h0M429.13 729.98h0M432.61 722.79h0M433.23 724.39h0M431.15 724.49h0M430.9 731.22h0M430.28 726.75h0M432.29 726.28h0M431.47 721.88h0M432.49 727.25h0M429.74 728.8h0M427.02 728.82h0M428.6 731.88h0M427.54 723h0M430.03 727.1h0M427.76 732.83h0M431.4 730.47h0M430.53 731.14h0M427 730.59h0M432.5 719.37h0M427.63 726.92h0M433.3 726.4h0M429.9 727.2h0M429.71 725.61h0M428.45 731.74h0M427.56 726.36h0M426.87 737.03h0M429.08 731.99h0M432.5 722.17h0M425.83 727.03h0M435.19 720.06h0M427.75 728.74h0M428.75 722.65h0M433.66 723.69h0M426.85 730.72h0M433.57 718h0M430.64 725.19h0M428.37 735.84h0M433.11 718.64h0M431.41 731.13h0M427.41 732.57h0M425.78 731.01h0M425.53 727.06h0M428.53 731.5h0M427.69 728.64h0M436.86 715.84h0M431.49 729.18h0M432.33 723.48h0M431.71 722.67h0M432.44 729.91h0M433.3 726.88h0M425.5 734.33h0M429.23 730.28h0M432.19 727.11h0M431.82 723.92h0M432.94 724.36h0M427.62 723.29h0M430.82 728.71h0M432.18 728.86h0M429.91 728.49h0M429.04 729.66h0M435.15 722.27h0M433.55 722.82h0M429.09 724.76h0M431.05 722.99h0M431.21 724.86h0M431.46 721.99h0M432.38 722.71h0M433.81 718.96h0M427.64 725.58h0M432.58 722.36h0M427.23 736.21h0M431.27 723.83h0M433.19 720.4h0M431.13 727.11h0M429.46 731.49h0M429.53 730.11h0M432.39 721.08h0M432.12 730.12h0M432.53 726.77h0M432.69 723.87h0M433.56 719.88h0M427.47 732.73h0M427.96 728.03h0M430.7 728.2h0M431.95 724.01h0M430.69 726.79h0M428.69 727.5h0M432.34 726.4h0M429.47 729.32h0M430.74 722.44h0M431.85 724.59h0M431.52 721.03h0M432.39 729.11h0M435.79 717.53h0M432.64 719.64h0M433.33 721.9h0M430.39 722.25h0M432.29 725.85h0M433.8 721.47h0M433.27 724.84h0M432.16 717.58h0M427.42 734.17h0M436.91 720.16h0M430.98 722.15h0M431.21 722.95h0M432.39 722.16h0M432.84 717.93h0M432.76 719.07h0M432.83 723.17h0M425.48 730.45h0M430.16 726.56h0M430.92 729.12h0M432.47 725.11h0M428.71 730.48h0M432.19 727.42h0M432.67 720.13h0M427.19 724.45h0M435.5 717.34h0M432.49 723.99h0M427.95 725.53h0M427.9 729.53h0M428.79 726.3h0M432.33 725.57h0M431.5 725.39h0M434.36 715.11h0M430.92 729.5h0M432.87 728.82h0M429.62 728.98h0M431.85 717.37h0M433.44 721.62h0M433.53 726.01h0M430.76 729.06h0M431.95 729.11h0M428.44 731.41h0M428.22 727.64h0M432.29 721.36h0M428.49 721.93h0M427.41 729.91h0M429.18 723.37h0M433.06 725.25h0M431.3 725.81h0M428.81 727.17h0M431.15 726.39h0M434.11 719.67h0M430.76 729.82h0M425.75 729.26h0M429.31 726.69h0M432.01 723.3h0M427.17 731.39h0M433.03 729.84h0M426.78 730.98h0M435.53 721.71h0M432.28 728.6h0M429.27 725.91h0M432.03 727.21h0M433.41 719.5h0M428.62 732.08h0M428.9 727.71h0M432.01 724.42h0M427.38 731.05h0M433.27 719.83h0M430.67 716.53h0M428.73 730.95h0M429.16 730.61h0M428.91 724.91h0M437.14 719.32h0M427.07 733.42h0M427.62 731.69h0M429.56 728.02h0M434.89 722.04h0M430.85 727.89h0M429.74 722.13h0M429.42 725.12h0M435.06 721.91h0M433.73 725.78h0M429.08 726.86h0M433.52 720.17h0M429.44 723.78h0M432.13 722.91h0M428.87 726.03h0M428.66 729.27h0M433.08 726.38h0M425.2 732.98h0M427.79 729.92h0M427.35 729.11h0M430.15 729.48h0M428.56 727.41h0M432.22 723.61h0M430.72 731.38h0M427.98 728.44h0M430.24 724h0M430.92 731.62h0M428.39 727.58h0M430.92 725.29h0M426.22 734.59h0M431.04 723.74h0M429.86 723.42h0M431.89 722.25h0M427.38 728.66h0M432.54 722.05h0M430.52 728.23h0M429.94 726.65h0" fill="none" stroke="#4A7BEA" stroke-width="0.8" stroke-linecap="round" stroke-opacity="1"/>
<path d="M430.76 724.88h0M434.75 724.42h0M428.34 731.77h0M430.89 727.91h0M430.37 733.68h0M434.28 724.68h0M431.28 721.96h0M432.43 727.56h0M431.57 722.13h0M432.74 726.04h0M432.28 721.75h0M432.01 725.16h0M430.22 726.79h0M432.24 722.99h0M432.07 726.98h0M433.15 722.69h0M429.32 727.1h0M428.53 729.43h0M429.8 724.49h0M428.44 728.46h0M430.63 725.33h0M434.55 721.86h0M430.77 725.93h0M431.41 722.19h0M430.81 722.39h0M430.68 727.54h0M429.2 724.91h0M429.82 728.87h0M430.57 732.22h0M429.99 728.5h0M434.6 716.93h0M431.92 725.53h0M429.48 726.11h0M428.87 731.29h0M432.05 727.53h0M431.88 725.88h0M428.96 729.41h0M431.05 724.57h0M431.34 723.76h0M430.87 727.27h0M432.1 731.28h0M430.66 731.03h0M432.79 721.02h0M432.55 725.29h0M432.12 725.29h0M430.95 727.48h0M428.76 727.36h0M431.37 727.23h0M431.7 725.37h0M430.43 727.49h0M429.55 728.66h0M430.06 725.44h0M430.81 720.28h0M431.4 723.89h0M431.74 722.57h0M431.18 723.05h0M429.47 728.58h0M429.76 725.56h0M431.32 721.79h0M430.59 727.01h0M431.81 727.13h0M430.57 729.7h0M432.5 722.5h0M431.86 719h0M428.32 727.37h0M423.68 735.08h0M429.97 724.73h0M427.38 734.09h0M428.41 730.22h0M431.63 728.64h0M427.47 734.22h0M435.71 715.16h0M431.11 725.21h0M432.47 723.7h0M430.37 723.65h0M431.3 726.5h0M431.4 726.47h0M433.81 723.47h0M431.77 725.79h0M429.81 727.29h0M430.42 723.15h0M431.22 721.79h0M429.75 726.11h0M430.05 729.3h0M429.86 732.61h0M429.18 732.03h0M430.03 726.98h0M432.75 725.79h0M430.25 725.25h0M431.93 726.69h0M429.62 729.68h0M431.88 721.84h0M431.61 727.2h0M429.89 728.15h0M430.64 727.26h0M427.22 729.04h0M431.48 722.19h0M430.37 729.82h0M429.69 728.03h0M428.78 729.81h0M432.5 725.56h0M430.47 723.12h0M431.03 727.7h0M428.45 728.6h0M431.55 727.87h0M429.97 730.48h0M431.06 723.54h0M428.61 730.18h0M429.5 727.1h0M433.48 727.22h0M433.55 723.75h0M432.03 727.04h0M430.02 728.65h0M435.06 723.63h0M431.75 724.48h0M429.59 725.93h0M433.55 725.1h0M431.71 723.91h0M429.28 726.59h0M432.77 721.72h0M431.47 721.87h0M432.8 724.18h0M429.92 726.44h0M436.51 718.38h0M431.93 721.59h0M433.61 721.76h0M433.23 720.36h0M429.24 726.43h0M426.58 730.44h0M430.22 727.51h0M435.28 722.2h0M427.31 726.99h0M431.65 725.46h0M429.05 727.13h0M429.95 728.63h0M429.01 724.83h0M429.35 726.19h0M429.39 729.55h0M429.74 729.17h0M427.66 734.79h0M430.46 725.37h0M427.61 728.3h0M431.07 730.99h0M431.16 724.95h0M428.98 728.14h0M429.28 730.42h0M430.86 722.66h0M431.09 724.03h0M430.12 724.75h0M433.79 724.58h0M429.48 728.12h0M431.31 722.8h0M425.84 729.3h0M431.22 728.7h0M429.37 728.68h0M426.41 734.34h0M429.57 726.66h0M428.51 727.41h0M430.57 730.12h0M430.39 730.94h0M430.1 731.53h0M431.21 727.1h0M430.96 727.26h0M431.55 717.27h0M430.28 728.52h0M431.4 720.75h0M431.83 726.54h0M430.02 727.97h0M432.29 725.89h0M431.84 725.04h0M429.21 728.15h0M432.55 718.24h0M429.42 727.12h0M429.83 725.55h0M430.98 723.42h0M428.12 727.38h0M428.23 727.01h0M430.89 727.49h0M430.42 732.82h0M432.19 723.67h0M431.38 728.02h0M430.91 724.57h0M431.15 725.76h0M431.1 729.75h0M429.25 730.99h0M429.32 729.29h0M430.63 727.08h0M432.53 720.81h0M432.06 724.57h0M429.82 724.78h0M428.85 725.39h0M434.18 723.19h0M431.64 725.92h0M428.63 725.36h0M431.4 727.74h0M429.72 726.05h0M427.7 736.46h0M435.24 721.65h0M432.05 716.54h0M431.6 726.48h0M430.24 728.2h0M431.82 722.06h0M430.61 723.59h0M427.14 734.49h0M432.13 724.78h0M430.81 722.92h0M428.07 722.4h0M429.51 724.88h0M429.39 725.53h0M432.06 726.08h0M431.76 722.3h0M433.2 721.69h0M432.8 721.52h0M429.24 729.88h0M428.24 728.8h0M427.8 733.43h0M431.44 721.23h0M428.62 726.2h0M432.63 725.52h0M431.47 726.78h0M431.56 723.8h0M429.9 722.81h0M430.67 726.87h0M433.23 724.76h0M429.4 726.52h0M429.68 727.63h0M427.7 728.62h0M429.73 724.68h0M430.68 726.38h0M431.82 727.07h0M431.52 725.12h0M432.5 721.14h0M428.04 730.59h0M431.02 722.47h0M429.99 729.4h0M433.87 717.87h0M434.12 723.43h0M429.13 727.73h0M429.53 726.72h0M429.27 725.66h0M430.17 727.08h0M432.18 718.66h0M429.92 725.58h0M430.11 726.23h0M429.19 728.99h0M429.77 728.97h0M432.76 723.24h0M431.59 726.36h0M430.95 727.27h0M435.18 717.53h0M434.57 719.98h0M430.43 727.8h0M429.81 730.02h0M433.03 722.52h0M432.09 723.43h0M427.95 726.79h0M432.52 725.19h0M431.69 723.33h0M432.21 724.62h0M430.91 723.82h0M426.69 729.11h0M429.56 727.55h0M429.62 729.18h0M428.98 730.84h0M432.77 721.07h0M428 732.19h0M429.8 728.36h0M429.43 727.11h0M432.26 725.92h0M430.45 727.06h0M430.65 732.62h0M429.32 729.34h0M429.08 731.36h0M429.27 729.57h0M429.31 728.33h0M429.06 727.14h0M429.39 726.59h0M429.59 727.35h0M429.21 730.1h0M431.62 724.51h0M428.85 731.89h0M429.81 722.87h0M429.3 721.95h0M431.71 725.84h0M434.05 723.11h0M432.21 725.55h0" fill="none" stroke="#37A9F2" stroke-width="0.9" stroke-linecap="round" stroke-opacity="1"/>
<path d="M432.84 724.26h0M431.36 726.07h0M429.32 728.15h0M431.95 724.12h0M429.72 728.25h0M429.36 729.16h0M430.41 724.26h0M430.84 726.51h0M430.65 726.6h0M429.73 727.24h0M429.66 725.77h0M429.77 726.08h0M431.02 727.92h0M430.14 726.82h0M430.89 724.68h0M430.24 727.27h0M430.63 725.01h0M429.6 725.85h0M429.72 728.38h0M430.36 727.45h0M430.05 724.48h0M431.02 725.79h0M430.54 726.9h0M430.37 727.72h0M431.89 726.49h0M428.67 729.23h0M431.59 725.88h0M429.16 728.05h0M430.53 727.25h0M430.57 728.07h0M431.69 723.72h0M430.67 724h0M430.3 728.14h0M430.59 724.48h0M430.63 727.18h0M430.24 726.14h0M431.19 726.52h0M429.6 726.79h0M431.42 723.99h0M429.37 729.74h0M432.05 725.02h0M431.43 724.67h0M431.25 725.83h0M432.17 723.57h0M430.18 729.12h0M430.77 725.95h0M431.03 726.85h0M430.93 726.3h0M431.31 726.49h0M430.13 728.28h0M431.13 725.38h0M432.83 724.19h0M431.29 727.01h0M431.43 727.94h0M431.39 724.05h0M431.72 724.99h0M429.79 726.5h0M431.24 726.78h0M431.73 724.71h0M430.62 725.21h0M430.43 727.23h0M430.02 726.34h0M430.5 728.68h0M430.94 726.5h0M429.28 727.6h0M431.63 724.81h0M431.02 724.48h0M430.64 727.02h0M431.32 727.07h0M431.31 723.86h0M431.44 724.45h0M431.65 724.9h0M430.78 726.65h0M432.88 723.24h0M430.93 725.4h0M433.45 722.44h0M431.55 725.68h0M431.28 726.2h0M431.75 724.41h0M430.62 726h0M430.42 727.11h0M429.94 724.79h0M430.94 724.5h0M432.28 724.83h0M432.41 723.75h0M431.5 727.82h0M431.47 727.22h0M430.26 727.45h0M430.04 728h0M431.94 725.29h0M429.47 728.68h0M430.93 727.75h0M431.77 725.85h0M431.92 726.47h0M431.48 725.89h0M431.58 725h0M430.17 727.33h0M432.81 723.99h0M430.99 726.81h0M430.31 729.11h0M429.5 725.71h0M430 727.59h0M430.54 726.79h0M429.18 727.07h0M431.46 723.21h0M429.13 727.66h0M431.28 727.08h0M432.9 724.67h0M430.3 727.24h0M431.76 723.83h0M432.25 725.93h0M429.48 727.59h0M430.91 724.98h0M431.38 726.92h0" fill="none" stroke="#4BE391" stroke-width="1" stroke-linecap="round" stroke-opacity="1"/>
<path d="M442.62 725.38h0M437.02 731.65h0M440.52 724.74h0M436.57 722.04h0M432.83 737.49h0M438.96 730.91h0M439.46 722.66h0M434.41 732.61h0M442.66 719.43h0M436.42 721.61h0M445.23 713.61h0M433.4 731.01h0M436.05 735.86h0M438.26 724.57h0M443.32 723.88h0M439.01 723.43h0M434.9 734.46h0M440.08 733.32h0M440.89 730.86h0M437.88 730.6h0M439.81 723.47h0M439.4 726.02h0M438.59 728.25h0M445.91 719.88h0M441.5 728.7h0M439 727.08h0M440 723.85h0M440.82 719.96h0M439.19 727.43h0M435.85 730.31h0M441.66 724.94h0M436.32 727.98h0M436.54 730.97h0M437.67 728.93h0M441.98 712.96h0M434.92 733.46h0M436.96 736.74h0M433.48 735.78h0M436.74 733.73h0M437.13 727.43h0M438.7 730.36h0M443.71 725.07h0M439.82 732.47h0M445.69 713.39h0M443.06 720.78h0M437.98 724.55h0M441.82 722.2h0M435.95 724.56h0M441.44 722.09h0M439.71 722.17h0M445.18 716.59h0M437.96 723.39h0M434.14 729.6h0M438.44 724.56h0M433.56 727.34h0M437.14 724.36h0M443.28 715.21h0M439.23 721.04h0M443.01 721.84h0M441.48 723.76h0M434.8 733.91h0M432.77 733.64h0M440.26 721.59h0M440.38 721.42h0M438.6 734.7h0M441.4 719.29h0M436.6 722.32h0M439.55 731.81h0M438.96 725.9h0M445.17 718.76h0M435.25 733.19h0M437.39 724.48h0M441.55 723.81h0M436.13 725.47h0M438.21 728.19h0M439.67 724.51h0M441.08 730.59h0M441.26 717.43h0M437.46 736.14h0M434.7 730.59h0M436.99 724.4h0M436.25 732.02h0M437.93 726.3h0M443.22 720.11h0M444.93 714.74h0M441.65 725.4h0M440.59 728.55h0M436.44 730.12h0M440.79 724.9h0M439.88 726.49h0M445.69 710.71h0M439.21 725.33h0M438.19 721.98h0M443.85 725.13h0M443.26 720.89h0M434.06 730.94h0M439.8 727.32h0M435.92 730.48h0M433.23 734.97h0M443.42 717.04h0M441.03 720.44h0M435.7 732.16h0M439.06 723.41h0M442.48 721.41h0M436.19 735.61h0M444.54 724.56h0M435.61 733.44h0M438.05 727.02h0M441.34 715.48h0M440.56 728.35h0M444.02 716.16h0M441.72 718.25h0M441.3 719.68h0M439.37 717.5h0M440.3 720.27h0M437.86 728.95h0M439.45 724.4h0M434.17 734.53h0M441.31 725.02h0M438.73 727.58h0M437.58 732.88h0M434.89 728.06h0M442.48 714.04h0M441.07 728.61h0M433.8 730.03h0M441.45 723.95h0M435.76 731.09h0M439.99 720.9h0M437.64 727.57h0M441.29 711.76h0M440.6 721.15h0M437.71 715.85h0M439.89 725.36h0M429.64 735.34h0M444.29 715.11h0M435.15 730.48h0M442.35 723.01h0M436.82 731.64h0M440.31 717.68h0M442.77 723.48h0M443.7 713.23h0M441.9 720.96h0M443.74 721.98h0M444.72 717.13h0M433.93 733.54h0M442.36 714.14h0M435.52 727.17h0M434.85 734.57h0M440.56 723h0M435.74 729.03h0M437.36 736.07h0M436.89 721.68h0M441.54 727.38h0M435.65 736.01h0M440.72 723.78h0M442.06 728.22h0M437.31 725.12h0M435.07 732.3h0M436.21 732.12h0M438.98 724.42h0M445.11 718.54h0M435.97 736.44h0M434.14 733.74h0M439.27 723.78h0M438.79 723.46h0M441.32 722.57h0M441.3 725.49h0M434.27 734.64h0M435.42 728.94h0M444.32 718.69h0M438.18 726.22h0M438.52 726.85h0M434.67 729.92h0M439.05 728.36h0M441.08 728.72h0M442.69 723.8h0M438.87 728.06h0M439.95 726.31h0M439.44 726.39h0M440.82 720.92h0M436.74 726.07h0M436.47 732.18h0M439.88 722.74h0M442.27 715.73h0M438.74 724.98h0M442.24 717.53h0M434.39 734.24h0M444.58 710.79h0M442.48 722.81h0M436.93 728.03h0M440.04 717.85h0M441.32 723.62h0M432.71 731.52h0M440.73 721.88h0M438.26 721.81h0M438.39 730.81h0M439.47 725.94h0M437.78 730.4h0M440.88 726.18h0M440.74 724.67h0M443.49 730h0M436.53 735.83h0M437.54 718.7h0M439.38 718.8h0M439.11 722.49h0M435.67 731.38h0M439.8 722.27h0M440.56 722.34h0M438.9 734.09h0M436.35 731.1h0M445.19 718.91h0M441.64 725.99h0M438.33 722.47h0M437.18 731.18h0M440.92 718.54h0M435.63 729.79h0M436.18 728.01h0M441.29 725.16h0M435.2 724.7h0M434.45 736.77h0M441.04 717.98h0M440.4 722.12h0M439.42 718.62h0M434.27 734.76h0M439.15 726.72h0M444.89 713.87h0M437.24 735.02h0M436.55 726.98h0M436.39 729.75h0M439.68 723.39h0M440.17 719.74h0M447.57 717.57h0M442.59 725.16h0M439.53 727.83h0M436.18 722.07h0M439.92 718.79h0M436.76 729.27h0M440.96 721.3h0M437.88 728.04h0M439.4 731.31h0M436.2 734.06h0M438.46 728.26h0M435.67 730.39h0M441.73 722.87h0M433.73 731.34h0M437.93 730.23h0M434.23 732.74h0M438.15 733.26h0M440.19 723.81h0M440.34 726.21h0M439.99 726.08h0M440.48 719.01h0M435.33 735.74h0M441.23 731.45h0M436.35 727.01h0M438.66 727.06h0M443.46 717.1h0M441.86 720.28h0M435.84 733.43h0M441.06 733.54h0M441.99 716.21h0M436.71 728.09h0M440.38 725.17h0M441.86 722.44h0M436.36 730.39h0M441.56 722.32h0M440.21 716.78h0M441.82 729.42h0M440.4 729.89h0M436.4 731.78h0M436.2 732.04h0M437.83 725.27h0M437.74 725.87h0M441.58 720.15h0M439.56 719.55h0M440.81 728.23h0M439.13 732.94h0M439.34 728.6h0M439.35 725.34h0M441.4 723.9h0M439.02 732.2h0M437.09 731.05h0M437.99 721.15h0M440.32 725.97h0M442.51 721.76h0M433.52 733.17h0M442.79 727.77h0M439.82 720.6h0M440.61 724.55h0M437.72 727.39h0M433.46 733.79h0M440.23 723.56h0M440.8 727.61h0M438.67 719.1h0M438.47 728.06h0M436.58 731.28h0M441.37 732.66h0M439.82 729.51h0M431.79 732.82h0M442.86 719.4h0M437.03 728.66h0M441.55 722.84h0M438.91 733.63h0M441.91 717.43h0M440.41 720.35h0M435.86 735.21h0M443.31 720.38h0M435.79 728.11h0M433.64 733.67h0M439.75 718.37h0M439.37 724.55h0M440.21 723.21h0M439.51 719.56h0M437.35 725.33h0M439.38 728.6h0M440.2 725.11h0M444.08 722.52h0M441.29 720.04h0M444.76 722.41h0M442.52 721.78h0M438.56 724.96h0M440.91 729.4h0M445.17 717.25h0M436.13 726.35h0M437.82 726.16h0M438.56 721.71h0M437.29 737.16h0M437.99 729.15h0M437.88 727.57h0M436.36 731.27h0M437.29 733.47h0M434.82 729.16h0M438.55 730.49h0M438.08 726.5h0M433.34 735.79h0M437.86 728.13h0M443.28 719.51h0M436.83 724.01h0M442.45 716.87h0M439.62 727.32h0M438.4 728.53h0M434.63 734.24h0M442.4 724.77h0M435.1 737.48h0M436.5 722.89h0M437.31 728.11h0M433.79 735.45h0M441.19 725.76h0M436.29 732.33h0M441.28 722.8h0M436.34 737.64h0M443.42 714.34h0M441.17 711.06h0M434.7 736.27h0M443.34 717.04h0M438.37 723.46h0M437.13 729.28h0M440.44 720.43h0M437.12 731.86h0M439.72 714.59h0M437.05 734.54h0M440.53 730.72h0M432.31 735.53h0M441.99 719.52h0M439.1 725.73h0M435.46 731.21h0M441.35 723.46h0M440.1 722.61h0M439.29 726.22h0M434.02 733.92h0M444.4 715.28h0M436.45 725.19h0M443.17 728.28h0M447.58 725.44h0M434.37 735.56h0M440.54 720.29h0M440.49 735.73h0M439.96 723.73h0M438.96 719.13h0M440.43 726.55h0M444.64 715.96h0M444.8 716.93h0M435.44 719.55h0M444.56 718.94h0M440.18 724.61h0M438.57 724.79h0M432.39 726.58h0M436.04 734.17h0M439.95 719.09h0M442.39 717h0M438.02 729.18h0M440.1 717.75h0M443.46 721.59h0M440.27 728.91h0M439.87 725.97h0M435.07 737.69h0M433.73 728.88h0M440.72 717.22h0M441.9 728.5h0M437.53 727.15h0M444.85 712.86h0M444.54 722.28h0M440.58 720.42h0M437.45 729.68h0" fill="none" stroke="#5568E4" stroke-width="0.8" stroke-linecap="round" stroke-opacity="0.6"/>
<path d="M442.82 720.06h0M436.93 729.36h0M439.33 726.76h0M437.73 726.45h0M442.51 719.78h0M438.89 728.54h0M436.55 730.86h0M436.43 731.93h0M436.99 730.45h0M440.33 726.61h0M437.03 732.02h0M438.72 731.2h0M439.23 724.79h0M441.35 720.43h0M438.29 731.17h0M437.43 727.31h0M441.66 721.74h0M440.45 722.32h0M439.96 722.09h0M435.79 729.31h0M437.05 725.78h0M435.66 729.19h0M441.18 728.38h0M436.03 730.83h0M436.63 729.6h0M441.65 727.73h0M440.16 726.69h0M436.04 731.2h0M440.34 724.49h0M438.01 726.68h0M437.82 729.34h0M444.59 717.03h0M437.27 732.01h0M439.88 725h0M434.22 737.2h0M439.78 722.89h0M437.28 730.28h0M438.49 725.75h0M438.98 728.51h0M435.81 726.77h0M437.53 731.04h0M439.01 725.34h0M437.64 726.39h0M439.21 724.14h0M439.21 720.53h0M438.92 728.67h0M437.75 728.23h0M436.74 730.35h0M437.66 728.02h0M437.15 728.12h0M435.14 733.1h0M440.36 725.65h0M436.1 727.94h0M438.74 726.29h0M438.08 730.64h0M439.17 722.93h0M438.77 728.69h0M437.48 731.13h0M441.32 721.14h0M439.16 723.42h0M435.91 736.15h0M442.04 716.08h0M437.77 726.94h0M438.43 730.15h0M437.49 723.87h0M438.36 725.87h0M443.39 726.76h0M438.75 730.96h0M436.95 733.85h0M441.9 719.24h0M439.85 721.06h0M438.53 731.88h0M441.45 726.22h0M437.7 724.75h0M436.69 726.33h0M436.34 724.95h0M436.05 725.5h0M437.91 727.42h0M442.46 725.29h0M442.99 720.21h0M437.72 727.41h0M439.42 721.38h0M440.08 726.82h0M435.93 729.18h0M434.34 734.2h0M439.41 731.72h0M441.45 718.6h0M437.74 730.39h0M436.8 731.63h0M437.75 727.95h0M438.93 727.93h0M440.46 724.79h0M434.98 734.51h0M437.86 734.44h0M438.77 729.56h0M442.17 723.85h0M433.26 735.53h0M435.62 734.71h0M443.23 723h0M440 724.79h0M439.25 725.5h0M443.03 713.21h0M440.83 723.18h0M436.62 722.78h0M434.15 736.21h0M436.94 734.08h0M441.74 721.67h0M441.27 726.27h0M438.81 727.53h0M437.66 730.35h0M438.39 727.71h0M437.82 730.18h0M438.38 731.61h0M437.01 726.95h0M437.74 730.64h0M435.01 732.29h0M439.32 727.31h0M437.24 727.82h0M437.08 726.31h0M440.6 724.08h0M440.68 719.2h0M431.68 734.31h0M441.62 719.45h0M438.99 723.15h0M439.1 724.1h0M442.06 715.04h0M437.59 721.3h0M435.74 729.27h0M442.1 722.32h0M443.28 719.7h0M437.41 723.14h0M437.49 727.01h0M436.07 730.94h0M439.12 722.47h0M437.29 733.56h0M437.29 725.34h0M438.15 732.23h0M437.58 728.98h0M439.18 727.81h0M437.69 729.32h0M437.12 725.99h0M441.91 723.34h0M438.38 726.82h0M436.96 727.14h0M440.11 718.61h0M434.73 732.37h0M441.64 725.2h0M435.68 728.67h0M437.64 730.39h0M438.34 729.35h0M435.56 730.06h0M434.79 732.21h0M439.72 729.27h0M437.63 724.68h0M440.19 725.94h0M439.05 729.03h0M436.77 728.47h0M442.72 725.57h0M433.83 735.12h0M438.06 729.31h0M443.35 718.92h0M439.38 725.52h0M436.36 730.6h0M440.46 723.41h0M437.29 729.3h0M438.33 729.8h0M434.79 736.38h0M434.94 733.01h0M438.53 726.83h0M442.64 721.14h0M436.82 731.8h0M438.75 724.71h0M435.73 735.15h0M437.97 727.44h0M440.88 728.8h0M436.41 730.21h0M439.41 722.51h0M438.95 724.35h0M436.48 730.12h0M441.25 720.76h0M436.92 731.05h0M439.06 729.53h0M433.01 733.96h0M434.98 727.48h0M438.74 727.65h0M442.52 723.26h0M442.29 721.71h0M441.59 719.41h0M437.45 730.19h0M438.52 725.38h0M440.69 722.2h0M441.88 713.39h0M438.06 728.45h0M437.03 731.94h0M436.6 729.21h0" fill="none" stroke="#4A7BEA" stroke-width="0.8" stroke-linecap="round" stroke-opacity="1"/>
<path d="M437.53 732.6h0M438.23 726.26h0M438.17 728.06h0M438.4 727.69h0M437.13 729.01h0M439.5 723.72h0M440.92 725.14h0M438.09 730.5h0M437.53 727.3h0M438.16 728.14h0M438.75 727.76h0M437.2 730.72h0M439.69 726.83h0M441.74 719.82h0M438.75 725.2h0M440.51 722.22h0M437.5 729.79h0M436.32 728.29h0M438 726.01h0M438.76 725.52h0M437.12 723.98h0M439.46 725.47h0M436.59 728.76h0M438.91 726.85h0M440.8 718.43h0M438.81 726.19h0M437.61 726.9h0M438.44 729.18h0M437.43 727.61h0M438.95 726.89h0M440.11 724.26h0M437.21 727.36h0M440.7 720.83h0M439.13 723.93h0M436.57 731.83h0M437.68 728.3h0M437.01 730.31h0M437.2 730.76h0M436.86 731.35h0M438.8 728.07h0M440.63 722.08h0M439.78 728.95h0M438.07 726.3h0M438.99 727.86h0M439.6 724.93h0M440.14 719.8h0M434.57 732.11h0M440.43 723.7h0M439.42 724.8h0M441.73 720.3h0M435.06 732.23h0M441.45 722.53h0M435.57 732.12h0M438.68 727.57h0M437.24 728.83h0M439.42 726.39h0M440.67 723.96h0M438.31 726.82h0M440.96 725.75h0M439.83 727.54h0M440.97 725.64h0M437.95 728.27h0M438.76 730.03h0M439.12 727.26h0M438.51 727.75h0M439.33 725.85h0M439.44 729.55h0M439.03 724.57h0M436.81 726.9h0M439.37 725.01h0M436.01 728.48h0M438.33 727.12h0M438.36 724.04h0M438.16 727.86h0M438.78 726.89h0M436.63 730.94h0M441.48 722.93h0M438.29 728.71h0M437.41 729.11h0M439.38 726.97h0M438.34 726.71h0M439.14 727.25h0M436.52 729.05h0M438.18 728.88h0M441.67 720.33h0M438.06 727.99h0M435.81 730.46h0M441.48 725.91h0M440.08 725.92h0M436.53 734.81h0M436.77 732.24h0M437.72 727.35h0M437.51 730.59h0M438.71 728.4h0M442.77 723.41h0M439.02 725.48h0M439.7 724.4h0M437.7 726.59h0M437.48 730.44h0M440.29 723.66h0M440.52 728.15h0M437.39 728.67h0M438.46 724.69h0M436.18 730.06h0M437.88 727.22h0M438.91 723.36h0M437.27 726.33h0M441.41 727.34h0M436.27 727.4h0M439.11 728.06h0M439.68 718.46h0M437.9 727.56h0M439.3 728.54h0M439.77 724.45h0M435.21 733.26h0M435.91 728.89h0M441 726.21h0M439.44 727.01h0M437.54 728.23h0M440.62 722.5h0M440.72 723.38h0M440.4 724.56h0M439.09 724.42h0M441.12 726.09h0M439.32 723.99h0M437.88 727.1h0M439.55 725.06h0M435.94 731.24h0M439.4 726.32h0M438.97 728.16h0M438.56 730.7h0M438.35 730.97h0" fill="none" stroke="#37A9F2" stroke-width="0.9" stroke-linecap="round" stroke-opacity="1"/>
<path d="M437.2 728.62h0M436.81 730.04h0M438.47 728.52h0M438.96 727.02h0M438.58 729.02h0M438.85 725.88h0M438.59 728.03h0M437.87 728.5h0M439.4 725.14h0M438.54 728.46h0M437.47 730.61h0M439.64 726.48h0M438.87 727.63h0M439.07 726.24h0M438.7 727.75h0M438.27 727.6h0M438.82 727.96h0M437.79 728.91h0M439.06 726.82h0" fill="none" stroke="#4BE391" stroke-width="1" stroke-linecap="round" stroke-opacity="1"/>
<rect x="409.5" y="692.7" width="46.7" height="45.9" fill="none" stroke="#888" stroke-width="0.6"/>
<path d="M430.4 738.6 L441.6 707.4 L456.2 707.4" fill="none" stroke="#666" stroke-width="0.55"/>
<text x="411.6" y="702.6" font-size="10.5" fill="#111">G3P</text>
<text x="455.8" y="738.3" font-size="7.9" text-anchor="end" fill="#222">34.25</text>
<text x="407.9" y="708.9" font-size="5.4" text-anchor="end" fill="#333">1M</text>
<text x="408.1" y="727.6" font-size="5.4" text-anchor="end" fill="#333">500K</text>
<path d="M409.5 695.7h1M409.5 699.4h1M409.5 703.1h1M409.5 706.8h1M409.5 710.5h1M409.5 714.2h1M409.5 717.9h1M409.5 721.6h1M409.5 725.3h1M409.5 729h1M409.5 732.7h1M409.5 736.4h1" fill="none" stroke="#777" stroke-width="0.4"/>
<text x="420.3" y="745.7" font-size="6" text-anchor="middle" fill="#222">10</text>
<text x="424.7" y="742.9" font-size="4" text-anchor="middle" fill="#222">4</text>
<text x="437.8" y="745.7" font-size="6" text-anchor="middle" fill="#222">10</text>
<text x="442.2" y="742.9" font-size="4" text-anchor="middle" fill="#222">5</text>
<text x="454.3" y="745.7" font-size="6" text-anchor="middle" fill="#222">10</text>
<text x="458.7" y="742.9" font-size="4" text-anchor="middle" fill="#222">6</text>
<line x1="395.2" y1="699" x2="395.2" y2="748.6" stroke="#777" stroke-width="0.7"/>
<line x1="395.2" y1="748.6" x2="447.5" y2="748.6" stroke="#777" stroke-width="0.7"/>
<polygon points="395.2,692.6 397.89,699 392.51,699" fill="#222" stroke="none" stroke-width="0.5"/>
<polygon points="453,748.6 446.6,751.29 446.6,745.91" fill="#222" stroke="none" stroke-width="0.5"/>
<text x="393.6" y="725.7" font-size="10.4" text-anchor="middle" transform="rotate(-90 393.6 725.7)">SSC-A</text>
<text x="394.7" y="761.8" font-size="10.3">Annexin v</text>
<text x="440.6" y="757.6" font-size="9.5">+</text>
<text x="474.9" y="612.1" font-size="14" font-weight="bold" fill="#1a1212">m</text>
<rect x="542.3" y="665.1" width="17.3" height="92.8" fill="#9C9DA1"/>
<rect x="567.3" y="693.5" width="17.3" height="64.4" fill="#E79A47"/>
<rect x="610" y="724.1" width="17.3" height="33.8" fill="#9C9DA1"/>
<rect x="634.9" y="734.9" width="17.3" height="23" fill="#E79A47"/>
<line x1="550.95" y1="663.32" x2="550.95" y2="665.1" stroke="#222" stroke-width="0.6"/>
<line x1="546.25" y1="663.32" x2="555.65" y2="663.32" stroke="#222" stroke-width="0.6"/>
<circle cx="545.54" cy="666.16" r="1.3" fill="#111"/>
<circle cx="550.58" cy="663.54" r="1.3" fill="#111"/>
<circle cx="555.83" cy="665.51" r="1.3" fill="#111"/>
<line x1="575.95" y1="688.2" x2="575.95" y2="693.5" stroke="#222" stroke-width="0.6"/>
<line x1="571.25" y1="688.2" x2="580.65" y2="688.2" stroke="#222" stroke-width="0.6"/>
<circle cx="570.72" cy="689.15" r="1.3" fill="#111"/>
<circle cx="576.2" cy="691.34" r="1.3" fill="#111"/>
<circle cx="576.2" cy="699.66" r="1.3" fill="#111"/>
<line x1="618.65" y1="722.07" x2="618.65" y2="724.1" stroke="#222" stroke-width="0.6"/>
<line x1="613.95" y1="722.07" x2="623.35" y2="722.07" stroke="#222" stroke-width="0.6"/>
<circle cx="613.31" cy="725.17" r="1.3" fill="#111"/>
<circle cx="618.47" cy="722.07" r="1.3" fill="#111"/>
<circle cx="623.64" cy="724.55" r="1.3" fill="#111"/>
<line x1="643.55" y1="731.4" x2="643.55" y2="734.9" stroke="#222" stroke-width="0.6"/>
<line x1="638.85" y1="731.4" x2="648.25" y2="731.4" stroke="#222" stroke-width="0.6"/>
<circle cx="643.68" cy="737.98" r="1.3" fill="#111"/>
<circle cx="643.68" cy="733.02" r="1.3" fill="#111"/>
<circle cx="648.84" cy="732.4" r="1.3" fill="#111"/>
<line x1="533.5" y1="758.6" x2="533.5" y2="629.6" stroke="#b2b2b2" stroke-width="1.4"/>
<line x1="528.5" y1="630" x2="533.5" y2="630" stroke="#8a8a8a" stroke-width="0.7"/>
<text x="526.8" y="633.74" font-size="10.4" text-anchor="end">80</text>
<line x1="528.5" y1="661.98" x2="533.5" y2="661.98" stroke="#8a8a8a" stroke-width="0.7"/>
<text x="526.8" y="665.72" font-size="10.4" text-anchor="end">60</text>
<line x1="528.5" y1="693.95" x2="533.5" y2="693.95" stroke="#8a8a8a" stroke-width="0.7"/>
<text x="526.8" y="697.69" font-size="10.4" text-anchor="end">40</text>
<line x1="528.5" y1="725.92" x2="533.5" y2="725.92" stroke="#8a8a8a" stroke-width="0.7"/>
<text x="526.8" y="729.67" font-size="10.4" text-anchor="end">20</text>
<line x1="528.5" y1="757.9" x2="533.5" y2="757.9" stroke="#8a8a8a" stroke-width="0.7"/>
<text x="526.8" y="761.64" font-size="10.4" text-anchor="end">0</text>
<line x1="528" y1="757.9" x2="661.7" y2="757.9" stroke="#b2b2b2" stroke-width="1.4"/>
<line x1="563.3" y1="757.9" x2="563.3" y2="763.1" stroke="#555" stroke-width="0.7"/>
<line x1="631.3" y1="757.9" x2="631.3" y2="763.1" stroke="#555" stroke-width="0.7"/>
<rect x="587" y="630.8" width="13.6" height="6.9" fill="#9C9DA1" stroke="#444" stroke-width="0.6"/>
<rect x="587" y="644.3" width="13.6" height="6.9" fill="#E79A47" stroke="#444" stroke-width="0.6"/>
<text x="604.8" y="638" font-size="10.4">Ctrl</text>
<text x="604.8" y="651.4" font-size="10.4">G3P</text>
<line x1="546" y1="647.5" x2="573.4" y2="647.5" stroke="#8a8a8a" stroke-width="0.9"/>
<text x="559.55" y="648.7" font-size="11.8" text-anchor="middle" font-family="DejaVu Sans, Liberation Sans, sans-serif" font-weight="bold" fill="#111" letter-spacing="1.3">***</text>
<line x1="616.2" y1="715.9" x2="642.6" y2="715.9" stroke="#8a8a8a" stroke-width="0.9"/>
<text x="632.25" y="715.5" font-size="11.8" text-anchor="middle" font-family="DejaVu Sans, Liberation Sans, sans-serif" font-weight="bold" fill="#111" letter-spacing="1.3">**</text>
<text x="564" y="772.8" font-size="10.4" text-anchor="middle">GzmB</text>
<text x="632" y="773.3" font-size="10.4" text-anchor="middle">IFN-γ</text>
<text x="501.1" y="692.7" font-size="10.85" text-anchor="middle" transform="rotate(-90 501.1 692.7)">% of CD8<tspan font-size="9.77" dy="-3.25">+</tspan><tspan dy="3.25">T cells</tspan></text>
<text x="513.1" y="693" font-size="10.85" text-anchor="middle" transform="rotate(-90 513.1 693)">(Human CD8<tspan font-size="9.77" dy="-3.25">+</tspan><tspan dy="3.25">T cells)</tspan></text>
<text x="0.5" y="804.9" font-size="14" font-weight="bold" fill="#1a1212">n</text>
<rect x="73.4" y="852.2" width="23.7" height="99.2" fill="#9C9DA1"/>
<rect x="109.5" y="896.6" width="24.1" height="54.8" fill="#E79A47"/>
<line x1="61.3" y1="952.1" x2="61.3" y2="823.5" stroke="#b2b2b2" stroke-width="1.4"/>
<line x1="56.3" y1="823.9" x2="61.3" y2="823.9" stroke="#8a8a8a" stroke-width="0.7"/>
<text x="54.6" y="827.64" font-size="10.4" text-anchor="end">60</text>
<line x1="56.3" y1="845.15" x2="61.3" y2="845.15" stroke="#8a8a8a" stroke-width="0.7"/>
<text x="54.6" y="848.89" font-size="10.4" text-anchor="end">50</text>
<line x1="56.3" y1="866.4" x2="61.3" y2="866.4" stroke="#8a8a8a" stroke-width="0.7"/>
<text x="54.6" y="870.14" font-size="10.4" text-anchor="end">40</text>
<line x1="56.3" y1="887.65" x2="61.3" y2="887.65" stroke="#8a8a8a" stroke-width="0.7"/>
<text x="54.6" y="891.39" font-size="10.4" text-anchor="end">30</text>
<line x1="56.3" y1="908.9" x2="61.3" y2="908.9" stroke="#8a8a8a" stroke-width="0.7"/>
<text x="54.6" y="912.64" font-size="10.4" text-anchor="end">20</text>
<line x1="56.3" y1="930.15" x2="61.3" y2="930.15" stroke="#8a8a8a" stroke-width="0.7"/>
<text x="54.6" y="933.89" font-size="10.4" text-anchor="end">10</text>
<line x1="56.3" y1="951.4" x2="61.3" y2="951.4" stroke="#8a8a8a" stroke-width="0.7"/>
<text x="54.6" y="955.14" font-size="10.4" text-anchor="end">0</text>
<line x1="56.3" y1="951.4" x2="146.3" y2="951.4" stroke="#b2b2b2" stroke-width="1.4"/>
<line x1="85.4" y1="951.4" x2="85.4" y2="956.6" stroke="#555" stroke-width="0.7"/>
<line x1="121.5" y1="951.4" x2="121.5" y2="956.6" stroke="#555" stroke-width="0.7"/>
<line x1="85.4" y1="848" x2="85.4" y2="852.2" stroke="#222" stroke-width="0.6"/>
<line x1="79.5" y1="848" x2="91.3" y2="848" stroke="#222" stroke-width="0.6"/>
<line x1="121.5" y1="892.9" x2="121.5" y2="896.6" stroke="#222" stroke-width="0.6"/>
<line x1="115.6" y1="892.9" x2="127.4" y2="892.9" stroke="#222" stroke-width="0.6"/>
<circle cx="80.36" cy="854.59" r="1.4" fill="#111"/>
<circle cx="85.4" cy="848.24" r="1.4" fill="#111"/>
<circle cx="90.43" cy="853.28" r="1.4" fill="#111"/>
<circle cx="116.49" cy="898.82" r="1.4" fill="#111"/>
<circle cx="121.96" cy="892.69" r="1.4" fill="#111"/>
<circle cx="127" cy="897.07" r="1.4" fill="#111"/>
<line x1="82.1" y1="841.5" x2="123.1" y2="841.5" stroke="#8a8a8a" stroke-width="0.9"/>
<text x="104.85" y="840" font-size="11.8" text-anchor="middle" font-family="DejaVu Sans, Liberation Sans, sans-serif" font-weight="bold" fill="#111" letter-spacing="1.3">***</text>
<text x="85.3" y="966.3" font-size="10.4" text-anchor="middle">Ctrl</text>
<text x="122.5" y="966.3" font-size="10.4" text-anchor="middle">G3P</text>
<text x="22.6" y="888" font-size="9.6" text-anchor="middle" transform="rotate(-90 22.6 888)" letter-spacing="0.45" font-family="Liberation Sans, Noto Sans CJK SC, sans-serif">IFN-γ（ng/ml）</text>
<text x="38.7" y="887.4" font-size="10.85" text-anchor="middle" transform="rotate(-90 38.7 887.4)">(Human CD8<tspan font-size="9.77" dy="-3.25">+</tspan><tspan dy="3.25">T cells)</tspan></text>
<text x="149.9" y="806.4" font-size="14" font-weight="bold" fill="#1a1212">o</text>
<rect x="195.4" y="882" width="11.7" height="66.7" fill="#9C9DA1"/>
<rect x="212.2" y="905.6" width="11.7" height="43.1" fill="#E79A47"/>
<rect x="240.7" y="826.8" width="11.7" height="121.9" fill="#9C9DA1"/>
<rect x="257.8" y="887.4" width="11.7" height="61.3" fill="#E79A47"/>
<rect x="286" y="853.5" width="11.7" height="95.2" fill="#9C9DA1"/>
<rect x="302.9" y="892.3" width="11.7" height="56.4" fill="#E79A47"/>
<circle cx="196.89" cy="882.4" r="1.3" fill="#111"/>
<circle cx="200.84" cy="881.31" r="1.3" fill="#111"/>
<circle cx="205.21" cy="882.18" r="1.3" fill="#111"/>
<circle cx="213.97" cy="906.27" r="1.3" fill="#111"/>
<circle cx="218.35" cy="904.74" r="1.3" fill="#111"/>
<circle cx="222.73" cy="905.39" r="1.3" fill="#111"/>
<circle cx="242.44" cy="827.22" r="1.3" fill="#111"/>
<circle cx="246.82" cy="826.57" r="1.3" fill="#111"/>
<circle cx="251.2" cy="826.57" r="1.3" fill="#111"/>
<line x1="263.65" y1="882.4" x2="263.65" y2="887.4" stroke="#222" stroke-width="0.6"/>
<line x1="261.35" y1="882.4" x2="265.95" y2="882.4" stroke="#222" stroke-width="0.6"/>
<circle cx="263.46" cy="883.06" r="1.3" fill="#111"/>
<circle cx="263.46" cy="887" r="1.3" fill="#111"/>
<circle cx="263.46" cy="892.91" r="1.3" fill="#111"/>
<line x1="291.85" y1="852.19" x2="291.85" y2="853.5" stroke="#222" stroke-width="0.6"/>
<line x1="289.55" y1="852.19" x2="294.15" y2="852.19" stroke="#222" stroke-width="0.6"/>
<circle cx="287.52" cy="855.03" r="1.3" fill="#111"/>
<circle cx="291.46" cy="852.4" r="1.3" fill="#111"/>
<circle cx="295.84" cy="854.16" r="1.3" fill="#111"/>
<line x1="308.75" y1="887" x2="308.75" y2="892.3" stroke="#222" stroke-width="0.6"/>
<line x1="306.45" y1="887" x2="311.05" y2="887" stroke="#222" stroke-width="0.6"/>
<circle cx="304.38" cy="895.54" r="1.3" fill="#111"/>
<circle cx="308.98" cy="887.88" r="1.3" fill="#111"/>
<circle cx="313.35" cy="893.35" r="1.3" fill="#111"/>
<line x1="197.8" y1="882" x2="204.6" y2="882" stroke="#222" stroke-width="0.6"/>
<line x1="214.6" y1="905.2" x2="221.4" y2="905.2" stroke="#222" stroke-width="0.6"/>
<line x1="243.1" y1="826.6" x2="249.9" y2="826.6" stroke="#222" stroke-width="0.6"/>
<line x1="189.9" y1="949.4" x2="189.9" y2="817.4" stroke="#b2b2b2" stroke-width="1.4"/>
<line x1="184.9" y1="817.8" x2="189.9" y2="817.8" stroke="#8a8a8a" stroke-width="0.7"/>
<text x="183.2" y="821.54" font-size="10.4" text-anchor="end">80</text>
<line x1="184.9" y1="850.52" x2="189.9" y2="850.52" stroke="#8a8a8a" stroke-width="0.7"/>
<text x="183.2" y="854.27" font-size="10.4" text-anchor="end">60</text>
<line x1="184.9" y1="883.25" x2="189.9" y2="883.25" stroke="#8a8a8a" stroke-width="0.7"/>
<text x="183.2" y="886.99" font-size="10.4" text-anchor="end">40</text>
<line x1="184.9" y1="915.98" x2="189.9" y2="915.98" stroke="#8a8a8a" stroke-width="0.7"/>
<text x="183.2" y="919.72" font-size="10.4" text-anchor="end">20</text>
<line x1="184.9" y1="948.7" x2="189.9" y2="948.7" stroke="#8a8a8a" stroke-width="0.7"/>
<text x="183.2" y="952.44" font-size="10.4" text-anchor="end">0</text>
<line x1="184.4" y1="948.7" x2="321.5" y2="948.7" stroke="#b2b2b2" stroke-width="1.4"/>
<line x1="210.3" y1="948.7" x2="210.3" y2="953.9" stroke="#555" stroke-width="0.7"/>
<line x1="255.1" y1="948.7" x2="255.1" y2="953.9" stroke="#555" stroke-width="0.7"/>
<line x1="300.2" y1="948.7" x2="300.2" y2="953.9" stroke="#555" stroke-width="0.7"/>
<rect x="277.4" y="816.4" width="14" height="7" fill="#9C9DA1" stroke="#444" stroke-width="0.6"/>
<rect x="277.4" y="830.2" width="14" height="7" fill="#E79A47" stroke="#444" stroke-width="0.6"/>
<text x="295.6" y="823.5" font-size="10.4">Ctrl</text>
<text x="295.6" y="837.1" font-size="10.4">G3P</text>
<line x1="204.6" y1="872.8" x2="223.2" y2="872.8" stroke="#8a8a8a" stroke-width="0.9"/>
<text x="213.25" y="872.2" font-size="11.8" text-anchor="middle" font-family="DejaVu Sans, Liberation Sans, sans-serif" font-weight="bold" fill="#111" letter-spacing="1.3">***</text>
<line x1="245.7" y1="820" x2="263.2" y2="820" stroke="#8a8a8a" stroke-width="0.9"/>
<text x="254.05" y="819.6" font-size="11.8" text-anchor="middle" font-family="DejaVu Sans, Liberation Sans, sans-serif" font-weight="bold" fill="#111" letter-spacing="1.3">***</text>
<line x1="291.2" y1="849.6" x2="309.9" y2="849.6" stroke="#8a8a8a" stroke-width="0.9"/>
<text x="304.25" y="849.4" font-size="11.8" text-anchor="middle" font-family="DejaVu Sans, Liberation Sans, sans-serif" font-weight="bold" fill="#111" letter-spacing="1.3">***</text>
<text x="215.4" y="965.2" font-size="10.4" text-anchor="middle">CD69</text>
<text x="256.3" y="965.2" font-size="10.4" text-anchor="middle">CD25</text>
<text x="296.6" y="965.2" font-size="10.4" text-anchor="middle">CD44</text>
<text x="156.4" y="889.6" font-size="10.85" text-anchor="middle" transform="rotate(-90 156.4 889.6)">% of CD8<tspan font-size="9.77" dy="-3.25">+</tspan><tspan dy="3.25">T cells</tspan></text>
<text x="168.4" y="890" font-size="10.85" text-anchor="middle" transform="rotate(-90 168.4 890)">(Human CD8<tspan font-size="9.77" dy="-3.25">+</tspan><tspan dy="3.25">T cells)</tspan></text>
<text x="327.4" y="804.9" font-size="14" font-weight="bold" fill="#1a1212">p</text>
<text x="415" y="848.8" font-size="10.4" text-anchor="middle">Hepa1-6 cells</text>
<rect x="353.2" y="852.1" width="119.5" height="45.3" fill="#E7E7E8" stroke="#555" stroke-width="0.9"/>
<text x="340.4" y="867.3" font-size="10.4" text-anchor="middle">PBS</text>
<text x="340.4" y="891.4" font-size="10.4" text-anchor="middle">G3P</text>
<path d="M367.11 860.82Q368.3 862.1 367.55 863.7Q366.8 865.3 365.47 866.37Q364.13 867.44 362.36 867.57Q360.58 867.71 359.65 866.24Q358.72 864.77 357.89 863.44Q357.06 862.1 357.35 860.37Q357.63 858.63 359.11 857.59Q360.6 856.55 362.3 856.85Q364.01 857.15 364.97 858.35Q365.92 859.54 367.11 860.82Z" fill="#5A1D25" stroke="#B9A9A9" stroke-width="0.5" stroke-opacity="0.6"/>
<circle cx="361.3" cy="861.2" r="2.5" fill="#8A353C" opacity="0.85"/>
<circle cx="363.65" cy="863.5" r="1.8" fill="#3A1017" opacity="0.7"/>
<circle cx="360.9" cy="860.35" r="0.85" fill="#D3A3A0" opacity="0.8"/>
<path d="M391.49 860.24Q391.78 861.3 391.8 862.58Q391.83 863.86 390.72 864.61Q389.62 865.36 388.34 865.23Q387.06 865.11 386.24 864.25Q385.42 863.39 384.59 862.35Q383.77 861.3 384.19 859.96Q384.61 858.62 385.83 858.03Q387.05 857.44 388.3 857.44Q389.55 857.45 390.38 858.32Q391.21 859.19 391.49 860.24Z" fill="#5A1D25" stroke="#B9A9A9" stroke-width="0.5" stroke-opacity="0.6"/>
<circle cx="387.42" cy="860.58" r="2" fill="#8A353C" opacity="0.85"/>
<circle cx="389.3" cy="862.42" r="1.44" fill="#3A1017" opacity="0.7"/>
<circle cx="387.1" cy="859.9" r="0.68" fill="#D3A3A0" opacity="0.8"/>
<path d="M421.69 859.46Q422.45 860.7 421.64 861.89Q420.82 863.07 420.11 863.7Q419.4 864.32 418.4 865.24Q417.39 866.15 416.86 864.64Q416.33 863.12 416.1 861.91Q415.88 860.7 415.85 859.22Q415.82 857.73 416.74 857.1Q417.67 856.48 418.71 855.96Q419.76 855.45 420.34 856.84Q420.92 858.22 421.69 859.46Z" fill="#5A1D25" stroke="#B9A9A9" stroke-width="0.5" stroke-opacity="0.6"/>
<circle cx="417.9" cy="859.85" r="1.6" fill="#8A353C" opacity="0.85"/>
<circle cx="419.4" cy="862.02" r="1.15" fill="#3A1017" opacity="0.7"/>
<circle cx="417.64" cy="859.06" r="0.54" fill="#D3A3A0" opacity="0.8"/>
<path d="M445.07 859.88Q445.85 861.1 445.42 862.58Q444.98 864.06 443.77 864.93Q442.55 865.79 441.31 865.11Q440.07 864.44 438.89 864.06Q437.71 863.69 437.45 862.39Q437.19 861.1 437.49 859.84Q437.79 858.58 438.92 858.13Q440.04 857.69 441.12 857.63Q442.19 857.58 443.24 858.12Q444.29 858.66 445.07 859.88Z" fill="#5A1D25" stroke="#B9A9A9" stroke-width="0.5" stroke-opacity="0.6"/>
<circle cx="440.22" cy="860.34" r="2" fill="#8A353C" opacity="0.85"/>
<circle cx="442.1" cy="862.28" r="1.44" fill="#3A1017" opacity="0.7"/>
<circle cx="439.9" cy="859.63" r="0.68" fill="#D3A3A0" opacity="0.8"/>
<path d="M468.97 859.23Q469.4 860.2 469.06 861.22Q468.73 862.23 467.41 862.47Q466.08 862.7 464.79 863.19Q463.49 863.68 462.82 862.72Q462.15 861.75 461.41 860.98Q460.67 860.2 461.48 859.46Q462.29 858.72 462.95 857.87Q463.62 857.01 464.84 857.37Q466.07 857.74 467.31 858Q468.55 858.27 468.97 859.23Z" fill="#5A1D25" stroke="#B9A9A9" stroke-width="0.5" stroke-opacity="0.6"/>
<circle cx="464.12" cy="859.66" r="1.5" fill="#8A353C" opacity="0.85"/>
<circle cx="466" cy="861.04" r="1.08" fill="#3A1017" opacity="0.7"/>
<circle cx="463.8" cy="859.15" r="0.51" fill="#D3A3A0" opacity="0.8"/>
<path d="M368.47 884.45Q369.13 886.2 369.15 888.44Q369.16 890.67 367.22 891.95Q365.28 893.23 363.26 892.42Q361.24 891.62 359.1 891.1Q356.96 890.59 356.57 888.39Q356.17 886.2 357.47 884.66Q358.77 883.12 359.7 881.01Q360.63 878.89 362.71 879.79Q364.79 880.68 366.3 881.69Q367.81 882.71 368.47 884.45Z" fill="#5A1D25" stroke="#B9A9A9" stroke-width="0.5" stroke-opacity="0.6"/>
<circle cx="361.59" cy="885.05" r="3.2" fill="#8A353C" opacity="0.85"/>
<circle cx="364.6" cy="887.99" r="2.3" fill="#3A1017" opacity="0.7"/>
<circle cx="361.08" cy="883.96" r="1.09" fill="#D3A3A0" opacity="0.8"/>
<path d="M394.01 883.42Q394.85 885.2 393.72 886.76Q392.58 888.32 391.32 889.29Q390.06 890.26 388.35 890.73Q386.65 891.2 385.67 889.66Q384.7 888.11 383.39 886.65Q382.08 885.2 382.71 883.22Q383.33 881.25 385.2 880.89Q387.06 880.53 388.74 879.77Q390.41 879 391.79 880.32Q393.16 881.63 394.01 883.42Z" fill="#5A1D25" stroke="#B9A9A9" stroke-width="0.5" stroke-opacity="0.6"/>
<circle cx="387.25" cy="884.12" r="2.85" fill="#8A353C" opacity="0.85"/>
<circle cx="389.93" cy="886.88" r="2.05" fill="#3A1017" opacity="0.7"/>
<circle cx="386.79" cy="883.1" r="0.97" fill="#D3A3A0" opacity="0.8"/>
<path d="M423.35 883.55Q424.43 885.2 423.87 887.26Q423.31 889.32 421.77 890.92Q420.23 892.52 418.3 891.54Q416.36 890.57 415.17 889.44Q413.98 888.31 412.55 886.76Q411.12 885.2 412.28 883.43Q413.44 881.66 414.83 880.52Q416.23 879.38 418.17 878.81Q420.12 878.25 421.19 880.07Q422.26 881.9 423.35 883.55Z" fill="#5A1D25" stroke="#B9A9A9" stroke-width="0.5" stroke-opacity="0.6"/>
<circle cx="416.68" cy="884.05" r="3" fill="#8A353C" opacity="0.85"/>
<circle cx="419.5" cy="886.99" r="2.16" fill="#3A1017" opacity="0.7"/>
<circle cx="415.9" cy="885.84" r="2.52" fill="#A8714A" opacity="0.85"/>
<circle cx="418.3" cy="882.64" r="1.68" fill="#B98A62" opacity="0.8"/>
<circle cx="416.2" cy="882.96" r="1.02" fill="#D3A3A0" opacity="0.8"/>
<path d="M447.13 884.1Q446.91 886.2 446.5 887.76Q446.1 889.32 445.14 890.86Q444.19 892.4 442.64 891.88Q441.09 891.36 440 890.34Q438.9 889.32 438.11 887.76Q437.33 886.2 437.86 884.42Q438.4 882.65 439.73 881.8Q441.07 880.95 442.56 880.73Q444.05 880.51 445.7 881.25Q447.35 882 447.13 884.1Z" fill="#5A1D25" stroke="#B9A9A9" stroke-width="0.5" stroke-opacity="0.6"/>
<circle cx="441.36" cy="885.08" r="2.6" fill="#8A353C" opacity="0.85"/>
<circle cx="443.8" cy="887.94" r="1.87" fill="#3A1017" opacity="0.7"/>
<circle cx="440.94" cy="884.03" r="0.88" fill="#D3A3A0" opacity="0.8"/>
<path d="M470.81 885.35Q471.47 886.8 470.72 888.19Q469.96 889.58 468.8 890.93Q467.63 892.29 465.81 891.74Q463.98 891.18 462.45 890.48Q460.92 889.78 460.57 888.29Q460.22 886.8 460.66 885.37Q461.11 883.94 462.29 882.49Q463.47 881.05 465.28 881.92Q467.09 882.79 468.62 883.34Q470.15 883.9 470.81 885.35Z" fill="#5A1D25" stroke="#B9A9A9" stroke-width="0.5" stroke-opacity="0.6"/>
<circle cx="464.35" cy="885.9" r="2.5" fill="#8A353C" opacity="0.85"/>
<circle cx="467.03" cy="888.2" r="1.8" fill="#3A1017" opacity="0.7"/>
<circle cx="463.61" cy="887.3" r="2.1" fill="#A8714A" opacity="0.85"/>
<circle cx="465.89" cy="884.8" r="1.4" fill="#B98A62" opacity="0.8"/>
<circle cx="463.89" cy="885.05" r="0.85" fill="#D3A3A0" opacity="0.8"/>
<line x1="460.5" y1="902.6" x2="469.7" y2="902.6" stroke="#222" stroke-width="1.3"/>
<text x="464.4" y="912.2" font-size="10.4" text-anchor="middle">1cm</text>
<text x="475" y="804.1" font-size="14" font-weight="bold" fill="#1a1212">q</text>
<line x1="572" y1="914.92" x2="572" y2="927.48" stroke="#C4C4C4" stroke-width="0.6"/>
<line x1="570.7" y1="914.92" x2="573.3" y2="914.92" stroke="#C4C4C4" stroke-width="0.6"/>
<line x1="570.7" y1="927.48" x2="573.3" y2="927.48" stroke="#C4C4C4" stroke-width="0.6"/>
<line x1="620.7" y1="899.23" x2="620.7" y2="923.4" stroke="#C4C4C4" stroke-width="0.6"/>
<line x1="619.4" y1="899.23" x2="622" y2="899.23" stroke="#C4C4C4" stroke-width="0.6"/>
<line x1="619.4" y1="923.4" x2="622" y2="923.4" stroke="#C4C4C4" stroke-width="0.6"/>
<line x1="669.6" y1="891.07" x2="669.6" y2="912.41" stroke="#C4C4C4" stroke-width="0.6"/>
<line x1="668.3" y1="891.07" x2="670.9" y2="891.07" stroke="#C4C4C4" stroke-width="0.6"/>
<line x1="668.3" y1="912.41" x2="670.9" y2="912.41" stroke="#C4C4C4" stroke-width="0.6"/>
<path d="M523.4 928.73 L572 921.83 L620.7 910.84 L669.6 901.42" fill="none" stroke="#7D7E82" stroke-width="1.4" stroke-linejoin="round"/>
<line x1="572" y1="908.64" x2="572" y2="916.18" stroke="#F6B57A" stroke-width="0.6"/>
<line x1="570.7" y1="908.64" x2="573.3" y2="908.64" stroke="#F6B57A" stroke-width="0.6"/>
<line x1="570.7" y1="916.18" x2="573.3" y2="916.18" stroke="#F6B57A" stroke-width="0.6"/>
<line x1="620.7" y1="884.16" x2="620.7" y2="890.44" stroke="#F6B57A" stroke-width="0.6"/>
<line x1="619.4" y1="884.16" x2="622" y2="884.16" stroke="#F6B57A" stroke-width="0.6"/>
<line x1="619.4" y1="890.44" x2="622" y2="890.44" stroke="#F6B57A" stroke-width="0.6"/>
<line x1="669.6" y1="843.99" x2="669.6" y2="859.68" stroke="#F6B57A" stroke-width="0.6"/>
<line x1="668.3" y1="843.99" x2="670.9" y2="843.99" stroke="#F6B57A" stroke-width="0.6"/>
<line x1="668.3" y1="859.68" x2="670.9" y2="859.68" stroke="#F6B57A" stroke-width="0.6"/>
<path d="M523.4 928.73 L572 912.41 L620.7 887.3 L669.6 851.83" fill="none" stroke="#F08B2C" stroke-width="1.4" stroke-linejoin="round"/>
<line x1="523.4" y1="933.8" x2="523.4" y2="835.7" stroke="#b2b2b2" stroke-width="1.4"/>
<line x1="519.6" y1="836.1" x2="523.4" y2="836.1" stroke="#8a8a8a" stroke-width="0.7"/>
<text x="518.7" y="839.77" font-size="10.2" text-anchor="end">1000</text>
<line x1="519.6" y1="855.5" x2="523.4" y2="855.5" stroke="#8a8a8a" stroke-width="0.7"/>
<text x="518.7" y="859.17" font-size="10.2" text-anchor="end">800</text>
<line x1="519.6" y1="874.9" x2="523.4" y2="874.9" stroke="#8a8a8a" stroke-width="0.7"/>
<text x="518.7" y="878.57" font-size="10.2" text-anchor="end">600</text>
<line x1="519.6" y1="894.3" x2="523.4" y2="894.3" stroke="#8a8a8a" stroke-width="0.7"/>
<text x="518.7" y="897.97" font-size="10.2" text-anchor="end">400</text>
<line x1="519.6" y1="913.7" x2="523.4" y2="913.7" stroke="#8a8a8a" stroke-width="0.7"/>
<text x="518.7" y="917.37" font-size="10.2" text-anchor="end">200</text>
<line x1="519.6" y1="933.1" x2="523.4" y2="933.1" stroke="#8a8a8a" stroke-width="0.7"/>
<text x="518.7" y="936.77" font-size="10.2" text-anchor="end">0</text>
<line x1="522.7" y1="933.1" x2="670.2" y2="933.1" stroke="#b2b2b2" stroke-width="1.4"/>
<line x1="523.4" y1="933.1" x2="523.4" y2="937.3" stroke="#555" stroke-width="0.7"/>
<text x="523.4" y="947.9" font-size="10.2" text-anchor="middle">7</text>
<line x1="572" y1="933.1" x2="572" y2="937.3" stroke="#555" stroke-width="0.7"/>
<text x="572" y="947.9" font-size="10.2" text-anchor="middle">13</text>
<line x1="620.7" y1="933.1" x2="620.7" y2="937.3" stroke="#555" stroke-width="0.7"/>
<text x="620.7" y="947.9" font-size="10.2" text-anchor="middle">19</text>
<line x1="669.6" y1="933.1" x2="669.6" y2="937.3" stroke="#555" stroke-width="0.7"/>
<text x="669.6" y="947.9" font-size="10.2" text-anchor="middle">25</text>
<text x="600.7" y="958.5" font-size="10.2" text-anchor="middle">Days</text>
<line x1="530.6" y1="841.8" x2="541.6" y2="841.8" stroke="#7D7E82" stroke-width="1.3"/>
<circle cx="536.1" cy="841.8" r="1.4" fill="#7D7E82"/>
<text x="546.3" y="844.9" font-size="10.2">PBS</text>
<line x1="530.6" y1="853.7" x2="541.6" y2="853.7" stroke="#F08B2C" stroke-width="1.3"/>
<circle cx="536.1" cy="853.7" r="1.4" fill="#F08B2C"/>
<text x="546.3" y="857.5" font-size="10.2">G3P</text>
<line x1="674.6" y1="855.3" x2="674.6" y2="901.4" stroke="#999" stroke-width="0.9"/>
<g transform="translate(680.9 878.7) rotate(90)"><text x="0.65" y="6.2" font-size="11.8" text-anchor="middle" letter-spacing="1.3" font-family="DejaVu Sans, Liberation Sans, sans-serif" font-weight="bold" fill="#111">***</text></g>
<text x="493.2" y="885.7" font-size="10.4" text-anchor="middle" transform="rotate(-90 493.2 885.7)">Tumor volume (mm³)</text>
</svg>
</body></html>
